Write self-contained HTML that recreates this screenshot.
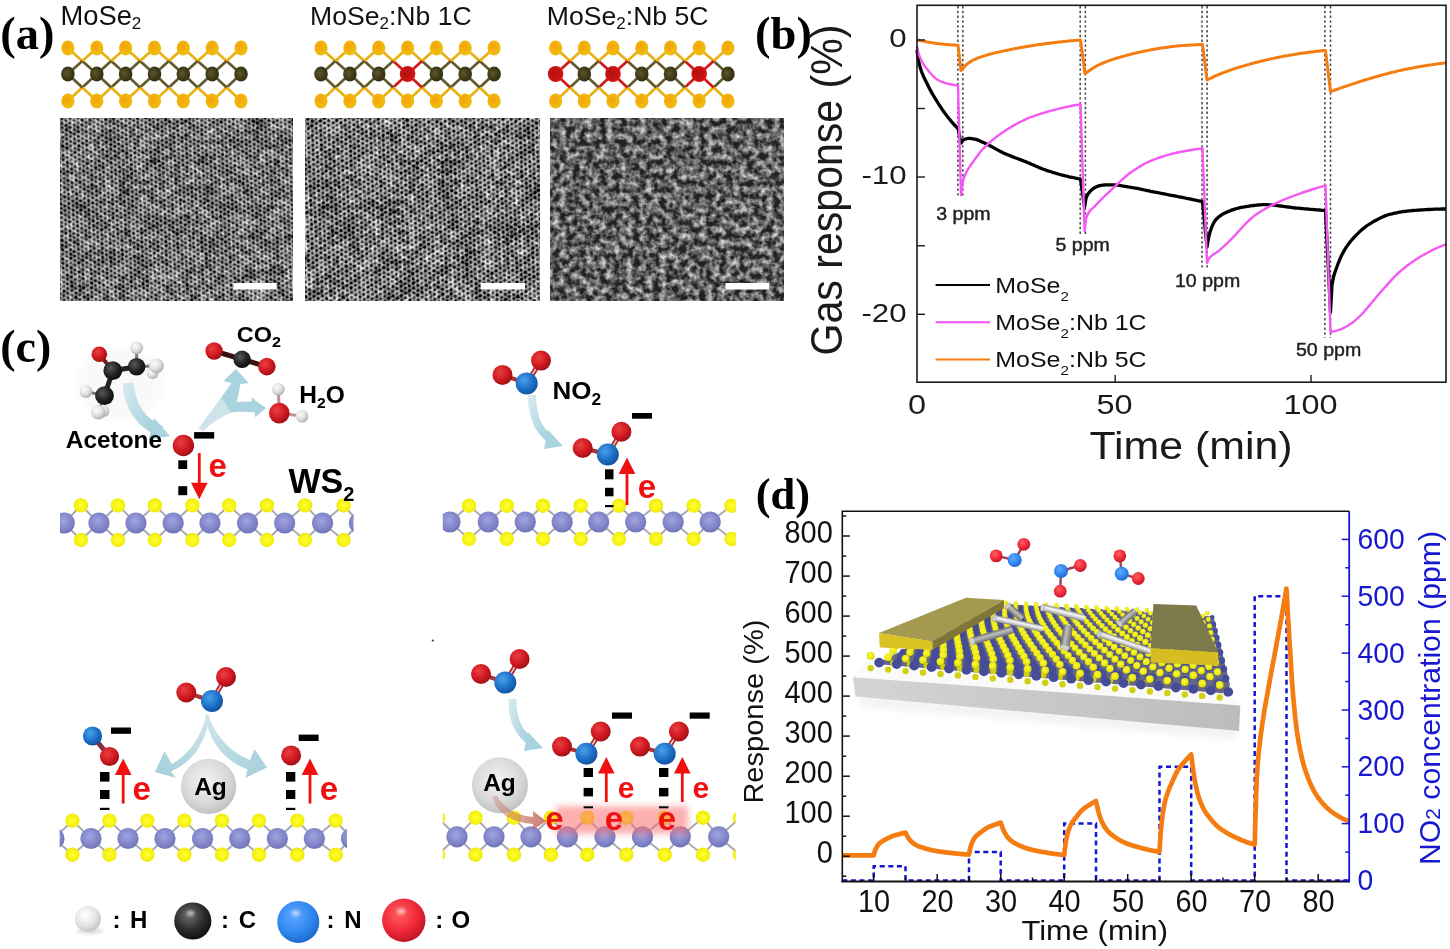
<!DOCTYPE html>
<html lang="en"><head><meta charset="utf-8"><title>Figure</title>
<style>
html,body{margin:0;padding:0;background:#fff;}
body{width:1450px;height:949px;overflow:hidden;}
svg{display:block;}
text.s{font-family:"Liberation Sans",sans-serif;}
text.r{font-family:"Liberation Serif",serif;}
</style></head><body>
<svg width="1450" height="949" viewBox="0 0 1450 949">
<defs>

<radialGradient id="gSe" cx="0.4" cy="0.4" r="0.7"><stop offset="0" stop-color="#f6a010"/><stop offset="0.6" stop-color="#f0b808"/><stop offset="1" stop-color="#e8c020"/></radialGradient>
<radialGradient id="gMo" cx="0.4" cy="0.45" r="0.7"><stop offset="0" stop-color="#5e5628"/><stop offset="0.6" stop-color="#3c3818"/><stop offset="1" stop-color="#2a2a18"/></radialGradient>
<radialGradient id="gNb" cx="0.4" cy="0.45" r="0.7"><stop offset="0" stop-color="#b01010"/><stop offset="0.7" stop-color="#d01414"/><stop offset="1" stop-color="#e02020"/></radialGradient>
<pattern id="lat1" width="4.6" height="7.96" patternUnits="userSpaceOnUse" patternTransform="rotate(-32)">
 <rect width="4.6" height="7.96" fill="#bcbcbc"/><circle cx="1.15" cy="1.99" r="1.55" fill="#2a2a2a"/><circle cx="3.45" cy="5.97" r="1.55" fill="#2a2a2a"/>
</pattern>
<pattern id="lat2" width="4.8" height="8.3" patternUnits="userSpaceOnUse" patternTransform="rotate(28)">
 <rect width="4.8" height="8.3" fill="#c4c4c4"/><circle cx="1.2" cy="2.07" r="1.6" fill="#262626"/><circle cx="3.6" cy="6.22" r="1.6" fill="#262626"/>
</pattern>
<pattern id="lat3" width="5" height="8.6" patternUnits="userSpaceOnUse" patternTransform="rotate(40)">
 <rect width="5" height="8.6" fill="#909090"/><circle cx="1.2" cy="2.1" r="1.4" fill="#505050"/><circle cx="3.7" cy="6.4" r="1.4" fill="#505050"/>
</pattern>
<filter id="tem1" x="0" y="0" width="1" height="1" color-interpolation-filters="sRGB">
 <feTurbulence type="fractalNoise" baseFrequency="0.06" numOctaves="4" seed="3" result="n"/>
 <feColorMatrix in="n" type="matrix" values="1 0 0 0 0  1 0 0 0 0  1 0 0 0 0  0 0 0 0 1" result="g"/>
 <feTurbulence type="fractalNoise" baseFrequency="0.2" numOctaves="2" seed="8" result="m"/>
 <feColorMatrix in="m" type="matrix" values="1 0 0 0 0  1 0 0 0 0  1 0 0 0 0  0 0 0 0 1" result="mg"/>
 <feComposite in="SourceGraphic" in2="g" operator="arithmetic" k1="0" k2="0.9" k3="0.4" k4="-0.235" result="c"/>
 <feComposite in="c" in2="mg" operator="arithmetic" k1="0" k2="1" k3="0.8" k4="-0.4" result="c2"/>
 <feGaussianBlur in="c2" stdDeviation="0.6"/>
</filter>
<filter id="tem2" x="0" y="0" width="1" height="1" color-interpolation-filters="sRGB">
 <feTurbulence type="fractalNoise" baseFrequency="0.05" numOctaves="4" seed="14" result="n"/>
 <feColorMatrix in="n" type="matrix" values="1 0 0 0 0  1 0 0 0 0  1 0 0 0 0  0 0 0 0 1" result="g"/>
 <feTurbulence type="fractalNoise" baseFrequency="0.2" numOctaves="2" seed="31" result="m"/>
 <feColorMatrix in="m" type="matrix" values="1 0 0 0 0  1 0 0 0 0  1 0 0 0 0  0 0 0 0 1" result="mg"/>
 <feComposite in="SourceGraphic" in2="g" operator="arithmetic" k1="0" k2="0.9" k3="0.5" k4="-0.295" result="c"/>
 <feComposite in="c" in2="mg" operator="arithmetic" k1="0" k2="1" k3="0.9" k4="-0.45" result="c2"/>
 <feGaussianBlur in="c2" stdDeviation="0.6"/>
</filter>
<filter id="tem3" x="0" y="0" width="1" height="1" color-interpolation-filters="sRGB">
 <feTurbulence type="fractalNoise" baseFrequency="0.15" numOctaves="3" seed="23" result="n"/>
 <feColorMatrix in="n" type="matrix" values="1 0 0 0 0  1 0 0 0 0  1 0 0 0 0  0 0 0 0 1" result="g"/>
 <feComposite in="SourceGraphic" in2="g" operator="arithmetic" k1="0" k2="0.3" k3="1.9" k4="-0.75" result="c"/>
 <feComponentTransfer in="c" result="c2"><feFuncR type="linear" slope="0.72" intercept="0.13"/><feFuncG type="linear" slope="0.72" intercept="0.13"/><feFuncB type="linear" slope="0.72" intercept="0.13"/></feComponentTransfer>
 <feGaussianBlur in="c2" stdDeviation="0.75"/>
</filter>


<radialGradient id="gO" cx="0.38" cy="0.35" r="0.75"><stop offset="0" stop-color="#e84040"/><stop offset="0.55" stop-color="#d01820"/><stop offset="1" stop-color="#8c1010"/></radialGradient>
<radialGradient id="gN" cx="0.38" cy="0.35" r="0.75"><stop offset="0" stop-color="#4aa0e8"/><stop offset="0.55" stop-color="#1c70c8"/><stop offset="1" stop-color="#104890"/></radialGradient>
<radialGradient id="gC" cx="0.38" cy="0.35" r="0.75"><stop offset="0" stop-color="#585858"/><stop offset="0.55" stop-color="#222"/><stop offset="1" stop-color="#050505"/></radialGradient>
<radialGradient id="gH" cx="0.38" cy="0.35" r="0.75"><stop offset="0" stop-color="#ffffff"/><stop offset="0.55" stop-color="#dcdcdc"/><stop offset="1" stop-color="#a0a0a0"/></radialGradient>
<radialGradient id="gW" cx="0.45" cy="0.4" r="0.75"><stop offset="0" stop-color="#a0a4e0"/><stop offset="0.55" stop-color="#8084c8"/><stop offset="1" stop-color="#6468a8"/></radialGradient>
<radialGradient id="gS" cx="0.5" cy="0.5" r="0.75"><stop offset="0" stop-color="#ffff30"/><stop offset="0.55" stop-color="#f4f010"/><stop offset="1" stop-color="#e0d800"/></radialGradient>
<radialGradient id="gAg" cx="0.45" cy="0.4" r="0.75"><stop offset="0" stop-color="#f4f4f4"/><stop offset="0.55" stop-color="#d8d8d8"/><stop offset="1" stop-color="#b0b0b0"/></radialGradient>
<radialGradient id="gLH" cx="0.4" cy="0.35" r="0.75"><stop offset="0" stop-color="#ffffff"/><stop offset="0.55" stop-color="#e4e4e4"/><stop offset="1" stop-color="#b8b8b8"/></radialGradient>
<radialGradient id="gLC" cx="0.4" cy="0.35" r="0.75"><stop offset="0" stop-color="#707070"/><stop offset="0.55" stop-color="#2a2a2a"/><stop offset="1" stop-color="#080808"/></radialGradient>
<radialGradient id="gLN" cx="0.4" cy="0.35" r="0.75"><stop offset="0" stop-color="#60a8ff"/><stop offset="0.55" stop-color="#3088f0"/><stop offset="1" stop-color="#1860c0"/></radialGradient>
<radialGradient id="gLO" cx="0.4" cy="0.35" r="0.75"><stop offset="0" stop-color="#ff6060"/><stop offset="0.55" stop-color="#f02838"/><stop offset="1" stop-color="#b01020"/></radialGradient>
<linearGradient id="gArr" x1="0" y1="0" x2="1" y2="1"><stop offset="0" stop-color="#d4e8ee"/><stop offset="1" stop-color="#a0cedb"/></linearGradient>
<linearGradient id="gArrL" x1="1" y1="0" x2="0" y2="1"><stop offset="0" stop-color="#cfe6ec"/><stop offset="1" stop-color="#a3cfdb"/></linearGradient>
<linearGradient id="gArrR" x1="0" y1="0" x2="1" y2="1"><stop offset="0" stop-color="#cfe6ec"/><stop offset="1" stop-color="#a3cfdb"/></linearGradient>
<linearGradient id="gBrown" x1="0" y1="0" x2="1" y2="0"><stop offset="0" stop-color="#c87868" stop-opacity="0.35"/><stop offset="1" stop-color="#c46a60" stop-opacity="0.9"/></linearGradient>
<filter id="blur2" x="-0.2" y="-0.5" width="1.4" height="2"><feGaussianBlur stdDeviation="3"/></filter>
<filter id="shadow" x="-0.3" y="-0.3" width="1.6" height="1.6"><feGaussianBlur stdDeviation="1.5"/></filter>
<linearGradient id="dSlab" x1="0" y1="0" x2="1" y2="0"><stop offset="0" stop-color="#d4d4d4"/><stop offset="1" stop-color="#bcbcbc"/></linearGradient>
<linearGradient id="dWire" x1="0" y1="0" x2="0" y2="1"><stop offset="0" stop-color="#8c8c8c"/><stop offset="0.35" stop-color="#f8f8f8"/><stop offset="0.7" stop-color="#c8c8c8"/><stop offset="1" stop-color="#808080"/></linearGradient>
<linearGradient id="dWireD" x1="0" y1="0" x2="0" y2="1"><stop offset="0" stop-color="#6a6a6a"/><stop offset="0.4" stop-color="#c0c0c0"/><stop offset="1" stop-color="#707070"/></linearGradient>
<linearGradient id="dGoldT" x1="0" y1="1" x2="1" y2="0"><stop offset="0" stop-color="#a89c50"/><stop offset="1" stop-color="#948a48"/></linearGradient>
<radialGradient id="gIS" cx="0.45" cy="0.4" r="0.7"><stop offset="0" stop-color="#fcfc30"/><stop offset="0.7" stop-color="#e6e210"/><stop offset="1" stop-color="#b4b000"/></radialGradient>
<filter id="dsh" x="-0.1" y="-0.5" width="1.2" height="2"><feGaussianBlur stdDeviation="4"/></filter>
</defs>
<rect width="1450" height="949" fill="#fff"/>
<g id="panel_a">
<text class="r" x="0.3" y="49" font-size="46.5" font-weight="bold" fill="#000">(a)</text>
<text class="s" x="60.5" y="25" font-size="27.3" fill="#111">MoSe<tspan font-size="17" dy="4">2</tspan></text>
<text class="s" x="310" y="25" font-size="26.6" fill="#111">MoSe<tspan font-size="17" dy="4">2</tspan><tspan dy="-4">:Nb 1C</tspan></text>
<text class="s" x="546.8" y="25" font-size="26.6" fill="#111">MoSe<tspan font-size="17" dy="4">2</tspan><tspan dy="-4">:Nb 5C</tspan></text>
<line x1="67.9" y1="48" x2="82.3" y2="61" stroke="#eab010" stroke-width="2.7"/>
<line x1="82.3" y1="61" x2="96.8" y2="74" stroke="#625a2a" stroke-width="2.7"/>
<line x1="67.9" y1="101" x2="82.3" y2="87.5" stroke="#eab010" stroke-width="2.7"/>
<line x1="82.3" y1="87.5" x2="96.8" y2="74" stroke="#625a2a" stroke-width="2.7"/>
<line x1="96.8" y1="48" x2="82.3" y2="61" stroke="#eab010" stroke-width="2.7"/>
<line x1="82.3" y1="61" x2="67.9" y2="74" stroke="#625a2a" stroke-width="2.7"/>
<line x1="96.8" y1="101" x2="82.3" y2="87.5" stroke="#eab010" stroke-width="2.7"/>
<line x1="82.3" y1="87.5" x2="67.9" y2="74" stroke="#625a2a" stroke-width="2.7"/>
<line x1="96.8" y1="48" x2="111.2" y2="61" stroke="#eab010" stroke-width="2.7"/>
<line x1="111.2" y1="61" x2="125.6" y2="74" stroke="#625a2a" stroke-width="2.7"/>
<line x1="96.8" y1="101" x2="111.2" y2="87.5" stroke="#eab010" stroke-width="2.7"/>
<line x1="111.2" y1="87.5" x2="125.6" y2="74" stroke="#625a2a" stroke-width="2.7"/>
<line x1="125.6" y1="48" x2="111.2" y2="61" stroke="#eab010" stroke-width="2.7"/>
<line x1="111.2" y1="61" x2="96.8" y2="74" stroke="#625a2a" stroke-width="2.7"/>
<line x1="125.6" y1="101" x2="111.2" y2="87.5" stroke="#eab010" stroke-width="2.7"/>
<line x1="111.2" y1="87.5" x2="96.8" y2="74" stroke="#625a2a" stroke-width="2.7"/>
<line x1="125.6" y1="48" x2="140" y2="61" stroke="#eab010" stroke-width="2.7"/>
<line x1="140" y1="61" x2="154.5" y2="74" stroke="#625a2a" stroke-width="2.7"/>
<line x1="125.6" y1="101" x2="140" y2="87.5" stroke="#eab010" stroke-width="2.7"/>
<line x1="140" y1="87.5" x2="154.5" y2="74" stroke="#625a2a" stroke-width="2.7"/>
<line x1="154.5" y1="48" x2="140" y2="61" stroke="#eab010" stroke-width="2.7"/>
<line x1="140" y1="61" x2="125.6" y2="74" stroke="#625a2a" stroke-width="2.7"/>
<line x1="154.5" y1="101" x2="140" y2="87.5" stroke="#eab010" stroke-width="2.7"/>
<line x1="140" y1="87.5" x2="125.6" y2="74" stroke="#625a2a" stroke-width="2.7"/>
<line x1="154.5" y1="48" x2="168.9" y2="61" stroke="#eab010" stroke-width="2.7"/>
<line x1="168.9" y1="61" x2="183.3" y2="74" stroke="#625a2a" stroke-width="2.7"/>
<line x1="154.5" y1="101" x2="168.9" y2="87.5" stroke="#eab010" stroke-width="2.7"/>
<line x1="168.9" y1="87.5" x2="183.3" y2="74" stroke="#625a2a" stroke-width="2.7"/>
<line x1="183.3" y1="48" x2="168.9" y2="61" stroke="#eab010" stroke-width="2.7"/>
<line x1="168.9" y1="61" x2="154.5" y2="74" stroke="#625a2a" stroke-width="2.7"/>
<line x1="183.3" y1="101" x2="168.9" y2="87.5" stroke="#eab010" stroke-width="2.7"/>
<line x1="168.9" y1="87.5" x2="154.5" y2="74" stroke="#625a2a" stroke-width="2.7"/>
<line x1="183.3" y1="48" x2="197.7" y2="61" stroke="#eab010" stroke-width="2.7"/>
<line x1="197.7" y1="61" x2="212.2" y2="74" stroke="#625a2a" stroke-width="2.7"/>
<line x1="183.3" y1="101" x2="197.7" y2="87.5" stroke="#eab010" stroke-width="2.7"/>
<line x1="197.7" y1="87.5" x2="212.2" y2="74" stroke="#625a2a" stroke-width="2.7"/>
<line x1="212.2" y1="48" x2="197.7" y2="61" stroke="#eab010" stroke-width="2.7"/>
<line x1="197.7" y1="61" x2="183.3" y2="74" stroke="#625a2a" stroke-width="2.7"/>
<line x1="212.2" y1="101" x2="197.7" y2="87.5" stroke="#eab010" stroke-width="2.7"/>
<line x1="197.7" y1="87.5" x2="183.3" y2="74" stroke="#625a2a" stroke-width="2.7"/>
<line x1="212.2" y1="48" x2="226.6" y2="61" stroke="#eab010" stroke-width="2.7"/>
<line x1="226.6" y1="61" x2="241" y2="74" stroke="#625a2a" stroke-width="2.7"/>
<line x1="212.2" y1="101" x2="226.6" y2="87.5" stroke="#eab010" stroke-width="2.7"/>
<line x1="226.6" y1="87.5" x2="241" y2="74" stroke="#625a2a" stroke-width="2.7"/>
<line x1="241" y1="48" x2="226.6" y2="61" stroke="#eab010" stroke-width="2.7"/>
<line x1="226.6" y1="61" x2="212.2" y2="74" stroke="#625a2a" stroke-width="2.7"/>
<line x1="241" y1="101" x2="226.6" y2="87.5" stroke="#eab010" stroke-width="2.7"/>
<line x1="226.6" y1="87.5" x2="212.2" y2="74" stroke="#625a2a" stroke-width="2.7"/>
<ellipse cx="67.9" cy="48" rx="6.6" ry="7.6" fill="url(#gSe)"/>
<ellipse cx="67.9" cy="101" rx="6.6" ry="7.6" fill="url(#gSe)"/>
<ellipse cx="67.9" cy="74" rx="6.8" ry="7.4" fill="url(#gMo)"/>
<ellipse cx="96.8" cy="48" rx="6.6" ry="7.6" fill="url(#gSe)"/>
<ellipse cx="96.8" cy="101" rx="6.6" ry="7.6" fill="url(#gSe)"/>
<ellipse cx="96.8" cy="74" rx="6.8" ry="7.4" fill="url(#gMo)"/>
<ellipse cx="125.6" cy="48" rx="6.6" ry="7.6" fill="url(#gSe)"/>
<ellipse cx="125.6" cy="101" rx="6.6" ry="7.6" fill="url(#gSe)"/>
<ellipse cx="125.6" cy="74" rx="6.8" ry="7.4" fill="url(#gMo)"/>
<ellipse cx="154.5" cy="48" rx="6.6" ry="7.6" fill="url(#gSe)"/>
<ellipse cx="154.5" cy="101" rx="6.6" ry="7.6" fill="url(#gSe)"/>
<ellipse cx="154.5" cy="74" rx="6.8" ry="7.4" fill="url(#gMo)"/>
<ellipse cx="183.3" cy="48" rx="6.6" ry="7.6" fill="url(#gSe)"/>
<ellipse cx="183.3" cy="101" rx="6.6" ry="7.6" fill="url(#gSe)"/>
<ellipse cx="183.3" cy="74" rx="6.8" ry="7.4" fill="url(#gMo)"/>
<ellipse cx="212.2" cy="48" rx="6.6" ry="7.6" fill="url(#gSe)"/>
<ellipse cx="212.2" cy="101" rx="6.6" ry="7.6" fill="url(#gSe)"/>
<ellipse cx="212.2" cy="74" rx="6.8" ry="7.4" fill="url(#gMo)"/>
<ellipse cx="241" cy="48" rx="6.6" ry="7.6" fill="url(#gSe)"/>
<ellipse cx="241" cy="101" rx="6.6" ry="7.6" fill="url(#gSe)"/>
<ellipse cx="241" cy="74" rx="6.8" ry="7.4" fill="url(#gMo)"/>
<line x1="321" y1="48" x2="335.4" y2="61" stroke="#eab010" stroke-width="2.7"/>
<line x1="335.4" y1="61" x2="349.9" y2="74" stroke="#625a2a" stroke-width="2.7"/>
<line x1="321" y1="101" x2="335.4" y2="87.5" stroke="#eab010" stroke-width="2.7"/>
<line x1="335.4" y1="87.5" x2="349.9" y2="74" stroke="#625a2a" stroke-width="2.7"/>
<line x1="349.9" y1="48" x2="335.4" y2="61" stroke="#eab010" stroke-width="2.7"/>
<line x1="335.4" y1="61" x2="321" y2="74" stroke="#625a2a" stroke-width="2.7"/>
<line x1="349.9" y1="101" x2="335.4" y2="87.5" stroke="#eab010" stroke-width="2.7"/>
<line x1="335.4" y1="87.5" x2="321" y2="74" stroke="#625a2a" stroke-width="2.7"/>
<line x1="349.9" y1="48" x2="364.3" y2="61" stroke="#eab010" stroke-width="2.7"/>
<line x1="364.3" y1="61" x2="378.7" y2="74" stroke="#625a2a" stroke-width="2.7"/>
<line x1="349.9" y1="101" x2="364.3" y2="87.5" stroke="#eab010" stroke-width="2.7"/>
<line x1="364.3" y1="87.5" x2="378.7" y2="74" stroke="#625a2a" stroke-width="2.7"/>
<line x1="378.7" y1="48" x2="364.3" y2="61" stroke="#eab010" stroke-width="2.7"/>
<line x1="364.3" y1="61" x2="349.9" y2="74" stroke="#625a2a" stroke-width="2.7"/>
<line x1="378.7" y1="101" x2="364.3" y2="87.5" stroke="#eab010" stroke-width="2.7"/>
<line x1="364.3" y1="87.5" x2="349.9" y2="74" stroke="#625a2a" stroke-width="2.7"/>
<line x1="378.7" y1="48" x2="393.1" y2="61" stroke="#eab010" stroke-width="2.7"/>
<line x1="393.1" y1="61" x2="407.6" y2="74" stroke="#d01818" stroke-width="2.7"/>
<line x1="378.7" y1="101" x2="393.1" y2="87.5" stroke="#eab010" stroke-width="2.7"/>
<line x1="393.1" y1="87.5" x2="407.6" y2="74" stroke="#d01818" stroke-width="2.7"/>
<line x1="407.6" y1="48" x2="393.1" y2="61" stroke="#eab010" stroke-width="2.7"/>
<line x1="393.1" y1="61" x2="378.7" y2="74" stroke="#625a2a" stroke-width="2.7"/>
<line x1="407.6" y1="101" x2="393.1" y2="87.5" stroke="#eab010" stroke-width="2.7"/>
<line x1="393.1" y1="87.5" x2="378.7" y2="74" stroke="#625a2a" stroke-width="2.7"/>
<line x1="407.6" y1="48" x2="422" y2="61" stroke="#eab010" stroke-width="2.7"/>
<line x1="422" y1="61" x2="436.4" y2="74" stroke="#625a2a" stroke-width="2.7"/>
<line x1="407.6" y1="101" x2="422" y2="87.5" stroke="#eab010" stroke-width="2.7"/>
<line x1="422" y1="87.5" x2="436.4" y2="74" stroke="#625a2a" stroke-width="2.7"/>
<line x1="436.4" y1="48" x2="422" y2="61" stroke="#eab010" stroke-width="2.7"/>
<line x1="422" y1="61" x2="407.6" y2="74" stroke="#d01818" stroke-width="2.7"/>
<line x1="436.4" y1="101" x2="422" y2="87.5" stroke="#eab010" stroke-width="2.7"/>
<line x1="422" y1="87.5" x2="407.6" y2="74" stroke="#d01818" stroke-width="2.7"/>
<line x1="436.4" y1="48" x2="450.8" y2="61" stroke="#eab010" stroke-width="2.7"/>
<line x1="450.8" y1="61" x2="465.2" y2="74" stroke="#625a2a" stroke-width="2.7"/>
<line x1="436.4" y1="101" x2="450.8" y2="87.5" stroke="#eab010" stroke-width="2.7"/>
<line x1="450.8" y1="87.5" x2="465.2" y2="74" stroke="#625a2a" stroke-width="2.7"/>
<line x1="465.2" y1="48" x2="450.8" y2="61" stroke="#eab010" stroke-width="2.7"/>
<line x1="450.8" y1="61" x2="436.4" y2="74" stroke="#625a2a" stroke-width="2.7"/>
<line x1="465.2" y1="101" x2="450.8" y2="87.5" stroke="#eab010" stroke-width="2.7"/>
<line x1="450.8" y1="87.5" x2="436.4" y2="74" stroke="#625a2a" stroke-width="2.7"/>
<line x1="465.2" y1="48" x2="479.7" y2="61" stroke="#eab010" stroke-width="2.7"/>
<line x1="479.7" y1="61" x2="494.1" y2="74" stroke="#625a2a" stroke-width="2.7"/>
<line x1="465.2" y1="101" x2="479.7" y2="87.5" stroke="#eab010" stroke-width="2.7"/>
<line x1="479.7" y1="87.5" x2="494.1" y2="74" stroke="#625a2a" stroke-width="2.7"/>
<line x1="494.1" y1="48" x2="479.7" y2="61" stroke="#eab010" stroke-width="2.7"/>
<line x1="479.7" y1="61" x2="465.2" y2="74" stroke="#625a2a" stroke-width="2.7"/>
<line x1="494.1" y1="101" x2="479.7" y2="87.5" stroke="#eab010" stroke-width="2.7"/>
<line x1="479.7" y1="87.5" x2="465.2" y2="74" stroke="#625a2a" stroke-width="2.7"/>
<ellipse cx="321" cy="48" rx="6.6" ry="7.6" fill="url(#gSe)"/>
<ellipse cx="321" cy="101" rx="6.6" ry="7.6" fill="url(#gSe)"/>
<ellipse cx="321" cy="74" rx="6.8" ry="7.4" fill="url(#gMo)"/>
<ellipse cx="349.9" cy="48" rx="6.6" ry="7.6" fill="url(#gSe)"/>
<ellipse cx="349.9" cy="101" rx="6.6" ry="7.6" fill="url(#gSe)"/>
<ellipse cx="349.9" cy="74" rx="6.8" ry="7.4" fill="url(#gMo)"/>
<ellipse cx="378.7" cy="48" rx="6.6" ry="7.6" fill="url(#gSe)"/>
<ellipse cx="378.7" cy="101" rx="6.6" ry="7.6" fill="url(#gSe)"/>
<ellipse cx="378.7" cy="74" rx="6.8" ry="7.4" fill="url(#gMo)"/>
<ellipse cx="407.6" cy="48" rx="6.6" ry="7.6" fill="url(#gSe)"/>
<ellipse cx="407.6" cy="101" rx="6.6" ry="7.6" fill="url(#gSe)"/>
<ellipse cx="407.6" cy="74" rx="7.8" ry="8" fill="url(#gNb)"/>
<ellipse cx="436.4" cy="48" rx="6.6" ry="7.6" fill="url(#gSe)"/>
<ellipse cx="436.4" cy="101" rx="6.6" ry="7.6" fill="url(#gSe)"/>
<ellipse cx="436.4" cy="74" rx="6.8" ry="7.4" fill="url(#gMo)"/>
<ellipse cx="465.2" cy="48" rx="6.6" ry="7.6" fill="url(#gSe)"/>
<ellipse cx="465.2" cy="101" rx="6.6" ry="7.6" fill="url(#gSe)"/>
<ellipse cx="465.2" cy="74" rx="6.8" ry="7.4" fill="url(#gMo)"/>
<ellipse cx="494.1" cy="48" rx="6.6" ry="7.6" fill="url(#gSe)"/>
<ellipse cx="494.1" cy="101" rx="6.6" ry="7.6" fill="url(#gSe)"/>
<ellipse cx="494.1" cy="74" rx="6.8" ry="7.4" fill="url(#gMo)"/>
<line x1="555.6" y1="48" x2="570" y2="61" stroke="#eab010" stroke-width="2.7"/>
<line x1="570" y1="61" x2="584.3" y2="74" stroke="#625a2a" stroke-width="2.7"/>
<line x1="555.6" y1="101" x2="570" y2="87.5" stroke="#eab010" stroke-width="2.7"/>
<line x1="570" y1="87.5" x2="584.3" y2="74" stroke="#625a2a" stroke-width="2.7"/>
<line x1="584.3" y1="48" x2="570" y2="61" stroke="#eab010" stroke-width="2.7"/>
<line x1="570" y1="61" x2="555.6" y2="74" stroke="#d01818" stroke-width="2.7"/>
<line x1="584.3" y1="101" x2="570" y2="87.5" stroke="#eab010" stroke-width="2.7"/>
<line x1="570" y1="87.5" x2="555.6" y2="74" stroke="#d01818" stroke-width="2.7"/>
<line x1="584.3" y1="48" x2="598.7" y2="61" stroke="#eab010" stroke-width="2.7"/>
<line x1="598.7" y1="61" x2="613" y2="74" stroke="#d01818" stroke-width="2.7"/>
<line x1="584.3" y1="101" x2="598.7" y2="87.5" stroke="#eab010" stroke-width="2.7"/>
<line x1="598.7" y1="87.5" x2="613" y2="74" stroke="#d01818" stroke-width="2.7"/>
<line x1="613" y1="48" x2="598.7" y2="61" stroke="#eab010" stroke-width="2.7"/>
<line x1="598.7" y1="61" x2="584.3" y2="74" stroke="#625a2a" stroke-width="2.7"/>
<line x1="613" y1="101" x2="598.7" y2="87.5" stroke="#eab010" stroke-width="2.7"/>
<line x1="598.7" y1="87.5" x2="584.3" y2="74" stroke="#625a2a" stroke-width="2.7"/>
<line x1="613" y1="48" x2="627.4" y2="61" stroke="#eab010" stroke-width="2.7"/>
<line x1="627.4" y1="61" x2="641.8" y2="74" stroke="#625a2a" stroke-width="2.7"/>
<line x1="613" y1="101" x2="627.4" y2="87.5" stroke="#eab010" stroke-width="2.7"/>
<line x1="627.4" y1="87.5" x2="641.8" y2="74" stroke="#625a2a" stroke-width="2.7"/>
<line x1="641.8" y1="48" x2="627.4" y2="61" stroke="#eab010" stroke-width="2.7"/>
<line x1="627.4" y1="61" x2="613" y2="74" stroke="#d01818" stroke-width="2.7"/>
<line x1="641.8" y1="101" x2="627.4" y2="87.5" stroke="#eab010" stroke-width="2.7"/>
<line x1="627.4" y1="87.5" x2="613" y2="74" stroke="#d01818" stroke-width="2.7"/>
<line x1="641.8" y1="48" x2="656.1" y2="61" stroke="#eab010" stroke-width="2.7"/>
<line x1="656.1" y1="61" x2="670.5" y2="74" stroke="#625a2a" stroke-width="2.7"/>
<line x1="641.8" y1="101" x2="656.1" y2="87.5" stroke="#eab010" stroke-width="2.7"/>
<line x1="656.1" y1="87.5" x2="670.5" y2="74" stroke="#625a2a" stroke-width="2.7"/>
<line x1="670.5" y1="48" x2="656.1" y2="61" stroke="#eab010" stroke-width="2.7"/>
<line x1="656.1" y1="61" x2="641.8" y2="74" stroke="#625a2a" stroke-width="2.7"/>
<line x1="670.5" y1="101" x2="656.1" y2="87.5" stroke="#eab010" stroke-width="2.7"/>
<line x1="656.1" y1="87.5" x2="641.8" y2="74" stroke="#625a2a" stroke-width="2.7"/>
<line x1="670.5" y1="48" x2="684.8" y2="61" stroke="#eab010" stroke-width="2.7"/>
<line x1="684.8" y1="61" x2="699.2" y2="74" stroke="#d01818" stroke-width="2.7"/>
<line x1="670.5" y1="101" x2="684.8" y2="87.5" stroke="#eab010" stroke-width="2.7"/>
<line x1="684.8" y1="87.5" x2="699.2" y2="74" stroke="#d01818" stroke-width="2.7"/>
<line x1="699.2" y1="48" x2="684.8" y2="61" stroke="#eab010" stroke-width="2.7"/>
<line x1="684.8" y1="61" x2="670.5" y2="74" stroke="#625a2a" stroke-width="2.7"/>
<line x1="699.2" y1="101" x2="684.8" y2="87.5" stroke="#eab010" stroke-width="2.7"/>
<line x1="684.8" y1="87.5" x2="670.5" y2="74" stroke="#625a2a" stroke-width="2.7"/>
<line x1="699.2" y1="48" x2="713.6" y2="61" stroke="#eab010" stroke-width="2.7"/>
<line x1="713.6" y1="61" x2="727.9" y2="74" stroke="#625a2a" stroke-width="2.7"/>
<line x1="699.2" y1="101" x2="713.6" y2="87.5" stroke="#eab010" stroke-width="2.7"/>
<line x1="713.6" y1="87.5" x2="727.9" y2="74" stroke="#625a2a" stroke-width="2.7"/>
<line x1="727.9" y1="48" x2="713.6" y2="61" stroke="#eab010" stroke-width="2.7"/>
<line x1="713.6" y1="61" x2="699.2" y2="74" stroke="#d01818" stroke-width="2.7"/>
<line x1="727.9" y1="101" x2="713.6" y2="87.5" stroke="#eab010" stroke-width="2.7"/>
<line x1="713.6" y1="87.5" x2="699.2" y2="74" stroke="#d01818" stroke-width="2.7"/>
<ellipse cx="555.6" cy="48" rx="6.6" ry="7.6" fill="url(#gSe)"/>
<ellipse cx="555.6" cy="101" rx="6.6" ry="7.6" fill="url(#gSe)"/>
<ellipse cx="555.6" cy="74" rx="7.8" ry="8" fill="url(#gNb)"/>
<ellipse cx="584.3" cy="48" rx="6.6" ry="7.6" fill="url(#gSe)"/>
<ellipse cx="584.3" cy="101" rx="6.6" ry="7.6" fill="url(#gSe)"/>
<ellipse cx="584.3" cy="74" rx="6.8" ry="7.4" fill="url(#gMo)"/>
<ellipse cx="613" cy="48" rx="6.6" ry="7.6" fill="url(#gSe)"/>
<ellipse cx="613" cy="101" rx="6.6" ry="7.6" fill="url(#gSe)"/>
<ellipse cx="613" cy="74" rx="7.8" ry="8" fill="url(#gNb)"/>
<ellipse cx="641.8" cy="48" rx="6.6" ry="7.6" fill="url(#gSe)"/>
<ellipse cx="641.8" cy="101" rx="6.6" ry="7.6" fill="url(#gSe)"/>
<ellipse cx="641.8" cy="74" rx="6.8" ry="7.4" fill="url(#gMo)"/>
<ellipse cx="670.5" cy="48" rx="6.6" ry="7.6" fill="url(#gSe)"/>
<ellipse cx="670.5" cy="101" rx="6.6" ry="7.6" fill="url(#gSe)"/>
<ellipse cx="670.5" cy="74" rx="6.8" ry="7.4" fill="url(#gMo)"/>
<ellipse cx="699.2" cy="48" rx="6.6" ry="7.6" fill="url(#gSe)"/>
<ellipse cx="699.2" cy="101" rx="6.6" ry="7.6" fill="url(#gSe)"/>
<ellipse cx="699.2" cy="74" rx="7.8" ry="8" fill="url(#gNb)"/>
<ellipse cx="727.9" cy="48" rx="6.6" ry="7.6" fill="url(#gSe)"/>
<ellipse cx="727.9" cy="101" rx="6.6" ry="7.6" fill="url(#gSe)"/>
<ellipse cx="727.9" cy="74" rx="6.8" ry="7.4" fill="url(#gMo)"/>
<g>
<rect x="60" y="118" width="233" height="183" fill="url(#lat1)" filter="url(#tem1)"/>
<rect x="233.4" y="283" width="43.3" height="6.5" fill="#fff"/>
</g>
<g>
<rect x="305" y="118" width="235" height="183" fill="url(#lat2)" filter="url(#tem2)"/>
<rect x="480.7" y="283" width="44.3" height="6.5" fill="#fff"/>
</g>
<g>
<rect x="550" y="118" width="234" height="183" fill="url(#lat3)" filter="url(#tem3)"/>
<rect x="725.4" y="283" width="43.8" height="6.5" fill="#fff"/>
</g>
</g>
<g id="panel_b">
<text class="r" x="755.1" y="49" font-size="46.5" font-weight="bold" fill="#000">(b)</text>
<text class="s" transform="translate(842,190) rotate(-90) scale(0.99,1.06)" text-anchor="middle" font-size="41.5" fill="#1a1a1a">Gas response (%)</text>
<text class="s" transform="translate(1191,459.3) scale(1.085,1)" font-size="39.5" text-anchor="middle" fill="#1a1a1a">Time (min)</text>
<text class="s" transform="translate(906.5,47.2) scale(1.2,1)" font-size="26" text-anchor="end" fill="#1a1a1a">0</text>
<text class="s" transform="translate(906.5,184.2) scale(1.2,1)" font-size="26" text-anchor="end" fill="#1a1a1a">-10</text>
<text class="s" transform="translate(906.5,321.5) scale(1.2,1)" font-size="26" text-anchor="end" fill="#1a1a1a">-20</text>
<text class="s" transform="translate(917,414.3) scale(1.19,1)" font-size="27.3" text-anchor="middle" fill="#1a1a1a">0</text>
<text class="s" transform="translate(1114.5,414.3) scale(1.19,1)" font-size="27.3" text-anchor="middle" fill="#1a1a1a">50</text>
<text class="s" transform="translate(1310.5,414.3) scale(1.19,1)" font-size="27.3" text-anchor="middle" fill="#1a1a1a">100</text>
<line x1="957.9" y1="6" x2="957.9" y2="198" stroke="#444" stroke-width="1.5" stroke-dasharray="2.4 2.4"/>
<line x1="962.8" y1="6" x2="962.8" y2="198" stroke="#444" stroke-width="1.5" stroke-dasharray="2.4 2.4"/>
<line x1="1080.2" y1="6" x2="1080.2" y2="236" stroke="#444" stroke-width="1.5" stroke-dasharray="2.4 2.4"/>
<line x1="1085.4" y1="6" x2="1085.4" y2="236" stroke="#444" stroke-width="1.5" stroke-dasharray="2.4 2.4"/>
<line x1="1202" y1="6" x2="1202" y2="270" stroke="#444" stroke-width="1.5" stroke-dasharray="2.4 2.4"/>
<line x1="1207.1" y1="6" x2="1207.1" y2="270" stroke="#444" stroke-width="1.5" stroke-dasharray="2.4 2.4"/>
<line x1="1324.9" y1="6" x2="1324.9" y2="338" stroke="#444" stroke-width="1.5" stroke-dasharray="2.4 2.4"/>
<line x1="1330.5" y1="6" x2="1330.5" y2="338" stroke="#444" stroke-width="1.5" stroke-dasharray="2.4 2.4"/>
<path d="M917 50 L918.5 61 L920 66.8 L921.5 71.5 L923 75.2 L924.5 78.5 L926 81.5 L927.5 84.5 L929 87.6 L930.5 90.4 L932 93.1 L933.5 95.7 L935 98.2 L936.5 100.6 L938 103 L939.5 105.3 L941 107.6 L942.5 109.9 L944 112 L945.5 114.1 L947 116.1 L948.5 118 L950 119.8 L951.5 121.6 L953 123.3 L954.5 125 L956 126.5 L957.5 128 L958 128.5 L961 143 L962.5 140.8 L964 139.5 L965.5 139 L967 138.6 L968.5 138.4 L970 138.4 L971.5 138.6 L973 138.8 L974.5 139.1 L976 139.4 L977.5 139.9 L979 140.5 L980.5 141.2 L982 141.9 L983.5 142.6 L985 143.3 L986.5 144 L988 144.8 L989.5 145.5 L991 146.3 L992.5 147.1 L994 147.9 L995.5 148.8 L997 149.6 L998.5 150.4 L1000 151.2 L1001.5 151.9 L1003 152.7 L1004.5 153.4 L1006 154.1 L1007.5 154.7 L1009 155.3 L1010.5 155.9 L1012 156.5 L1013.5 157.1 L1015 157.7 L1016.5 158.2 L1018 158.8 L1019.5 159.4 L1021 159.9 L1022.5 160.5 L1024 161.1 L1025.5 161.6 L1027 162.2 L1028.5 162.9 L1030 163.5 L1031.5 164.2 L1033 164.8 L1034.5 165.5 L1036 166.2 L1037.5 166.8 L1039 167.5 L1040.5 168.1 L1042 168.7 L1043.5 169.3 L1045 169.8 L1046.5 170.4 L1048 170.9 L1049.5 171.3 L1051 171.8 L1052.5 172.3 L1054 172.7 L1055.5 173.2 L1057 173.6 L1058.5 174 L1060 174.5 L1061.5 174.9 L1063 175.3 L1064.5 175.7 L1066 176 L1067.5 176.4 L1069 176.8 L1070.5 177.1 L1072 177.4 L1073.5 177.7 L1075 178 L1076.5 178.3 L1078 178.6 L1079.5 178.8 L1080.5 179 L1084.6 207 L1086.1 197.7 L1087.6 194.5 L1089.1 192.6 L1090.6 190.9 L1092.1 189.5 L1093.6 188.3 L1095.1 187.5 L1096.6 186.8 L1098.1 186.1 L1099.6 185.7 L1101.1 185.3 L1102.6 185.2 L1104.1 185 L1105.6 184.9 L1107.1 184.9 L1108.6 184.8 L1110.1 184.8 L1111.6 184.8 L1113.1 184.9 L1114.6 185 L1116.1 185.1 L1117.6 185.2 L1119.1 185.4 L1120.6 185.6 L1122.1 185.9 L1123.6 186.1 L1125.1 186.4 L1126.6 186.6 L1128.1 186.9 L1129.6 187.1 L1131.1 187.4 L1132.6 187.6 L1134.1 187.9 L1135.6 188.1 L1137.1 188.4 L1138.6 188.7 L1140.1 189 L1141.6 189.3 L1143.1 189.7 L1144.6 190 L1146.1 190.3 L1147.6 190.6 L1149.1 190.9 L1150.6 191.3 L1152.1 191.6 L1153.6 191.9 L1155.1 192.2 L1156.6 192.4 L1158.1 192.7 L1159.6 193 L1161.1 193.3 L1162.6 193.6 L1164.1 193.9 L1165.6 194.2 L1167.1 194.5 L1168.6 194.8 L1170.1 195.1 L1171.6 195.3 L1173.1 195.6 L1174.6 195.9 L1176.1 196.2 L1177.6 196.5 L1179.1 196.8 L1180.6 197.1 L1182.1 197.4 L1183.6 197.7 L1185.1 198 L1186.6 198.3 L1188.1 198.6 L1189.6 198.9 L1191.1 199.2 L1192.6 199.6 L1194.1 199.9 L1195.6 200.2 L1197.1 200.5 L1198.6 200.8 L1200.1 201.1 L1201.6 201.4 L1202.5 201.6 L1207 247 L1208.5 238 L1210 232 L1211.5 227.7 L1213 224.3 L1214.5 221.5 L1216 219.5 L1217.5 218 L1219 216.7 L1220.5 215.6 L1222 214.6 L1223.5 213.7 L1225 212.9 L1226.5 212.2 L1228 211.6 L1229.5 211 L1231 210.4 L1232.5 209.9 L1234 209.4 L1235.5 208.9 L1237 208.5 L1238.5 208.1 L1240 207.7 L1241.5 207.4 L1243 207.1 L1244.5 206.9 L1246 206.6 L1247.5 206.4 L1249 206.2 L1250.5 205.9 L1252 205.7 L1253.5 205.5 L1255 205.3 L1256.5 205.2 L1258 205 L1259.5 204.9 L1261 204.8 L1262.5 204.7 L1264 204.7 L1265.5 204.7 L1267 204.7 L1268.5 204.8 L1270 204.9 L1271.5 205 L1273 205.1 L1274.5 205.2 L1276 205.4 L1277.5 205.6 L1279 205.8 L1280.5 206 L1282 206.2 L1283.5 206.4 L1285 206.6 L1286.5 206.8 L1288 207 L1289.5 207.2 L1291 207.4 L1292.5 207.6 L1294 207.8 L1295.5 208 L1297 208.1 L1298.5 208.2 L1300 208.4 L1301.5 208.5 L1303 208.6 L1304.5 208.8 L1306 208.9 L1307.5 209 L1309 209.2 L1310.5 209.3 L1312 209.4 L1313.5 209.6 L1315 209.7 L1316.5 209.8 L1318 209.9 L1319.5 210 L1321 210.2 L1322.5 210.3 L1324 210.4 L1325.5 210.5 L1330.5 312 L1332 285 L1333.5 276.9 L1335 272 L1336.5 268 L1338 263.8 L1339.5 260 L1341 256.6 L1342.5 253.6 L1344 250.9 L1345.5 248.4 L1347 246.1 L1348.5 244 L1350 242 L1351.5 240.2 L1353 238.5 L1354.5 236.9 L1356 235.3 L1357.5 233.8 L1359 232.3 L1360.5 230.9 L1362 229.6 L1363.5 228.4 L1365 227.2 L1366.5 226 L1368 225 L1369.5 224 L1371 223.1 L1372.5 222.2 L1374 221.3 L1375.5 220.5 L1377 219.7 L1378.5 218.9 L1380 218.1 L1381.5 217.4 L1383 216.7 L1384.5 216.1 L1386 215.5 L1387.5 215 L1389 214.5 L1390.5 214.1 L1392 213.8 L1393.5 213.4 L1395 213.1 L1396.5 212.8 L1398 212.5 L1399.5 212.2 L1401 212 L1402.5 211.7 L1404 211.5 L1405.5 211.3 L1407 211.1 L1408.5 210.9 L1410 210.8 L1411.5 210.6 L1413 210.5 L1414.5 210.4 L1416 210.3 L1417.5 210.2 L1419 210.1 L1420.5 210 L1422 209.9 L1423.5 209.8 L1425 209.7 L1426.5 209.6 L1428 209.5 L1429.5 209.5 L1431 209.4 L1432.5 209.3 L1434 209.2 L1435.5 209.2 L1437 209.1 L1438.5 209.1 L1440 209.1 L1441.5 209 L1443 209 L1444.5 209 L1446 209" fill="none" stroke="#000" stroke-width="3.3" stroke-linejoin="round"/>
<path d="M917 46 L918.5 53.5 L920 57.5 L921.5 60.8 L923 63.5 L924.5 65.7 L926 67.7 L927.5 69.6 L929 71.5 L930.5 73.3 L932 75 L933.5 76.5 L935 77.9 L936.5 79.1 L938 80 L939.5 80.8 L941 81.5 L942.5 82.1 L944 82.7 L945.5 83.2 L947 83.6 L948.5 83.9 L950 84.2 L951.5 84.5 L953 84.8 L954.5 85 L956 85.2 L957.5 85.3 L958 85.3 L961 195 L962.5 183 L964 177.6 L965.5 174 L967 171 L968.5 168.4 L970 166.1 L971.5 164 L973 162 L974.5 159.9 L976 157.8 L977.5 155.7 L979 153.7 L980.5 151.8 L982 150 L983.5 148.3 L985 146.8 L986.5 145.3 L988 143.9 L989.5 142.6 L991 141.3 L992.5 140 L994 138.8 L995.5 137.6 L997 136.5 L998.5 135.4 L1000 134.3 L1001.5 133.2 L1003 132.2 L1004.5 131.2 L1006 130.2 L1007.5 129.2 L1009 128.3 L1010.5 127.4 L1012 126.5 L1013.5 125.6 L1015 124.7 L1016.5 123.9 L1018 123.1 L1019.5 122.3 L1021 121.5 L1022.5 120.8 L1024 120.1 L1025.5 119.4 L1027 118.7 L1028.5 118.1 L1030 117.5 L1031.5 116.9 L1033 116.4 L1034.5 115.8 L1036 115.3 L1037.5 114.8 L1039 114.3 L1040.5 113.8 L1042 113.3 L1043.5 112.9 L1045 112.4 L1046.5 112 L1048 111.6 L1049.5 111.2 L1051 110.7 L1052.5 110.3 L1054 109.9 L1055.5 109.6 L1057 109.2 L1058.5 108.8 L1060 108.4 L1061.5 108.1 L1063 107.7 L1064.5 107.4 L1066 107 L1067.5 106.7 L1069 106.4 L1070.5 106.1 L1072 105.8 L1073.5 105.5 L1075 105.2 L1076.5 104.9 L1078 104.7 L1079.5 104.5 L1080.5 104.3 L1084.6 231 L1086.1 218.2 L1087.6 214.6 L1089.1 211.9 L1090.6 210 L1092.1 208.6 L1093.6 207.3 L1095.1 206 L1096.6 204.3 L1098.1 202.7 L1099.6 201.1 L1101.1 199.6 L1102.6 198.1 L1104.1 196.6 L1105.6 195.2 L1107.1 193.8 L1108.6 192.5 L1110.1 191.1 L1111.6 189.7 L1113.1 188.2 L1114.6 186.8 L1116.1 185.3 L1117.6 183.9 L1119.1 182.5 L1120.6 181 L1122.1 179.6 L1123.6 178.3 L1125.1 177 L1126.6 175.7 L1128.1 174.5 L1129.6 173.3 L1131.1 172.2 L1132.6 171.2 L1134.1 170.1 L1135.6 169.2 L1137.1 168.2 L1138.6 167.3 L1140.1 166.4 L1141.6 165.5 L1143.1 164.6 L1144.6 163.8 L1146.1 163 L1147.6 162.3 L1149.1 161.6 L1150.6 160.9 L1152.1 160.3 L1153.6 159.7 L1155.1 159.1 L1156.6 158.6 L1158.1 158 L1159.6 157.5 L1161.1 157 L1162.6 156.5 L1164.1 156.1 L1165.6 155.6 L1167.1 155.2 L1168.6 154.7 L1170.1 154.3 L1171.6 153.9 L1173.1 153.5 L1174.6 153.2 L1176.1 152.8 L1177.6 152.5 L1179.1 152.2 L1180.6 151.9 L1182.1 151.6 L1183.6 151.3 L1185.1 151 L1186.6 150.7 L1188.1 150.5 L1189.6 150.2 L1191.1 150 L1192.6 149.7 L1194.1 149.5 L1195.6 149.3 L1197.1 149.1 L1198.6 148.9 L1200.1 148.7 L1201.6 148.6 L1202.5 148.5 L1207 263 L1208.5 259.3 L1210 257.3 L1211.5 255.9 L1213 254.7 L1214.5 253.7 L1216 252.8 L1217.5 251.8 L1219 250.6 L1220.5 249.3 L1222 247.9 L1223.5 246.6 L1225 245.2 L1226.5 243.8 L1228 242.3 L1229.5 240.9 L1231 239.4 L1232.5 237.9 L1234 236.4 L1235.5 234.8 L1237 233.1 L1238.5 231.4 L1240 229.8 L1241.5 228.1 L1243 226.5 L1244.5 225 L1246 223.4 L1247.5 221.9 L1249 220.4 L1250.5 219 L1252 217.6 L1253.5 216.4 L1255 215.3 L1256.5 214.2 L1258 213.2 L1259.5 212.2 L1261 211.2 L1262.5 210.3 L1264 209.5 L1265.5 208.6 L1267 207.8 L1268.5 207 L1270 206.2 L1271.5 205.4 L1273 204.7 L1274.5 203.9 L1276 203.2 L1277.5 202.5 L1279 201.8 L1280.5 201.2 L1282 200.5 L1283.5 199.9 L1285 199.2 L1286.5 198.6 L1288 198 L1289.5 197.4 L1291 196.9 L1292.5 196.3 L1294 195.7 L1295.5 195.2 L1297 194.6 L1298.5 194.1 L1300 193.6 L1301.5 193 L1303 192.5 L1304.5 192 L1306 191.5 L1307.5 191 L1309 190.5 L1310.5 190 L1312 189.5 L1313.5 189 L1315 188.5 L1316.5 188.1 L1318 187.6 L1319.5 187.2 L1321 186.8 L1322.5 186.3 L1324 185.9 L1325.5 185.5 L1330.5 332 L1332 331.7 L1333.5 331.4 L1335 331.1 L1336.5 330.6 L1338 330.2 L1339.5 329.7 L1341 329.1 L1342.5 328.5 L1344 327.8 L1345.5 327 L1347 326.2 L1348.5 325.3 L1350 324.4 L1351.5 323.3 L1353 322.2 L1354.5 321 L1356 319.7 L1357.5 318.3 L1359 317 L1360.5 315.5 L1362 314 L1363.5 312.4 L1365 310.6 L1366.5 308.9 L1368 307.1 L1369.5 305.4 L1371 303.6 L1372.5 301.8 L1374 300 L1375.5 298.2 L1377 296.3 L1378.5 294.5 L1380 292.8 L1381.5 291.1 L1383 289.4 L1384.5 287.7 L1386 286 L1387.5 284.4 L1389 282.7 L1390.5 281.1 L1392 279.4 L1393.5 277.9 L1395 276.3 L1396.5 274.8 L1398 273.4 L1399.5 272 L1401 270.7 L1402.5 269.4 L1404 268.2 L1405.5 267 L1407 265.8 L1408.5 264.7 L1410 263.6 L1411.5 262.5 L1413 261.4 L1414.5 260.4 L1416 259.4 L1417.5 258.5 L1419 257.5 L1420.5 256.6 L1422 255.8 L1423.5 254.9 L1425 254.1 L1426.5 253.3 L1428 252.5 L1429.5 251.7 L1431 250.9 L1432.5 250.1 L1434 249.4 L1435.5 248.7 L1437 248 L1438.5 247.4 L1440 246.7 L1441.5 246.1 L1443 245.5 L1444.5 244.9 L1446 244.4" fill="none" stroke="#f458f4" stroke-width="2.4" stroke-linejoin="round"/>
<path d="M917 40 L918.5 40.3 L920 40.6 L921.5 40.9 L923 41.1 L924.5 41.4 L926 41.7 L927.5 41.9 L929 42.2 L930.5 42.4 L932 42.7 L933.5 42.9 L935 43.2 L936.5 43.4 L938 43.6 L939.5 43.7 L941 43.9 L942.5 44.1 L944 44.2 L945.5 44.4 L947 44.5 L948.5 44.6 L950 44.8 L951.5 44.9 L953 45 L954.5 45.1 L956 45.2 L957.5 45.3 L958 45.3 L961 70.6 L962.5 68.8 L964 67.1 L965.5 65.5 L967 64.1 L968.5 62.9 L970 61.9 L971.5 61 L973 60.2 L974.5 59.5 L976 58.8 L977.5 58.2 L979 57.6 L980.5 57.1 L982 56.6 L983.5 56.1 L985 55.6 L986.5 55.1 L988 54.7 L989.5 54.3 L991 53.9 L992.5 53.5 L994 53.1 L995.5 52.8 L997 52.4 L998.5 52.1 L1000 51.7 L1001.5 51.4 L1003 51.1 L1004.5 50.8 L1006 50.5 L1007.5 50.2 L1009 49.9 L1010.5 49.5 L1012 49.2 L1013.5 48.9 L1015 48.6 L1016.5 48.4 L1018 48.1 L1019.5 47.8 L1021 47.5 L1022.5 47.2 L1024 47 L1025.5 46.7 L1027 46.5 L1028.5 46.2 L1030 46 L1031.5 45.7 L1033 45.5 L1034.5 45.3 L1036 45 L1037.5 44.8 L1039 44.6 L1040.5 44.4 L1042 44.2 L1043.5 44 L1045 43.8 L1046.5 43.6 L1048 43.4 L1049.5 43.2 L1051 43 L1052.5 42.8 L1054 42.7 L1055.5 42.5 L1057 42.3 L1058.5 42.1 L1060 41.9 L1061.5 41.8 L1063 41.6 L1064.5 41.4 L1066 41.3 L1067.5 41.1 L1069 41 L1070.5 40.8 L1072 40.7 L1073.5 40.6 L1075 40.4 L1076.5 40.3 L1078 40.2 L1079.5 40.1 L1080.5 40 L1085 73.7 L1086.5 72.6 L1088 71.5 L1089.5 70.5 L1091 69.5 L1092.5 68.5 L1094 67.5 L1095.5 66.6 L1097 65.8 L1098.5 65 L1100 64.3 L1101.5 63.6 L1103 63 L1104.5 62.4 L1106 61.8 L1107.5 61.2 L1109 60.7 L1110.5 60.1 L1112 59.6 L1113.5 59.1 L1115 58.7 L1116.5 58.2 L1118 57.8 L1119.5 57.3 L1121 56.9 L1122.5 56.5 L1124 56.1 L1125.5 55.6 L1127 55.2 L1128.5 54.8 L1130 54.5 L1131.5 54.1 L1133 53.7 L1134.5 53.3 L1136 53 L1137.5 52.6 L1139 52.3 L1140.5 51.9 L1142 51.6 L1143.5 51.3 L1145 51 L1146.5 50.7 L1148 50.4 L1149.5 50.1 L1151 49.8 L1152.5 49.6 L1154 49.3 L1155.5 49 L1157 48.8 L1158.5 48.5 L1160 48.3 L1161.5 48.1 L1163 47.8 L1164.5 47.6 L1166 47.4 L1167.5 47.2 L1169 47 L1170.5 46.8 L1172 46.6 L1173.5 46.4 L1175 46.3 L1176.5 46.1 L1178 46 L1179.5 45.8 L1181 45.7 L1182.5 45.6 L1184 45.5 L1185.5 45.4 L1187 45.3 L1188.5 45.2 L1190 45.1 L1191.5 45 L1193 44.9 L1194.5 44.8 L1196 44.7 L1197.5 44.7 L1199 44.6 L1200.5 44.6 L1202 44.5 L1202.5 44.5 L1207 80 L1208.5 79.2 L1210 78.5 L1211.5 77.8 L1213 77.1 L1214.5 76.4 L1216 75.7 L1217.5 75 L1219 74.4 L1220.5 73.8 L1222 73.2 L1223.5 72.6 L1225 72.1 L1226.5 71.5 L1228 71 L1229.5 70.4 L1231 69.9 L1232.5 69.4 L1234 68.9 L1235.5 68.4 L1237 67.9 L1238.5 67.5 L1240 67 L1241.5 66.5 L1243 66.1 L1244.5 65.6 L1246 65.2 L1247.5 64.8 L1249 64.4 L1250.5 63.9 L1252 63.5 L1253.5 63.1 L1255 62.7 L1256.5 62.3 L1258 62 L1259.5 61.6 L1261 61.2 L1262.5 60.8 L1264 60.5 L1265.5 60.1 L1267 59.8 L1268.5 59.4 L1270 59.1 L1271.5 58.7 L1273 58.4 L1274.5 58.1 L1276 57.8 L1277.5 57.5 L1279 57.2 L1280.5 56.9 L1282 56.6 L1283.5 56.3 L1285 56 L1286.5 55.7 L1288 55.5 L1289.5 55.2 L1291 54.9 L1292.5 54.7 L1294 54.4 L1295.5 54.2 L1297 54 L1298.5 53.7 L1300 53.5 L1301.5 53.3 L1303 53.1 L1304.5 52.9 L1306 52.7 L1307.5 52.5 L1309 52.3 L1310.5 52.1 L1312 51.9 L1313.5 51.7 L1315 51.5 L1316.5 51.3 L1318 51.2 L1319.5 51 L1321 50.8 L1322.5 50.7 L1324 50.5 L1325.5 50.4 L1330.5 91.7 L1332 91.1 L1333.5 90.6 L1335 90 L1336.5 89.5 L1338 89 L1339.5 88.4 L1341 87.9 L1342.5 87.4 L1344 86.8 L1345.5 86.3 L1347 85.8 L1348.5 85.3 L1350 84.8 L1351.5 84.3 L1353 83.8 L1354.5 83.3 L1356 82.8 L1357.5 82.3 L1359 81.9 L1360.5 81.4 L1362 80.9 L1363.5 80.5 L1365 80 L1366.5 79.5 L1368 79.1 L1369.5 78.6 L1371 78.2 L1372.5 77.8 L1374 77.3 L1375.5 76.9 L1377 76.5 L1378.5 76 L1380 75.6 L1381.5 75.2 L1383 74.8 L1384.5 74.4 L1386 74 L1387.5 73.6 L1389 73.2 L1390.5 72.8 L1392 72.4 L1393.5 72 L1395 71.7 L1396.5 71.3 L1398 70.9 L1399.5 70.6 L1401 70.3 L1402.5 70 L1404 69.6 L1405.5 69.3 L1407 69 L1408.5 68.7 L1410 68.4 L1411.5 68.2 L1413 67.9 L1414.5 67.6 L1416 67.3 L1417.5 67.1 L1419 66.8 L1420.5 66.5 L1422 66.3 L1423.5 66 L1425 65.8 L1426.5 65.6 L1428 65.3 L1429.5 65.1 L1431 64.9 L1432.5 64.6 L1434 64.4 L1435.5 64.2 L1437 64 L1438.5 63.8 L1440 63.6 L1441.5 63.4 L1443 63.2 L1444.5 63 L1446 62.8" fill="none" stroke="#f57c10" stroke-width="3" stroke-linejoin="round"/>
<rect x="917" y="5.3" width="529" height="376.9" fill="none" stroke="#1a1a1a" stroke-width="1.6"/>
<line x1="917" y1="40" x2="925" y2="40" stroke="#1a1a1a" stroke-width="1.4"/>
<line x1="917" y1="108.5" x2="925" y2="108.5" stroke="#1a1a1a" stroke-width="1.4"/>
<line x1="917" y1="177" x2="925" y2="177" stroke="#1a1a1a" stroke-width="1.4"/>
<line x1="917" y1="245.8" x2="925" y2="245.8" stroke="#1a1a1a" stroke-width="1.4"/>
<line x1="917" y1="314.3" x2="925" y2="314.3" stroke="#1a1a1a" stroke-width="1.4"/>
<line x1="1115.2" y1="382" x2="1115.2" y2="375" stroke="#1a1a1a" stroke-width="1.4"/>
<line x1="1311" y1="382" x2="1311" y2="375" stroke="#1a1a1a" stroke-width="1.4"/>
<text class="s" transform="translate(936.3,220.3) scale(1.03,1)" font-size="19" fill="#222" stroke="#222" stroke-width="0.45">3 ppm</text>
<text class="s" transform="translate(1055.5,250.5) scale(1.03,1)" font-size="19" fill="#222" stroke="#222" stroke-width="0.45">5 ppm</text>
<text class="s" transform="translate(1175,287) scale(1.03,1)" font-size="19" fill="#222" stroke="#222" stroke-width="0.45">10 ppm</text>
<text class="s" transform="translate(1296,355.5) scale(1.03,1)" font-size="19" fill="#222" stroke="#222" stroke-width="0.45">50 ppm</text>
<line x1="935.6" y1="284.9" x2="990" y2="284.9" stroke="#000" stroke-width="2"/>
<text class="s" transform="translate(995.3,292.5) scale(1.125,1)" font-size="22.2" fill="#111">MoSe<tspan font-size="13.5" dy="8">2</tspan></text>
<line x1="935.6" y1="322.2" x2="990" y2="322.2" stroke="#f050f0" stroke-width="2"/>
<text class="s" transform="translate(995.3,329.8) scale(1.125,1)" font-size="22.2" fill="#111">MoSe<tspan font-size="13.5" dy="8">2</tspan><tspan dy="-8">:Nb 1C</tspan></text>
<line x1="935.6" y1="359.6" x2="990" y2="359.6" stroke="#f57c10" stroke-width="2"/>
<text class="s" transform="translate(995.3,366.6) scale(1.125,1)" font-size="22.2" fill="#111">MoSe<tspan font-size="13.5" dy="8">2</tspan><tspan dy="-8">:Nb 5C</tspan></text>
</g>
<g id="panel_c">
<text class="r" x="0.3" y="361.6" font-size="46" font-weight="bold" fill="#000">(c)</text>
<clipPath id="cl1"><rect x="60" y="493.4" width="293.5" height="58.6"/></clipPath>
<g clip-path="url(#cl1)">
<line x1="64.3" y1="523" x2="80.9" y2="505.4" stroke="#a9a9b4" stroke-width="2" stroke-linecap="round"/>
<line x1="64.3" y1="523" x2="80.9" y2="540" stroke="#a9a9b4" stroke-width="2" stroke-linecap="round"/>
<line x1="99" y1="523" x2="80.9" y2="505.4" stroke="#a9a9b4" stroke-width="2" stroke-linecap="round"/>
<line x1="99" y1="523" x2="80.9" y2="540" stroke="#a9a9b4" stroke-width="2" stroke-linecap="round"/>
<line x1="99" y1="523" x2="118" y2="505.4" stroke="#a9a9b4" stroke-width="2" stroke-linecap="round"/>
<line x1="99" y1="523" x2="118" y2="540" stroke="#a9a9b4" stroke-width="2" stroke-linecap="round"/>
<line x1="136" y1="523" x2="118" y2="505.4" stroke="#a9a9b4" stroke-width="2" stroke-linecap="round"/>
<line x1="136" y1="523" x2="118" y2="540" stroke="#a9a9b4" stroke-width="2" stroke-linecap="round"/>
<line x1="136" y1="523" x2="154.9" y2="505.4" stroke="#a9a9b4" stroke-width="2" stroke-linecap="round"/>
<line x1="136" y1="523" x2="154.9" y2="540" stroke="#a9a9b4" stroke-width="2" stroke-linecap="round"/>
<line x1="173.2" y1="523" x2="154.9" y2="505.4" stroke="#a9a9b4" stroke-width="2" stroke-linecap="round"/>
<line x1="173.2" y1="523" x2="154.9" y2="540" stroke="#a9a9b4" stroke-width="2" stroke-linecap="round"/>
<line x1="173.2" y1="523" x2="192.4" y2="505.4" stroke="#a9a9b4" stroke-width="2" stroke-linecap="round"/>
<line x1="173.2" y1="523" x2="192.4" y2="540" stroke="#a9a9b4" stroke-width="2" stroke-linecap="round"/>
<line x1="210" y1="523" x2="192.4" y2="505.4" stroke="#a9a9b4" stroke-width="2" stroke-linecap="round"/>
<line x1="210" y1="523" x2="192.4" y2="540" stroke="#a9a9b4" stroke-width="2" stroke-linecap="round"/>
<line x1="210" y1="523" x2="229.2" y2="505.4" stroke="#a9a9b4" stroke-width="2" stroke-linecap="round"/>
<line x1="210" y1="523" x2="229.2" y2="540" stroke="#a9a9b4" stroke-width="2" stroke-linecap="round"/>
<line x1="247.6" y1="523" x2="229.2" y2="505.4" stroke="#a9a9b4" stroke-width="2" stroke-linecap="round"/>
<line x1="247.6" y1="523" x2="229.2" y2="540" stroke="#a9a9b4" stroke-width="2" stroke-linecap="round"/>
<line x1="247.6" y1="523" x2="267" y2="505.4" stroke="#a9a9b4" stroke-width="2" stroke-linecap="round"/>
<line x1="247.6" y1="523" x2="267" y2="540" stroke="#a9a9b4" stroke-width="2" stroke-linecap="round"/>
<line x1="284.7" y1="523" x2="267" y2="505.4" stroke="#a9a9b4" stroke-width="2" stroke-linecap="round"/>
<line x1="284.7" y1="523" x2="267" y2="540" stroke="#a9a9b4" stroke-width="2" stroke-linecap="round"/>
<line x1="284.7" y1="523" x2="305" y2="505.4" stroke="#a9a9b4" stroke-width="2" stroke-linecap="round"/>
<line x1="284.7" y1="523" x2="305" y2="540" stroke="#a9a9b4" stroke-width="2" stroke-linecap="round"/>
<line x1="322.6" y1="523" x2="305" y2="505.4" stroke="#a9a9b4" stroke-width="2" stroke-linecap="round"/>
<line x1="322.6" y1="523" x2="305" y2="540" stroke="#a9a9b4" stroke-width="2" stroke-linecap="round"/>
<line x1="322.6" y1="523" x2="343.6" y2="505.4" stroke="#a9a9b4" stroke-width="2" stroke-linecap="round"/>
<line x1="322.6" y1="523" x2="343.6" y2="540" stroke="#a9a9b4" stroke-width="2" stroke-linecap="round"/>
<line x1="359.4" y1="523" x2="343.6" y2="505.4" stroke="#a9a9b4" stroke-width="2" stroke-linecap="round"/>
<line x1="359.4" y1="523" x2="343.6" y2="540" stroke="#a9a9b4" stroke-width="2" stroke-linecap="round"/>
<circle cx="80.9" cy="505.4" r="7.2" fill="url(#gS)"/>
<circle cx="80.9" cy="540" r="7.2" fill="url(#gS)"/>
<circle cx="118" cy="505.4" r="7.2" fill="url(#gS)"/>
<circle cx="118" cy="540" r="7.2" fill="url(#gS)"/>
<circle cx="154.9" cy="505.4" r="7.2" fill="url(#gS)"/>
<circle cx="154.9" cy="540" r="7.2" fill="url(#gS)"/>
<circle cx="192.4" cy="505.4" r="7.2" fill="url(#gS)"/>
<circle cx="192.4" cy="540" r="7.2" fill="url(#gS)"/>
<circle cx="229.2" cy="505.4" r="7.2" fill="url(#gS)"/>
<circle cx="229.2" cy="540" r="7.2" fill="url(#gS)"/>
<circle cx="267" cy="505.4" r="7.2" fill="url(#gS)"/>
<circle cx="267" cy="540" r="7.2" fill="url(#gS)"/>
<circle cx="305" cy="505.4" r="7.2" fill="url(#gS)"/>
<circle cx="305" cy="540" r="7.2" fill="url(#gS)"/>
<circle cx="343.6" cy="505.4" r="7.2" fill="url(#gS)"/>
<circle cx="343.6" cy="540" r="7.2" fill="url(#gS)"/>
<circle cx="64.3" cy="523" r="10.6" fill="url(#gW)"/>
<circle cx="99" cy="523" r="10.6" fill="url(#gW)"/>
<circle cx="136" cy="523" r="10.6" fill="url(#gW)"/>
<circle cx="173.2" cy="523" r="10.6" fill="url(#gW)"/>
<circle cx="210" cy="523" r="10.6" fill="url(#gW)"/>
<circle cx="247.6" cy="523" r="10.6" fill="url(#gW)"/>
<circle cx="284.7" cy="523" r="10.6" fill="url(#gW)"/>
<circle cx="322.6" cy="523" r="10.6" fill="url(#gW)"/>
<circle cx="359.4" cy="523" r="10.6" fill="url(#gW)"/>
</g>
<ellipse cx="120" cy="384" rx="44" ry="36" fill="#eee" opacity="0.35" filter="url(#blur2)"/>
<line x1="112.8" y1="370.7" x2="136.6" y2="366.8" stroke="#222" stroke-width="5" stroke-linecap="round"/>
<line x1="112.8" y1="370.7" x2="104.5" y2="395.7" stroke="#222" stroke-width="5" stroke-linecap="round"/>
<line x1="112.8" y1="370.7" x2="99.3" y2="354.3" stroke="#702020" stroke-width="4" stroke-linecap="round"/>
<line x1="136.6" y1="366.8" x2="136.6" y2="348" stroke="#777" stroke-width="3" stroke-linecap="round"/>
<line x1="136.6" y1="366.8" x2="156.4" y2="365.8" stroke="#777" stroke-width="3" stroke-linecap="round"/>
<line x1="104.5" y1="395.7" x2="85.9" y2="391.4" stroke="#777" stroke-width="3" stroke-linecap="round"/>
<line x1="104.5" y1="395.7" x2="98.3" y2="412.3" stroke="#777" stroke-width="3" stroke-linecap="round"/>
<circle cx="152.5" cy="373" r="6" fill="url(#gH)"/>
<circle cx="103.5" cy="411" r="6" fill="url(#gH)"/>
<circle cx="99.3" cy="354.3" r="7.8" fill="url(#gO)"/>
<circle cx="136.6" cy="348" r="6.4" fill="url(#gH)"/>
<circle cx="85.9" cy="391.4" r="6.4" fill="url(#gH)"/>
<circle cx="104.5" cy="395.7" r="9.4" fill="url(#gC)"/>
<circle cx="136.6" cy="366.8" r="8.8" fill="url(#gC)"/>
<circle cx="112.8" cy="370.7" r="9.4" fill="url(#gC)"/>
<circle cx="156.4" cy="365.8" r="7.4" fill="url(#gH)"/>
<circle cx="98.3" cy="412.3" r="7.2" fill="url(#gH)"/>
<path d="M128 383 Q131 419 161 431.5" fill="none" stroke="url(#gArr)" stroke-width="11" stroke-linecap="butt" opacity="1"/><polygon points="154,418 170,436 148.5,440" fill="#a9d3de" opacity="1"/>
<path d="M200 428 Q214 408 231.5 383 L223.5 381 L236 369 L248.7 383 L240.5 384 Q239 394 236.5 402 L252 401.5 L251 397.3 L266 408 L255.3 417.3 L254.5 412.3 Q242 411 231 412.5 Q215 419 203 430.5 Z" fill="#a9d3de"/>
<path d="M198.5 429 Q208 414 222 398 L231 412.5 Q215 419 203 431 Z" fill="#cfe4ea"/>
<text class="s" x="65.8" y="447.6" font-size="24.5" font-weight="bold" fill="#000" textLength="96.3" lengthAdjust="spacingAndGlyphs">Acetone</text>
<text class="s" x="236.8" y="342" font-size="22.5" font-weight="bold" fill="#000" textLength="44.2" lengthAdjust="spacingAndGlyphs">CO<tspan font-size="15.5" dy="4.5">2</tspan></text>
<text class="s" x="299.3" y="402.8" font-size="23.5" font-weight="bold" fill="#000" textLength="45.5" lengthAdjust="spacingAndGlyphs">H<tspan font-size="15" dy="5">2</tspan><tspan dy="-5">O</tspan></text>
<text class="s" x="288.4" y="492.6" font-size="34.8" font-weight="bold" fill="#000" textLength="66" lengthAdjust="spacingAndGlyphs">WS<tspan font-size="20.5" dy="8.8">2</tspan></text>
<line x1="214.1" y1="351" x2="266.9" y2="366.6" stroke="#3a1010" stroke-width="5" stroke-linecap="round"/>
<circle cx="214.1" cy="351" r="8.7" fill="url(#gO)"/>
<circle cx="266.9" cy="366.6" r="8.8" fill="url(#gO)"/>
<circle cx="242.1" cy="359.3" r="8.7" fill="url(#gC)"/>
<line x1="279.3" y1="413.1" x2="278.3" y2="389.3" stroke="#c09090" stroke-width="3" stroke-linecap="round"/>
<line x1="279.3" y1="413.1" x2="302" y2="416.2" stroke="#c09090" stroke-width="3" stroke-linecap="round"/>
<circle cx="278.3" cy="389.3" r="6.3" fill="url(#gH)"/>
<circle cx="302" cy="416.2" r="6.3" fill="url(#gH)"/>
<circle cx="279.3" cy="413.1" r="10.3" fill="url(#gO)"/>
<circle cx="183.4" cy="445.5" r="10.7" fill="url(#gO)"/>
<rect x="194.1" y="432.1" width="20.1" height="6.5" fill="#000"/>
<rect x="178.3" y="460.3" width="8.9" height="8.7" fill="#000"/>
<rect x="178.3" y="486.2" width="8.9" height="9" fill="#000"/>
<line x1="199.3" y1="453.1" x2="199.3" y2="484.8" stroke="#f01010" stroke-width="2.8"/><polygon points="191,482.8 207.6,482.8 199.3,499.3" fill="#f01010"/>
<text class="s" x="208.4" y="477" font-size="33" font-weight="bold" fill="#f01010">e</text>
<clipPath id="cl2"><rect x="442.8" y="493.7" width="293" height="57.3"/></clipPath>
<g clip-path="url(#cl2)">
<line x1="450" y1="522" x2="469" y2="505.7" stroke="#a9a9b4" stroke-width="2" stroke-linecap="round"/>
<line x1="450" y1="522" x2="469" y2="539" stroke="#a9a9b4" stroke-width="2" stroke-linecap="round"/>
<line x1="488.3" y1="522" x2="469" y2="505.7" stroke="#a9a9b4" stroke-width="2" stroke-linecap="round"/>
<line x1="488.3" y1="522" x2="469" y2="539" stroke="#a9a9b4" stroke-width="2" stroke-linecap="round"/>
<line x1="488.3" y1="522" x2="506.8" y2="505.7" stroke="#a9a9b4" stroke-width="2" stroke-linecap="round"/>
<line x1="488.3" y1="522" x2="506.8" y2="539" stroke="#a9a9b4" stroke-width="2" stroke-linecap="round"/>
<line x1="525.3" y1="522" x2="506.8" y2="505.7" stroke="#a9a9b4" stroke-width="2" stroke-linecap="round"/>
<line x1="525.3" y1="522" x2="506.8" y2="539" stroke="#a9a9b4" stroke-width="2" stroke-linecap="round"/>
<line x1="525.3" y1="522" x2="543" y2="505.7" stroke="#a9a9b4" stroke-width="2" stroke-linecap="round"/>
<line x1="525.3" y1="522" x2="543" y2="539" stroke="#a9a9b4" stroke-width="2" stroke-linecap="round"/>
<line x1="562.2" y1="522" x2="543" y2="505.7" stroke="#a9a9b4" stroke-width="2" stroke-linecap="round"/>
<line x1="562.2" y1="522" x2="543" y2="539" stroke="#a9a9b4" stroke-width="2" stroke-linecap="round"/>
<line x1="562.2" y1="522" x2="580.7" y2="505.7" stroke="#a9a9b4" stroke-width="2" stroke-linecap="round"/>
<line x1="562.2" y1="522" x2="580.7" y2="539" stroke="#a9a9b4" stroke-width="2" stroke-linecap="round"/>
<line x1="598.7" y1="522" x2="580.7" y2="505.7" stroke="#a9a9b4" stroke-width="2" stroke-linecap="round"/>
<line x1="598.7" y1="522" x2="580.7" y2="539" stroke="#a9a9b4" stroke-width="2" stroke-linecap="round"/>
<line x1="598.7" y1="522" x2="619" y2="505.7" stroke="#a9a9b4" stroke-width="2" stroke-linecap="round"/>
<line x1="598.7" y1="522" x2="619" y2="539" stroke="#a9a9b4" stroke-width="2" stroke-linecap="round"/>
<line x1="635.7" y1="522" x2="619" y2="505.7" stroke="#a9a9b4" stroke-width="2" stroke-linecap="round"/>
<line x1="635.7" y1="522" x2="619" y2="539" stroke="#a9a9b4" stroke-width="2" stroke-linecap="round"/>
<line x1="635.7" y1="522" x2="656" y2="505.7" stroke="#a9a9b4" stroke-width="2" stroke-linecap="round"/>
<line x1="635.7" y1="522" x2="656" y2="539" stroke="#a9a9b4" stroke-width="2" stroke-linecap="round"/>
<line x1="673.2" y1="522" x2="656" y2="505.7" stroke="#a9a9b4" stroke-width="2" stroke-linecap="round"/>
<line x1="673.2" y1="522" x2="656" y2="539" stroke="#a9a9b4" stroke-width="2" stroke-linecap="round"/>
<line x1="673.2" y1="522" x2="693.7" y2="505.7" stroke="#a9a9b4" stroke-width="2" stroke-linecap="round"/>
<line x1="673.2" y1="522" x2="693.7" y2="539" stroke="#a9a9b4" stroke-width="2" stroke-linecap="round"/>
<line x1="710.2" y1="522" x2="693.7" y2="505.7" stroke="#a9a9b4" stroke-width="2" stroke-linecap="round"/>
<line x1="710.2" y1="522" x2="693.7" y2="539" stroke="#a9a9b4" stroke-width="2" stroke-linecap="round"/>
<line x1="710.2" y1="522" x2="731.5" y2="505.7" stroke="#a9a9b4" stroke-width="2" stroke-linecap="round"/>
<line x1="710.2" y1="522" x2="731.5" y2="539" stroke="#a9a9b4" stroke-width="2" stroke-linecap="round"/>
<line x1="747" y1="522" x2="731.5" y2="505.7" stroke="#a9a9b4" stroke-width="2" stroke-linecap="round"/>
<line x1="747" y1="522" x2="731.5" y2="539" stroke="#a9a9b4" stroke-width="2" stroke-linecap="round"/>
<circle cx="469" cy="505.7" r="7.2" fill="url(#gS)"/>
<circle cx="469" cy="539" r="7.2" fill="url(#gS)"/>
<circle cx="506.8" cy="505.7" r="7.2" fill="url(#gS)"/>
<circle cx="506.8" cy="539" r="7.2" fill="url(#gS)"/>
<circle cx="543" cy="505.7" r="7.2" fill="url(#gS)"/>
<circle cx="543" cy="539" r="7.2" fill="url(#gS)"/>
<circle cx="580.7" cy="505.7" r="7.2" fill="url(#gS)"/>
<circle cx="580.7" cy="539" r="7.2" fill="url(#gS)"/>
<circle cx="619" cy="505.7" r="7.2" fill="url(#gS)"/>
<circle cx="619" cy="539" r="7.2" fill="url(#gS)"/>
<circle cx="656" cy="505.7" r="7.2" fill="url(#gS)"/>
<circle cx="656" cy="539" r="7.2" fill="url(#gS)"/>
<circle cx="693.7" cy="505.7" r="7.2" fill="url(#gS)"/>
<circle cx="693.7" cy="539" r="7.2" fill="url(#gS)"/>
<circle cx="731.5" cy="505.7" r="7.2" fill="url(#gS)"/>
<circle cx="731.5" cy="539" r="7.2" fill="url(#gS)"/>
<circle cx="450" cy="522" r="10.6" fill="url(#gW)"/>
<circle cx="488.3" cy="522" r="10.6" fill="url(#gW)"/>
<circle cx="525.3" cy="522" r="10.6" fill="url(#gW)"/>
<circle cx="562.2" cy="522" r="10.6" fill="url(#gW)"/>
<circle cx="598.7" cy="522" r="10.6" fill="url(#gW)"/>
<circle cx="635.7" cy="522" r="10.6" fill="url(#gW)"/>
<circle cx="673.2" cy="522" r="10.6" fill="url(#gW)"/>
<circle cx="710.2" cy="522" r="10.6" fill="url(#gW)"/>
<circle cx="747" cy="522" r="10.6" fill="url(#gW)"/>
</g>
<line x1="526.7" y1="383.4" x2="502.5" y2="374.9" stroke="#b03030" stroke-width="4" stroke-linecap="round"/>
<line x1="526.7" y1="383.4" x2="541" y2="360.6" stroke="#b03030" stroke-width="5" stroke-linecap="round"/>
<line x1="526.7" y1="383.4" x2="541" y2="360.6" stroke="#f4d0d0" stroke-width="1.4" stroke-linecap="round"/>
<circle cx="502.5" cy="374.9" r="10" fill="url(#gO)"/>
<circle cx="541" cy="360.6" r="10" fill="url(#gO)"/>
<circle cx="526.7" cy="383.4" r="11" fill="url(#gN)"/>
<text class="s" x="552.6" y="399.3" font-size="24" font-weight="bold" fill="#000" textLength="48.6" lengthAdjust="spacingAndGlyphs">NO<tspan font-size="16" dy="5.5">2</tspan></text>
<path d="M532 395 Q532 428 552 440" fill="none" stroke="url(#gArr)" stroke-width="8" stroke-linecap="butt" opacity="1"/><polygon points="548,430 563,446 544,449" fill="#a9d3de" opacity="1"/>
<line x1="607.8" y1="454.5" x2="582.7" y2="448" stroke="#b03030" stroke-width="4" stroke-linecap="round"/>
<line x1="607.8" y1="454.5" x2="621.4" y2="431.8" stroke="#b03030" stroke-width="5" stroke-linecap="round"/>
<line x1="607.8" y1="454.5" x2="621.4" y2="431.8" stroke="#f4d0d0" stroke-width="1.4" stroke-linecap="round"/>
<circle cx="582.7" cy="448" r="10" fill="url(#gO)"/>
<circle cx="621.4" cy="431.8" r="10" fill="url(#gO)"/>
<circle cx="607.8" cy="454.5" r="11" fill="url(#gN)"/>
<rect x="632" y="413" width="20" height="5.7" fill="#000"/>
<rect x="605" y="469.3" width="8.5" height="10" fill="#000"/>
<rect x="605" y="487.8" width="8.5" height="8.5" fill="#000"/>
<rect x="605" y="505" width="8.5" height="2.2" fill="#000"/>
<line x1="627" y1="505" x2="627" y2="472" stroke="#f01010" stroke-width="2.8"/><polygon points="618.7,474 635.3,474 627,457.5" fill="#f01010"/>
<text class="s" x="637.7" y="497.8" font-size="33" font-weight="bold" fill="#f01010">e</text>
<clipPath id="cl3"><rect x="59.7" y="808.6" width="287.3" height="58.1"/></clipPath>
<g clip-path="url(#cl3)">
<line x1="54" y1="838.5" x2="72.5" y2="820.6" stroke="#a9a9b4" stroke-width="2" stroke-linecap="round"/>
<line x1="54" y1="838.5" x2="72.5" y2="854.7" stroke="#a9a9b4" stroke-width="2" stroke-linecap="round"/>
<line x1="91" y1="838.5" x2="72.5" y2="820.6" stroke="#a9a9b4" stroke-width="2" stroke-linecap="round"/>
<line x1="91" y1="838.5" x2="72.5" y2="854.7" stroke="#a9a9b4" stroke-width="2" stroke-linecap="round"/>
<line x1="91" y1="838.5" x2="109.5" y2="820.6" stroke="#a9a9b4" stroke-width="2" stroke-linecap="round"/>
<line x1="91" y1="838.5" x2="109.5" y2="854.7" stroke="#a9a9b4" stroke-width="2" stroke-linecap="round"/>
<line x1="128" y1="838.5" x2="109.5" y2="820.6" stroke="#a9a9b4" stroke-width="2" stroke-linecap="round"/>
<line x1="128" y1="838.5" x2="109.5" y2="854.7" stroke="#a9a9b4" stroke-width="2" stroke-linecap="round"/>
<line x1="128" y1="838.5" x2="147.4" y2="820.6" stroke="#a9a9b4" stroke-width="2" stroke-linecap="round"/>
<line x1="128" y1="838.5" x2="147.4" y2="854.7" stroke="#a9a9b4" stroke-width="2" stroke-linecap="round"/>
<line x1="165" y1="838.5" x2="147.4" y2="820.6" stroke="#a9a9b4" stroke-width="2" stroke-linecap="round"/>
<line x1="165" y1="838.5" x2="147.4" y2="854.7" stroke="#a9a9b4" stroke-width="2" stroke-linecap="round"/>
<line x1="165" y1="838.5" x2="184.4" y2="820.6" stroke="#a9a9b4" stroke-width="2" stroke-linecap="round"/>
<line x1="165" y1="838.5" x2="184.4" y2="854.7" stroke="#a9a9b4" stroke-width="2" stroke-linecap="round"/>
<line x1="202.6" y1="838.5" x2="184.4" y2="820.6" stroke="#a9a9b4" stroke-width="2" stroke-linecap="round"/>
<line x1="202.6" y1="838.5" x2="184.4" y2="854.7" stroke="#a9a9b4" stroke-width="2" stroke-linecap="round"/>
<line x1="202.6" y1="838.5" x2="222" y2="820.6" stroke="#a9a9b4" stroke-width="2" stroke-linecap="round"/>
<line x1="202.6" y1="838.5" x2="222" y2="854.7" stroke="#a9a9b4" stroke-width="2" stroke-linecap="round"/>
<line x1="239.8" y1="838.5" x2="222" y2="820.6" stroke="#a9a9b4" stroke-width="2" stroke-linecap="round"/>
<line x1="239.8" y1="838.5" x2="222" y2="854.7" stroke="#a9a9b4" stroke-width="2" stroke-linecap="round"/>
<line x1="239.8" y1="838.5" x2="259" y2="820.6" stroke="#a9a9b4" stroke-width="2" stroke-linecap="round"/>
<line x1="239.8" y1="838.5" x2="259" y2="854.7" stroke="#a9a9b4" stroke-width="2" stroke-linecap="round"/>
<line x1="277.4" y1="838.5" x2="259" y2="820.6" stroke="#a9a9b4" stroke-width="2" stroke-linecap="round"/>
<line x1="277.4" y1="838.5" x2="259" y2="854.7" stroke="#a9a9b4" stroke-width="2" stroke-linecap="round"/>
<line x1="277.4" y1="838.5" x2="297.3" y2="820.6" stroke="#a9a9b4" stroke-width="2" stroke-linecap="round"/>
<line x1="277.4" y1="838.5" x2="297.3" y2="854.7" stroke="#a9a9b4" stroke-width="2" stroke-linecap="round"/>
<line x1="314.4" y1="838.5" x2="297.3" y2="820.6" stroke="#a9a9b4" stroke-width="2" stroke-linecap="round"/>
<line x1="314.4" y1="838.5" x2="297.3" y2="854.7" stroke="#a9a9b4" stroke-width="2" stroke-linecap="round"/>
<line x1="314.4" y1="838.5" x2="335.7" y2="820.6" stroke="#a9a9b4" stroke-width="2" stroke-linecap="round"/>
<line x1="314.4" y1="838.5" x2="335.7" y2="854.7" stroke="#a9a9b4" stroke-width="2" stroke-linecap="round"/>
<line x1="351.5" y1="838.5" x2="335.7" y2="820.6" stroke="#a9a9b4" stroke-width="2" stroke-linecap="round"/>
<line x1="351.5" y1="838.5" x2="335.7" y2="854.7" stroke="#a9a9b4" stroke-width="2" stroke-linecap="round"/>
<circle cx="72.5" cy="820.6" r="7.2" fill="url(#gS)"/>
<circle cx="72.5" cy="854.7" r="7.2" fill="url(#gS)"/>
<circle cx="109.5" cy="820.6" r="7.2" fill="url(#gS)"/>
<circle cx="109.5" cy="854.7" r="7.2" fill="url(#gS)"/>
<circle cx="147.4" cy="820.6" r="7.2" fill="url(#gS)"/>
<circle cx="147.4" cy="854.7" r="7.2" fill="url(#gS)"/>
<circle cx="184.4" cy="820.6" r="7.2" fill="url(#gS)"/>
<circle cx="184.4" cy="854.7" r="7.2" fill="url(#gS)"/>
<circle cx="222" cy="820.6" r="7.2" fill="url(#gS)"/>
<circle cx="222" cy="854.7" r="7.2" fill="url(#gS)"/>
<circle cx="259" cy="820.6" r="7.2" fill="url(#gS)"/>
<circle cx="259" cy="854.7" r="7.2" fill="url(#gS)"/>
<circle cx="297.3" cy="820.6" r="7.2" fill="url(#gS)"/>
<circle cx="297.3" cy="854.7" r="7.2" fill="url(#gS)"/>
<circle cx="335.7" cy="820.6" r="7.2" fill="url(#gS)"/>
<circle cx="335.7" cy="854.7" r="7.2" fill="url(#gS)"/>
<circle cx="54" cy="838.5" r="10.6" fill="url(#gW)"/>
<circle cx="91" cy="838.5" r="10.6" fill="url(#gW)"/>
<circle cx="128" cy="838.5" r="10.6" fill="url(#gW)"/>
<circle cx="165" cy="838.5" r="10.6" fill="url(#gW)"/>
<circle cx="202.6" cy="838.5" r="10.6" fill="url(#gW)"/>
<circle cx="239.8" cy="838.5" r="10.6" fill="url(#gW)"/>
<circle cx="277.4" cy="838.5" r="10.6" fill="url(#gW)"/>
<circle cx="314.4" cy="838.5" r="10.6" fill="url(#gW)"/>
<circle cx="351.5" cy="838.5" r="10.6" fill="url(#gW)"/>
</g>
<line x1="212" y1="701" x2="186.3" y2="692.5" stroke="#b03030" stroke-width="4" stroke-linecap="round"/>
<line x1="212" y1="701" x2="226" y2="677" stroke="#b03030" stroke-width="5" stroke-linecap="round"/>
<line x1="212" y1="701" x2="226" y2="677" stroke="#f4d0d0" stroke-width="1.4" stroke-linecap="round"/>
<circle cx="186.3" cy="692.5" r="10" fill="url(#gO)"/>
<circle cx="226" cy="677" r="10" fill="url(#gO)"/>
<circle cx="212" cy="701" r="11" fill="url(#gN)"/>
<path d="M206.5 714 Q199 748 172 764 L164.5 751 L155 772 L176 778 L171 771.5 Q204 757 209.5 716 Z" fill="url(#gArrL)"/>
<path d="M207.5 714 Q220 748 250 760 L254.5 749 L267 767.5 L245.5 778 L247.5 769.5 Q212 756 205 716 Z" fill="url(#gArrR)"/>
<circle cx="208.6" cy="786.4" r="27.6" fill="url(#gAg)"/>
<text class="s" x="210.5" y="794.5" font-size="24.5" font-weight="bold" text-anchor="middle" fill="#000">Ag</text>
<line x1="92.5" y1="736" x2="109.5" y2="756.5" stroke="#803040" stroke-width="5" stroke-linecap="round"/>
<circle cx="92.5" cy="736" r="9.6" fill="url(#gN)"/>
<circle cx="109.5" cy="756.5" r="9.6" fill="url(#gO)"/>
<rect x="111" y="727.5" width="20" height="6.3" fill="#000"/>
<rect x="100" y="772" width="9.5" height="9.6" fill="#000"/>
<rect x="100" y="790" width="9.5" height="9" fill="#000"/>
<rect x="100" y="807.8" width="9.5" height="2.2" fill="#000"/>
<line x1="123.2" y1="803.5" x2="123.2" y2="773" stroke="#f01010" stroke-width="2.8"/><polygon points="114.9,775 131.5,775 123.2,758.5" fill="#f01010"/>
<text class="s" x="132.4" y="799.8" font-size="33" font-weight="bold" fill="#f01010">e</text>
<circle cx="291.1" cy="755.4" r="10" fill="url(#gO)"/>
<rect x="298.7" y="734.6" width="19.9" height="6.4" fill="#000"/>
<rect x="286" y="772" width="9.3" height="9.6" fill="#000"/>
<rect x="286" y="790" width="9.3" height="9" fill="#000"/>
<rect x="286" y="807.8" width="9.3" height="2.2" fill="#000"/>
<line x1="310" y1="803.5" x2="310" y2="773" stroke="#f01010" stroke-width="2.8"/><polygon points="301.7,775 318.3,775 310,758.5" fill="#f01010"/>
<text class="s" x="319.7" y="799.8" font-size="33" font-weight="bold" fill="#f01010">e</text>
<clipPath id="cl4"><rect x="442.8" y="805.7" width="293" height="61"/></clipPath>
<g clip-path="url(#cl4)">
<line x1="457" y1="836.8" x2="438" y2="817.7" stroke="#a9a9b4" stroke-width="2" stroke-linecap="round"/>
<line x1="457" y1="836.8" x2="438" y2="854.7" stroke="#a9a9b4" stroke-width="2" stroke-linecap="round"/>
<line x1="457" y1="836.8" x2="475.5" y2="817.7" stroke="#a9a9b4" stroke-width="2" stroke-linecap="round"/>
<line x1="457" y1="836.8" x2="475.5" y2="854.7" stroke="#a9a9b4" stroke-width="2" stroke-linecap="round"/>
<line x1="494" y1="836.8" x2="475.5" y2="817.7" stroke="#a9a9b4" stroke-width="2" stroke-linecap="round"/>
<line x1="494" y1="836.8" x2="475.5" y2="854.7" stroke="#a9a9b4" stroke-width="2" stroke-linecap="round"/>
<line x1="494" y1="836.8" x2="513.9" y2="817.7" stroke="#a9a9b4" stroke-width="2" stroke-linecap="round"/>
<line x1="494" y1="836.8" x2="513.9" y2="854.7" stroke="#a9a9b4" stroke-width="2" stroke-linecap="round"/>
<line x1="531" y1="836.8" x2="513.9" y2="817.7" stroke="#a9a9b4" stroke-width="2" stroke-linecap="round"/>
<line x1="531" y1="836.8" x2="513.9" y2="854.7" stroke="#a9a9b4" stroke-width="2" stroke-linecap="round"/>
<line x1="531" y1="836.8" x2="550.9" y2="817.7" stroke="#a9a9b4" stroke-width="2" stroke-linecap="round"/>
<line x1="531" y1="836.8" x2="550.9" y2="854.7" stroke="#a9a9b4" stroke-width="2" stroke-linecap="round"/>
<line x1="567.4" y1="836.8" x2="550.9" y2="817.7" stroke="#a9a9b4" stroke-width="2" stroke-linecap="round"/>
<line x1="567.4" y1="836.8" x2="550.9" y2="854.7" stroke="#a9a9b4" stroke-width="2" stroke-linecap="round"/>
<line x1="567.4" y1="836.8" x2="587.3" y2="817.7" stroke="#a9a9b4" stroke-width="2" stroke-linecap="round"/>
<line x1="567.4" y1="836.8" x2="587.3" y2="854.7" stroke="#a9a9b4" stroke-width="2" stroke-linecap="round"/>
<line x1="605" y1="836.8" x2="587.3" y2="817.7" stroke="#a9a9b4" stroke-width="2" stroke-linecap="round"/>
<line x1="605" y1="836.8" x2="587.3" y2="854.7" stroke="#a9a9b4" stroke-width="2" stroke-linecap="round"/>
<line x1="605" y1="836.8" x2="626.3" y2="817.7" stroke="#a9a9b4" stroke-width="2" stroke-linecap="round"/>
<line x1="605" y1="836.8" x2="626.3" y2="854.7" stroke="#a9a9b4" stroke-width="2" stroke-linecap="round"/>
<line x1="642.5" y1="836.8" x2="626.3" y2="817.7" stroke="#a9a9b4" stroke-width="2" stroke-linecap="round"/>
<line x1="642.5" y1="836.8" x2="626.3" y2="854.7" stroke="#a9a9b4" stroke-width="2" stroke-linecap="round"/>
<line x1="642.5" y1="836.8" x2="664.7" y2="817.7" stroke="#a9a9b4" stroke-width="2" stroke-linecap="round"/>
<line x1="642.5" y1="836.8" x2="664.7" y2="854.7" stroke="#a9a9b4" stroke-width="2" stroke-linecap="round"/>
<line x1="680.3" y1="836.8" x2="664.7" y2="817.7" stroke="#a9a9b4" stroke-width="2" stroke-linecap="round"/>
<line x1="680.3" y1="836.8" x2="664.7" y2="854.7" stroke="#a9a9b4" stroke-width="2" stroke-linecap="round"/>
<line x1="680.3" y1="836.8" x2="703" y2="817.7" stroke="#a9a9b4" stroke-width="2" stroke-linecap="round"/>
<line x1="680.3" y1="836.8" x2="703" y2="854.7" stroke="#a9a9b4" stroke-width="2" stroke-linecap="round"/>
<line x1="718.7" y1="836.8" x2="703" y2="817.7" stroke="#a9a9b4" stroke-width="2" stroke-linecap="round"/>
<line x1="718.7" y1="836.8" x2="703" y2="854.7" stroke="#a9a9b4" stroke-width="2" stroke-linecap="round"/>
<line x1="718.7" y1="836.8" x2="740" y2="817.7" stroke="#a9a9b4" stroke-width="2" stroke-linecap="round"/>
<line x1="718.7" y1="836.8" x2="740" y2="854.7" stroke="#a9a9b4" stroke-width="2" stroke-linecap="round"/>
<line x1="420" y1="836.8" x2="438" y2="817.7" stroke="#a9a9b4" stroke-width="2" stroke-linecap="round"/>
<line x1="420" y1="836.8" x2="438" y2="854.7" stroke="#a9a9b4" stroke-width="2" stroke-linecap="round"/>
<line x1="756" y1="836.8" x2="740" y2="817.7" stroke="#a9a9b4" stroke-width="2" stroke-linecap="round"/>
<line x1="756" y1="836.8" x2="740" y2="854.7" stroke="#a9a9b4" stroke-width="2" stroke-linecap="round"/>
<circle cx="438" cy="817.7" r="7.2" fill="url(#gS)"/>
<circle cx="438" cy="854.7" r="7.2" fill="url(#gS)"/>
<circle cx="475.5" cy="817.7" r="7.2" fill="url(#gS)"/>
<circle cx="475.5" cy="854.7" r="7.2" fill="url(#gS)"/>
<circle cx="513.9" cy="817.7" r="7.2" fill="url(#gS)"/>
<circle cx="513.9" cy="854.7" r="7.2" fill="url(#gS)"/>
<circle cx="550.9" cy="817.7" r="7.2" fill="url(#gS)"/>
<circle cx="550.9" cy="854.7" r="7.2" fill="url(#gS)"/>
<circle cx="587.3" cy="817.7" r="7.2" fill="url(#gS)"/>
<circle cx="587.3" cy="854.7" r="7.2" fill="url(#gS)"/>
<circle cx="626.3" cy="817.7" r="7.2" fill="url(#gS)"/>
<circle cx="626.3" cy="854.7" r="7.2" fill="url(#gS)"/>
<circle cx="664.7" cy="817.7" r="7.2" fill="url(#gS)"/>
<circle cx="664.7" cy="854.7" r="7.2" fill="url(#gS)"/>
<circle cx="703" cy="817.7" r="7.2" fill="url(#gS)"/>
<circle cx="703" cy="854.7" r="7.2" fill="url(#gS)"/>
<circle cx="740" cy="817.7" r="7.2" fill="url(#gS)"/>
<circle cx="740" cy="854.7" r="7.2" fill="url(#gS)"/>
<circle cx="457" cy="836.8" r="10.6" fill="url(#gW)"/>
<circle cx="494" cy="836.8" r="10.6" fill="url(#gW)"/>
<circle cx="531" cy="836.8" r="10.6" fill="url(#gW)"/>
<circle cx="567.4" cy="836.8" r="10.6" fill="url(#gW)"/>
<circle cx="605" cy="836.8" r="10.6" fill="url(#gW)"/>
<circle cx="642.5" cy="836.8" r="10.6" fill="url(#gW)"/>
<circle cx="680.3" cy="836.8" r="10.6" fill="url(#gW)"/>
<circle cx="718.7" cy="836.8" r="10.6" fill="url(#gW)"/>
<circle cx="420" cy="836.8" r="10.6" fill="url(#gW)"/>
<circle cx="756" cy="836.8" r="10.6" fill="url(#gW)"/>
</g>
<rect x="556" y="806" width="132" height="28" fill="#fa7070" opacity="0.55" filter="url(#blur2)"/>
<line x1="505.3" y1="682.6" x2="481" y2="674" stroke="#b03030" stroke-width="4" stroke-linecap="round"/>
<line x1="505.3" y1="682.6" x2="519.6" y2="659" stroke="#b03030" stroke-width="5" stroke-linecap="round"/>
<line x1="505.3" y1="682.6" x2="519.6" y2="659" stroke="#f4d0d0" stroke-width="1.4" stroke-linecap="round"/>
<circle cx="481" cy="674" r="10" fill="url(#gO)"/>
<circle cx="519.6" cy="659" r="10" fill="url(#gO)"/>
<circle cx="505.3" cy="682.6" r="11" fill="url(#gN)"/>
<path d="M512.5 699 Q512 730 532 742" fill="none" stroke="url(#gArr)" stroke-width="8" stroke-linecap="butt" opacity="1"/><polygon points="528,732 543,748 524,751" fill="#a9d3de" opacity="1"/>
<circle cx="500" cy="785.3" r="28" fill="url(#gAg)"/>
<text class="s" x="499.5" y="791.2" font-size="24.5" font-weight="bold" text-anchor="middle" fill="#000">Ag</text>
<path d="M492 797 Q500 822 533 824 L533 830 L546 821 L533 811 L533 817 Q508 815 497 796 Z" fill="url(#gBrown)"/>
<line x1="586.4" y1="753.7" x2="562" y2="746.6" stroke="#b03030" stroke-width="4" stroke-linecap="round"/>
<line x1="586.4" y1="753.7" x2="600.7" y2="731.5" stroke="#b03030" stroke-width="5" stroke-linecap="round"/>
<line x1="586.4" y1="753.7" x2="600.7" y2="731.5" stroke="#f4d0d0" stroke-width="1.4" stroke-linecap="round"/>
<circle cx="562" cy="746.6" r="10" fill="url(#gO)"/>
<circle cx="600.7" cy="731.5" r="10" fill="url(#gO)"/>
<circle cx="586.4" cy="753.7" r="11" fill="url(#gN)"/>
<rect x="612" y="712.5" width="20" height="6.2" fill="#000"/>
<rect x="583.6" y="768" width="9.4" height="9" fill="#000"/>
<rect x="583.6" y="787.9" width="9.4" height="8.5" fill="#000"/>
<rect x="583.6" y="806.3" width="9.4" height="2" fill="#000"/>
<line x1="606.3" y1="802" x2="606.3" y2="771.5" stroke="#f01010" stroke-width="2.8"/><polygon points="598,773.5 614.6,773.5 606.3,757" fill="#f01010"/>
<text class="s" x="617.7" y="797.8" font-size="30" font-weight="bold" fill="#f01010">e</text>
<line x1="664.7" y1="753.7" x2="640" y2="746.6" stroke="#b03030" stroke-width="4" stroke-linecap="round"/>
<line x1="664.7" y1="753.7" x2="678.9" y2="731.5" stroke="#b03030" stroke-width="5" stroke-linecap="round"/>
<line x1="664.7" y1="753.7" x2="678.9" y2="731.5" stroke="#f4d0d0" stroke-width="1.4" stroke-linecap="round"/>
<circle cx="640" cy="746.6" r="10" fill="url(#gO)"/>
<circle cx="678.9" cy="731.5" r="10" fill="url(#gO)"/>
<circle cx="664.7" cy="753.7" r="11" fill="url(#gN)"/>
<rect x="689.7" y="712.5" width="20" height="6.2" fill="#000"/>
<rect x="659" y="768" width="9.4" height="9" fill="#000"/>
<rect x="659" y="787.9" width="9.4" height="8.5" fill="#000"/>
<rect x="659" y="806.3" width="9.4" height="2" fill="#000"/>
<line x1="682.3" y1="802" x2="682.3" y2="771.5" stroke="#f01010" stroke-width="2.8"/><polygon points="674,773.5 690.6,773.5 682.3,757" fill="#f01010"/>
<text class="s" x="692.4" y="797.8" font-size="30" font-weight="bold" fill="#f01010">e</text>
<text class="s" x="545.2" y="829.5" font-size="33" font-weight="bold" fill="#f01010">e</text>
<text class="s" x="604.7" y="829.5" font-size="33" font-weight="bold" fill="#f01010">e</text>
<text class="s" x="657.7" y="829.5" font-size="33" font-weight="bold" fill="#f01010">e</text>
<circle cx="432.8" cy="640.5" r="1.1" fill="#333"/>
<ellipse cx="90" cy="931" rx="13" ry="3" fill="#bbb" opacity="0.5" filter="url(#shadow)"/>
<circle cx="87.9" cy="918.8" r="13" fill="url(#gLH)"/>
<circle cx="192.8" cy="921" r="18.6" fill="url(#gLC)"/>
<circle cx="298.3" cy="921.9" r="21" fill="url(#gLN)"/>
<circle cx="403.8" cy="920.3" r="21.7" fill="url(#gLO)"/>
<ellipse cx="86.3" cy="913.3" rx="2.6" ry="1.8" fill="#fff" opacity="0.55" filter="url(#shadow)"/>
<ellipse cx="190.6" cy="913.2" rx="3.7" ry="2.6" fill="#fff" opacity="0.55" filter="url(#shadow)"/>
<ellipse cx="295.8" cy="913.1" rx="4.2" ry="2.9" fill="#fff" opacity="0.55" filter="url(#shadow)"/>
<ellipse cx="401.2" cy="911.2" rx="4.3" ry="3" fill="#fff" opacity="0.55" filter="url(#shadow)"/>
<text class="s" x="112.4" y="928" font-size="24" font-weight="bold" fill="#000" textLength="35" lengthAdjust="spacing">: H</text>
<text class="s" x="221.1" y="928" font-size="24" font-weight="bold" fill="#000" textLength="35" lengthAdjust="spacing">: C</text>
<text class="s" x="326.6" y="928" font-size="24" font-weight="bold" fill="#000" textLength="35" lengthAdjust="spacing">: N</text>
<text class="s" x="435.2" y="928" font-size="24" font-weight="bold" fill="#000" textLength="35" lengthAdjust="spacing">: O</text>
</g>
<g id="panel_d">
<text class="r" x="755.7" y="509.3" font-size="44.5" font-weight="bold" fill="#000">(d)</text>
<polygon points="858.3,696.6 1236.2,729.7 1236.2,737.9 861,704.8" fill="#e8e8e8" filter="url(#dsh)" opacity="0.8"/>
<polygon points="852.8,677.2 866.6,657.9 1216.9,681.4 1240.3,705.4" fill="#fafafa"/>
<polygon points="852.8,677.2 1240.3,705.4 1239,731 855.5,696.6" fill="url(#dSlab)"/>
<polygon points="876.2,664 1222.4,693.2 1230.1,685.5 1213.6,616.6 1007.2,604.1 941,630.3" fill="#262a50" opacity="0.7"/>
<circle cx="1010.8" cy="606.8" r="2.3" fill="#464c98"/>
<circle cx="1020.9" cy="607.3" r="2.3" fill="#464c98"/>
<circle cx="1031" cy="607.8" r="2.3" fill="#464c98"/>
<circle cx="1041" cy="608.3" r="2.3" fill="#464c98"/>
<circle cx="1051.1" cy="608.9" r="2.3" fill="#464c98"/>
<circle cx="1061.2" cy="609.4" r="2.3" fill="#464c98"/>
<circle cx="1071.2" cy="609.9" r="2.3" fill="#464c98"/>
<circle cx="1081.3" cy="610.4" r="2.3" fill="#464c98"/>
<circle cx="1091.4" cy="611" r="2.3" fill="#464c98"/>
<circle cx="1101.4" cy="611.5" r="2.3" fill="#464c98"/>
<circle cx="1111.5" cy="612" r="2.3" fill="#464c98"/>
<circle cx="1121.6" cy="612.5" r="2.3" fill="#464c98"/>
<circle cx="1131.6" cy="613" r="2.3" fill="#464c98"/>
<circle cx="1141.7" cy="613.6" r="2.3" fill="#464c98"/>
<circle cx="1151.8" cy="614.1" r="2.3" fill="#464c98"/>
<circle cx="1161.9" cy="614.6" r="2.3" fill="#464c98"/>
<circle cx="1171.9" cy="615.1" r="2.3" fill="#464c98"/>
<circle cx="1182" cy="615.7" r="2.3" fill="#464c98"/>
<circle cx="1192.1" cy="616.2" r="2.3" fill="#464c98"/>
<circle cx="1202.1" cy="616.7" r="2.3" fill="#464c98"/>
<circle cx="1212.2" cy="617.2" r="2.3" fill="#464c98"/>
<circle cx="1005.9" cy="602.8" r="2.3" fill="url(#gIS)"/>
<circle cx="1015.9" cy="603.3" r="2.3" fill="url(#gIS)"/>
<circle cx="1026" cy="603.8" r="2.3" fill="url(#gIS)"/>
<circle cx="1036.1" cy="604.3" r="2.3" fill="url(#gIS)"/>
<circle cx="1046.1" cy="604.9" r="2.3" fill="url(#gIS)"/>
<circle cx="1056.2" cy="605.4" r="2.3" fill="url(#gIS)"/>
<circle cx="1066.3" cy="605.9" r="2.3" fill="url(#gIS)"/>
<circle cx="1076.3" cy="606.4" r="2.3" fill="url(#gIS)"/>
<circle cx="1086.4" cy="607" r="2.3" fill="url(#gIS)"/>
<circle cx="1096.5" cy="607.5" r="2.3" fill="url(#gIS)"/>
<circle cx="1106.6" cy="608" r="2.3" fill="url(#gIS)"/>
<circle cx="1116.6" cy="608.5" r="2.3" fill="url(#gIS)"/>
<circle cx="1126.7" cy="609" r="2.3" fill="url(#gIS)"/>
<circle cx="1136.8" cy="609.6" r="2.3" fill="url(#gIS)"/>
<circle cx="1146.8" cy="610.1" r="2.3" fill="url(#gIS)"/>
<circle cx="1156.9" cy="610.6" r="2.3" fill="url(#gIS)"/>
<circle cx="1167" cy="611.1" r="2.3" fill="url(#gIS)"/>
<circle cx="1177" cy="611.7" r="2.3" fill="url(#gIS)"/>
<circle cx="1187.1" cy="612.2" r="2.3" fill="url(#gIS)"/>
<circle cx="1197.2" cy="612.7" r="2.3" fill="url(#gIS)"/>
<circle cx="1207.2" cy="613.2" r="2.3" fill="url(#gIS)"/>
<circle cx="1010.3" cy="609.5" r="2.4" fill="#464c98"/>
<circle cx="1020.7" cy="610.1" r="2.4" fill="#464c98"/>
<circle cx="1031.1" cy="610.6" r="2.4" fill="#464c98"/>
<circle cx="1041.5" cy="611.2" r="2.4" fill="#464c98"/>
<circle cx="1051.9" cy="611.8" r="2.4" fill="#464c98"/>
<circle cx="1062.3" cy="612.3" r="2.4" fill="#464c98"/>
<circle cx="1072.7" cy="612.9" r="2.4" fill="#464c98"/>
<circle cx="1083.1" cy="613.5" r="2.4" fill="#464c98"/>
<circle cx="1093.4" cy="614" r="2.4" fill="#464c98"/>
<circle cx="1103.8" cy="614.6" r="2.4" fill="#464c98"/>
<circle cx="1114.2" cy="615.2" r="2.4" fill="#464c98"/>
<circle cx="1124.6" cy="615.7" r="2.4" fill="#464c98"/>
<circle cx="1135" cy="616.3" r="2.4" fill="#464c98"/>
<circle cx="1145.4" cy="616.9" r="2.4" fill="#464c98"/>
<circle cx="1155.8" cy="617.4" r="2.4" fill="#464c98"/>
<circle cx="1166.2" cy="618" r="2.4" fill="#464c98"/>
<circle cx="1176.6" cy="618.6" r="2.4" fill="#464c98"/>
<circle cx="1187" cy="619.1" r="2.4" fill="#464c98"/>
<circle cx="1197.4" cy="619.7" r="2.4" fill="#464c98"/>
<circle cx="1207.7" cy="620.2" r="2.4" fill="#464c98"/>
<circle cx="1005.2" cy="605.4" r="2.4" fill="url(#gIS)"/>
<circle cx="1015.6" cy="605.9" r="2.4" fill="url(#gIS)"/>
<circle cx="1025.9" cy="606.5" r="2.4" fill="url(#gIS)"/>
<circle cx="1036.3" cy="607" r="2.4" fill="url(#gIS)"/>
<circle cx="1046.7" cy="607.6" r="2.4" fill="url(#gIS)"/>
<circle cx="1057.1" cy="608.2" r="2.4" fill="url(#gIS)"/>
<circle cx="1067.5" cy="608.7" r="2.4" fill="url(#gIS)"/>
<circle cx="1077.9" cy="609.3" r="2.4" fill="url(#gIS)"/>
<circle cx="1088.3" cy="609.9" r="2.4" fill="url(#gIS)"/>
<circle cx="1098.7" cy="610.4" r="2.4" fill="url(#gIS)"/>
<circle cx="1109.1" cy="611" r="2.4" fill="url(#gIS)"/>
<circle cx="1119.5" cy="611.6" r="2.4" fill="url(#gIS)"/>
<circle cx="1129.9" cy="612.1" r="2.4" fill="url(#gIS)"/>
<circle cx="1140.2" cy="612.7" r="2.4" fill="url(#gIS)"/>
<circle cx="1150.6" cy="613.3" r="2.4" fill="url(#gIS)"/>
<circle cx="1161" cy="613.8" r="2.4" fill="url(#gIS)"/>
<circle cx="1171.4" cy="614.4" r="2.4" fill="url(#gIS)"/>
<circle cx="1181.8" cy="615" r="2.4" fill="url(#gIS)"/>
<circle cx="1192.2" cy="615.5" r="2.4" fill="url(#gIS)"/>
<circle cx="1202.6" cy="616.1" r="2.4" fill="url(#gIS)"/>
<circle cx="999.4" cy="611.7" r="2.5" fill="#464c98"/>
<circle cx="1010.1" cy="612.3" r="2.5" fill="#464c98"/>
<circle cx="1020.8" cy="612.9" r="2.5" fill="#464c98"/>
<circle cx="1031.5" cy="613.5" r="2.5" fill="#464c98"/>
<circle cx="1042.2" cy="614.2" r="2.5" fill="#464c98"/>
<circle cx="1052.9" cy="614.8" r="2.5" fill="#464c98"/>
<circle cx="1063.7" cy="615.4" r="2.5" fill="#464c98"/>
<circle cx="1074.4" cy="616" r="2.5" fill="#464c98"/>
<circle cx="1085.1" cy="616.6" r="2.5" fill="#464c98"/>
<circle cx="1095.8" cy="617.2" r="2.5" fill="#464c98"/>
<circle cx="1106.5" cy="617.8" r="2.5" fill="#464c98"/>
<circle cx="1117.2" cy="618.4" r="2.5" fill="#464c98"/>
<circle cx="1128" cy="619" r="2.5" fill="#464c98"/>
<circle cx="1138.7" cy="619.6" r="2.5" fill="#464c98"/>
<circle cx="1149.4" cy="620.2" r="2.5" fill="#464c98"/>
<circle cx="1160.1" cy="620.8" r="2.5" fill="#464c98"/>
<circle cx="1170.8" cy="621.4" r="2.5" fill="#464c98"/>
<circle cx="1181.5" cy="622" r="2.5" fill="#464c98"/>
<circle cx="1192.3" cy="622.6" r="2.5" fill="#464c98"/>
<circle cx="1203" cy="623.3" r="2.5" fill="#464c98"/>
<circle cx="1213.7" cy="623.9" r="2.5" fill="#464c98"/>
<circle cx="994" cy="607.4" r="2.4" fill="url(#gIS)"/>
<circle cx="1004.7" cy="608" r="2.4" fill="url(#gIS)"/>
<circle cx="1015.4" cy="608.6" r="2.4" fill="url(#gIS)"/>
<circle cx="1026.1" cy="609.2" r="2.4" fill="url(#gIS)"/>
<circle cx="1036.9" cy="609.8" r="2.4" fill="url(#gIS)"/>
<circle cx="1047.6" cy="610.4" r="2.4" fill="url(#gIS)"/>
<circle cx="1058.3" cy="611" r="2.4" fill="url(#gIS)"/>
<circle cx="1069" cy="611.7" r="2.4" fill="url(#gIS)"/>
<circle cx="1079.7" cy="612.3" r="2.4" fill="url(#gIS)"/>
<circle cx="1090.4" cy="612.9" r="2.4" fill="url(#gIS)"/>
<circle cx="1101.2" cy="613.5" r="2.4" fill="url(#gIS)"/>
<circle cx="1111.9" cy="614.1" r="2.4" fill="url(#gIS)"/>
<circle cx="1122.6" cy="614.7" r="2.4" fill="url(#gIS)"/>
<circle cx="1133.3" cy="615.3" r="2.4" fill="url(#gIS)"/>
<circle cx="1144" cy="615.9" r="2.4" fill="url(#gIS)"/>
<circle cx="1154.7" cy="616.5" r="2.4" fill="url(#gIS)"/>
<circle cx="1165.5" cy="617.1" r="2.4" fill="url(#gIS)"/>
<circle cx="1176.2" cy="617.7" r="2.4" fill="url(#gIS)"/>
<circle cx="1186.9" cy="618.3" r="2.4" fill="url(#gIS)"/>
<circle cx="1197.6" cy="618.9" r="2.4" fill="url(#gIS)"/>
<circle cx="1208.3" cy="619.5" r="2.4" fill="url(#gIS)"/>
<circle cx="999" cy="614.6" r="2.6" fill="#464c98"/>
<circle cx="1010.1" cy="615.2" r="2.6" fill="#464c98"/>
<circle cx="1021.1" cy="615.9" r="2.6" fill="#464c98"/>
<circle cx="1032.2" cy="616.5" r="2.6" fill="#464c98"/>
<circle cx="1043.2" cy="617.2" r="2.6" fill="#464c98"/>
<circle cx="1054.3" cy="617.8" r="2.6" fill="#464c98"/>
<circle cx="1065.3" cy="618.5" r="2.6" fill="#464c98"/>
<circle cx="1076.4" cy="619.1" r="2.6" fill="#464c98"/>
<circle cx="1087.4" cy="619.8" r="2.6" fill="#464c98"/>
<circle cx="1098.5" cy="620.4" r="2.6" fill="#464c98"/>
<circle cx="1109.5" cy="621.1" r="2.6" fill="#464c98"/>
<circle cx="1120.5" cy="621.7" r="2.6" fill="#464c98"/>
<circle cx="1131.6" cy="622.4" r="2.6" fill="#464c98"/>
<circle cx="1142.6" cy="623" r="2.6" fill="#464c98"/>
<circle cx="1153.7" cy="623.7" r="2.6" fill="#464c98"/>
<circle cx="1164.7" cy="624.3" r="2.6" fill="#464c98"/>
<circle cx="1175.8" cy="625" r="2.6" fill="#464c98"/>
<circle cx="1186.8" cy="625.6" r="2.6" fill="#464c98"/>
<circle cx="1197.9" cy="626.3" r="2.6" fill="#464c98"/>
<circle cx="1208.9" cy="626.9" r="2.6" fill="#464c98"/>
<circle cx="993.5" cy="610.1" r="2.5" fill="url(#gIS)"/>
<circle cx="1004.5" cy="610.8" r="2.5" fill="url(#gIS)"/>
<circle cx="1015.6" cy="611.4" r="2.5" fill="url(#gIS)"/>
<circle cx="1026.6" cy="612" r="2.5" fill="url(#gIS)"/>
<circle cx="1037.7" cy="612.7" r="2.5" fill="url(#gIS)"/>
<circle cx="1048.7" cy="613.3" r="2.5" fill="url(#gIS)"/>
<circle cx="1059.8" cy="614" r="2.5" fill="url(#gIS)"/>
<circle cx="1070.8" cy="614.6" r="2.5" fill="url(#gIS)"/>
<circle cx="1081.8" cy="615.3" r="2.5" fill="url(#gIS)"/>
<circle cx="1092.9" cy="615.9" r="2.5" fill="url(#gIS)"/>
<circle cx="1103.9" cy="616.6" r="2.5" fill="url(#gIS)"/>
<circle cx="1115" cy="617.2" r="2.5" fill="url(#gIS)"/>
<circle cx="1126" cy="617.9" r="2.5" fill="url(#gIS)"/>
<circle cx="1137.1" cy="618.5" r="2.5" fill="url(#gIS)"/>
<circle cx="1148.1" cy="619.2" r="2.5" fill="url(#gIS)"/>
<circle cx="1159.2" cy="619.8" r="2.5" fill="url(#gIS)"/>
<circle cx="1170.2" cy="620.5" r="2.5" fill="url(#gIS)"/>
<circle cx="1181.3" cy="621.1" r="2.5" fill="url(#gIS)"/>
<circle cx="1192.3" cy="621.8" r="2.5" fill="url(#gIS)"/>
<circle cx="1203.4" cy="622.4" r="2.5" fill="url(#gIS)"/>
<circle cx="987.6" cy="616.8" r="2.7" fill="#464c98"/>
<circle cx="998.9" cy="617.5" r="2.7" fill="#464c98"/>
<circle cx="1010.3" cy="618.2" r="2.7" fill="#464c98"/>
<circle cx="1021.7" cy="618.9" r="2.7" fill="#464c98"/>
<circle cx="1033.1" cy="619.6" r="2.7" fill="#464c98"/>
<circle cx="1044.5" cy="620.3" r="2.7" fill="#464c98"/>
<circle cx="1055.9" cy="621" r="2.7" fill="#464c98"/>
<circle cx="1067.2" cy="621.7" r="2.7" fill="#464c98"/>
<circle cx="1078.6" cy="622.4" r="2.7" fill="#464c98"/>
<circle cx="1090" cy="623.1" r="2.7" fill="#464c98"/>
<circle cx="1101.4" cy="623.7" r="2.7" fill="#464c98"/>
<circle cx="1112.8" cy="624.4" r="2.7" fill="#464c98"/>
<circle cx="1124.1" cy="625.1" r="2.7" fill="#464c98"/>
<circle cx="1135.5" cy="625.8" r="2.7" fill="#464c98"/>
<circle cx="1146.9" cy="626.5" r="2.7" fill="#464c98"/>
<circle cx="1158.3" cy="627.2" r="2.7" fill="#464c98"/>
<circle cx="1169.7" cy="627.9" r="2.7" fill="#464c98"/>
<circle cx="1181.1" cy="628.6" r="2.7" fill="#464c98"/>
<circle cx="1192.4" cy="629.3" r="2.7" fill="#464c98"/>
<circle cx="1203.8" cy="630" r="2.7" fill="#464c98"/>
<circle cx="1215.2" cy="630.7" r="2.7" fill="#464c98"/>
<circle cx="981.8" cy="612.2" r="2.6" fill="url(#gIS)"/>
<circle cx="993.2" cy="612.9" r="2.6" fill="url(#gIS)"/>
<circle cx="1004.6" cy="613.6" r="2.6" fill="url(#gIS)"/>
<circle cx="1015.9" cy="614.3" r="2.6" fill="url(#gIS)"/>
<circle cx="1027.3" cy="615" r="2.6" fill="url(#gIS)"/>
<circle cx="1038.7" cy="615.6" r="2.6" fill="url(#gIS)"/>
<circle cx="1050.1" cy="616.3" r="2.6" fill="url(#gIS)"/>
<circle cx="1061.5" cy="617" r="2.6" fill="url(#gIS)"/>
<circle cx="1072.9" cy="617.7" r="2.6" fill="url(#gIS)"/>
<circle cx="1084.2" cy="618.4" r="2.6" fill="url(#gIS)"/>
<circle cx="1095.6" cy="619.1" r="2.6" fill="url(#gIS)"/>
<circle cx="1107" cy="619.8" r="2.6" fill="url(#gIS)"/>
<circle cx="1118.4" cy="620.5" r="2.6" fill="url(#gIS)"/>
<circle cx="1129.8" cy="621.2" r="2.6" fill="url(#gIS)"/>
<circle cx="1141.2" cy="621.9" r="2.6" fill="url(#gIS)"/>
<circle cx="1152.5" cy="622.6" r="2.6" fill="url(#gIS)"/>
<circle cx="1163.9" cy="623.2" r="2.6" fill="url(#gIS)"/>
<circle cx="1175.3" cy="623.9" r="2.6" fill="url(#gIS)"/>
<circle cx="1186.7" cy="624.6" r="2.6" fill="url(#gIS)"/>
<circle cx="1198.1" cy="625.3" r="2.6" fill="url(#gIS)"/>
<circle cx="1209.5" cy="626" r="2.6" fill="url(#gIS)"/>
<circle cx="987.4" cy="619.8" r="2.8" fill="#464c98"/>
<circle cx="999.1" cy="620.5" r="2.8" fill="#464c98"/>
<circle cx="1010.8" cy="621.3" r="2.8" fill="#464c98"/>
<circle cx="1022.5" cy="622" r="2.8" fill="#464c98"/>
<circle cx="1034.3" cy="622.7" r="2.8" fill="#464c98"/>
<circle cx="1046" cy="623.5" r="2.8" fill="#464c98"/>
<circle cx="1057.7" cy="624.2" r="2.8" fill="#464c98"/>
<circle cx="1069.4" cy="624.9" r="2.8" fill="#464c98"/>
<circle cx="1081.2" cy="625.7" r="2.8" fill="#464c98"/>
<circle cx="1092.9" cy="626.4" r="2.8" fill="#464c98"/>
<circle cx="1104.6" cy="627.1" r="2.8" fill="#464c98"/>
<circle cx="1116.3" cy="627.9" r="2.8" fill="#464c98"/>
<circle cx="1128.1" cy="628.6" r="2.8" fill="#464c98"/>
<circle cx="1139.8" cy="629.4" r="2.8" fill="#464c98"/>
<circle cx="1151.5" cy="630.1" r="2.8" fill="#464c98"/>
<circle cx="1163.2" cy="630.8" r="2.8" fill="#464c98"/>
<circle cx="1175" cy="631.6" r="2.8" fill="#464c98"/>
<circle cx="1186.7" cy="632.3" r="2.8" fill="#464c98"/>
<circle cx="1198.4" cy="633" r="2.8" fill="#464c98"/>
<circle cx="1210.1" cy="633.8" r="2.8" fill="#464c98"/>
<circle cx="981.4" cy="615" r="2.7" fill="url(#gIS)"/>
<circle cx="993.1" cy="615.7" r="2.7" fill="url(#gIS)"/>
<circle cx="1004.9" cy="616.5" r="2.7" fill="url(#gIS)"/>
<circle cx="1016.6" cy="617.2" r="2.7" fill="url(#gIS)"/>
<circle cx="1028.3" cy="617.9" r="2.7" fill="url(#gIS)"/>
<circle cx="1040" cy="618.7" r="2.7" fill="url(#gIS)"/>
<circle cx="1051.8" cy="619.4" r="2.7" fill="url(#gIS)"/>
<circle cx="1063.5" cy="620.1" r="2.7" fill="url(#gIS)"/>
<circle cx="1075.2" cy="620.9" r="2.7" fill="url(#gIS)"/>
<circle cx="1086.9" cy="621.6" r="2.7" fill="url(#gIS)"/>
<circle cx="1098.7" cy="622.3" r="2.7" fill="url(#gIS)"/>
<circle cx="1110.4" cy="623.1" r="2.7" fill="url(#gIS)"/>
<circle cx="1122.1" cy="623.8" r="2.7" fill="url(#gIS)"/>
<circle cx="1133.8" cy="624.5" r="2.7" fill="url(#gIS)"/>
<circle cx="1145.5" cy="625.3" r="2.7" fill="url(#gIS)"/>
<circle cx="1157.3" cy="626" r="2.7" fill="url(#gIS)"/>
<circle cx="1169" cy="626.7" r="2.7" fill="url(#gIS)"/>
<circle cx="1180.7" cy="627.5" r="2.7" fill="url(#gIS)"/>
<circle cx="1192.4" cy="628.2" r="2.7" fill="url(#gIS)"/>
<circle cx="1204.2" cy="629" r="2.7" fill="url(#gIS)"/>
<circle cx="975.4" cy="622.1" r="2.9" fill="#464c98"/>
<circle cx="987.4" cy="622.9" r="2.9" fill="#464c98"/>
<circle cx="999.5" cy="623.6" r="2.9" fill="#464c98"/>
<circle cx="1011.6" cy="624.4" r="2.9" fill="#464c98"/>
<circle cx="1023.6" cy="625.2" r="2.9" fill="#464c98"/>
<circle cx="1035.7" cy="626" r="2.9" fill="#464c98"/>
<circle cx="1047.8" cy="626.8" r="2.9" fill="#464c98"/>
<circle cx="1059.9" cy="627.5" r="2.9" fill="#464c98"/>
<circle cx="1071.9" cy="628.3" r="2.9" fill="#464c98"/>
<circle cx="1084" cy="629.1" r="2.9" fill="#464c98"/>
<circle cx="1096.1" cy="629.9" r="2.9" fill="#464c98"/>
<circle cx="1108.1" cy="630.6" r="2.9" fill="#464c98"/>
<circle cx="1120.2" cy="631.4" r="2.9" fill="#464c98"/>
<circle cx="1132.3" cy="632.2" r="2.9" fill="#464c98"/>
<circle cx="1144.3" cy="633" r="2.9" fill="#464c98"/>
<circle cx="1156.4" cy="633.8" r="2.9" fill="#464c98"/>
<circle cx="1168.5" cy="634.5" r="2.9" fill="#464c98"/>
<circle cx="1180.6" cy="635.3" r="2.9" fill="#464c98"/>
<circle cx="1192.6" cy="636.1" r="2.9" fill="#464c98"/>
<circle cx="1204.7" cy="636.9" r="2.9" fill="#464c98"/>
<circle cx="1216.8" cy="637.7" r="2.9" fill="#464c98"/>
<circle cx="969.2" cy="617.1" r="2.8" fill="url(#gIS)"/>
<circle cx="981.3" cy="617.9" r="2.8" fill="url(#gIS)"/>
<circle cx="993.4" cy="618.7" r="2.8" fill="url(#gIS)"/>
<circle cx="1005.4" cy="619.5" r="2.8" fill="url(#gIS)"/>
<circle cx="1017.5" cy="620.2" r="2.8" fill="url(#gIS)"/>
<circle cx="1029.6" cy="621" r="2.8" fill="url(#gIS)"/>
<circle cx="1041.6" cy="621.8" r="2.8" fill="url(#gIS)"/>
<circle cx="1053.7" cy="622.6" r="2.8" fill="url(#gIS)"/>
<circle cx="1065.8" cy="623.3" r="2.8" fill="url(#gIS)"/>
<circle cx="1077.8" cy="624.1" r="2.8" fill="url(#gIS)"/>
<circle cx="1089.9" cy="624.9" r="2.8" fill="url(#gIS)"/>
<circle cx="1102" cy="625.7" r="2.8" fill="url(#gIS)"/>
<circle cx="1114" cy="626.5" r="2.8" fill="url(#gIS)"/>
<circle cx="1126.1" cy="627.2" r="2.8" fill="url(#gIS)"/>
<circle cx="1138.2" cy="628" r="2.8" fill="url(#gIS)"/>
<circle cx="1150.3" cy="628.8" r="2.8" fill="url(#gIS)"/>
<circle cx="1162.3" cy="629.6" r="2.8" fill="url(#gIS)"/>
<circle cx="1174.4" cy="630.4" r="2.8" fill="url(#gIS)"/>
<circle cx="1186.5" cy="631.1" r="2.8" fill="url(#gIS)"/>
<circle cx="1198.5" cy="631.9" r="2.8" fill="url(#gIS)"/>
<circle cx="1210.6" cy="632.7" r="2.8" fill="url(#gIS)"/>
<circle cx="975.3" cy="625.2" r="3" fill="#464c98"/>
<circle cx="987.7" cy="626" r="3" fill="#464c98"/>
<circle cx="1000.2" cy="626.8" r="3" fill="#464c98"/>
<circle cx="1012.6" cy="627.7" r="3" fill="#464c98"/>
<circle cx="1025" cy="628.5" r="3" fill="#464c98"/>
<circle cx="1037.4" cy="629.3" r="3" fill="#464c98"/>
<circle cx="1049.9" cy="630.1" r="3" fill="#464c98"/>
<circle cx="1062.3" cy="631" r="3" fill="#464c98"/>
<circle cx="1074.7" cy="631.8" r="3" fill="#464c98"/>
<circle cx="1087.1" cy="632.6" r="3" fill="#464c98"/>
<circle cx="1099.5" cy="633.4" r="3" fill="#464c98"/>
<circle cx="1112" cy="634.2" r="3" fill="#464c98"/>
<circle cx="1124.4" cy="635.1" r="3" fill="#464c98"/>
<circle cx="1136.8" cy="635.9" r="3" fill="#464c98"/>
<circle cx="1149.2" cy="636.7" r="3" fill="#464c98"/>
<circle cx="1161.7" cy="637.5" r="3" fill="#464c98"/>
<circle cx="1174.1" cy="638.4" r="3" fill="#464c98"/>
<circle cx="1186.5" cy="639.2" r="3" fill="#464c98"/>
<circle cx="1198.9" cy="640" r="3" fill="#464c98"/>
<circle cx="1211.3" cy="640.8" r="3" fill="#464c98"/>
<circle cx="969" cy="620.1" r="2.9" fill="url(#gIS)"/>
<circle cx="981.4" cy="620.9" r="2.9" fill="url(#gIS)"/>
<circle cx="993.8" cy="621.7" r="2.9" fill="url(#gIS)"/>
<circle cx="1006.2" cy="622.5" r="2.9" fill="url(#gIS)"/>
<circle cx="1018.6" cy="623.4" r="2.9" fill="url(#gIS)"/>
<circle cx="1031.1" cy="624.2" r="2.9" fill="url(#gIS)"/>
<circle cx="1043.5" cy="625" r="2.9" fill="url(#gIS)"/>
<circle cx="1055.9" cy="625.8" r="2.9" fill="url(#gIS)"/>
<circle cx="1068.3" cy="626.7" r="2.9" fill="url(#gIS)"/>
<circle cx="1080.8" cy="627.5" r="2.9" fill="url(#gIS)"/>
<circle cx="1093.2" cy="628.3" r="2.9" fill="url(#gIS)"/>
<circle cx="1105.6" cy="629.1" r="2.9" fill="url(#gIS)"/>
<circle cx="1118" cy="629.9" r="2.9" fill="url(#gIS)"/>
<circle cx="1130.5" cy="630.8" r="2.9" fill="url(#gIS)"/>
<circle cx="1142.9" cy="631.6" r="2.9" fill="url(#gIS)"/>
<circle cx="1155.3" cy="632.4" r="2.9" fill="url(#gIS)"/>
<circle cx="1167.7" cy="633.2" r="2.9" fill="url(#gIS)"/>
<circle cx="1180.1" cy="634.1" r="2.9" fill="url(#gIS)"/>
<circle cx="1192.6" cy="634.9" r="2.9" fill="url(#gIS)"/>
<circle cx="1205" cy="635.7" r="2.9" fill="url(#gIS)"/>
<circle cx="962.7" cy="627.5" r="3.1" fill="#464c98"/>
<circle cx="975.5" cy="628.4" r="3.1" fill="#464c98"/>
<circle cx="988.3" cy="629.3" r="3.1" fill="#464c98"/>
<circle cx="1001.1" cy="630.1" r="3.1" fill="#464c98"/>
<circle cx="1013.8" cy="631" r="3.1" fill="#464c98"/>
<circle cx="1026.6" cy="631.9" r="3.1" fill="#464c98"/>
<circle cx="1039.4" cy="632.7" r="3.1" fill="#464c98"/>
<circle cx="1052.2" cy="633.6" r="3.1" fill="#464c98"/>
<circle cx="1065" cy="634.5" r="3.1" fill="#464c98"/>
<circle cx="1077.8" cy="635.3" r="3.1" fill="#464c98"/>
<circle cx="1090.5" cy="636.2" r="3.1" fill="#464c98"/>
<circle cx="1103.3" cy="637.1" r="3.1" fill="#464c98"/>
<circle cx="1116.1" cy="638" r="3.1" fill="#464c98"/>
<circle cx="1128.9" cy="638.8" r="3.1" fill="#464c98"/>
<circle cx="1141.7" cy="639.7" r="3.1" fill="#464c98"/>
<circle cx="1154.4" cy="640.6" r="3.1" fill="#464c98"/>
<circle cx="1167.2" cy="641.4" r="3.1" fill="#464c98"/>
<circle cx="1180" cy="642.3" r="3.1" fill="#464c98"/>
<circle cx="1192.8" cy="643.2" r="3.1" fill="#464c98"/>
<circle cx="1205.6" cy="644" r="3.1" fill="#464c98"/>
<circle cx="1218.4" cy="644.9" r="3.1" fill="#464c98"/>
<circle cx="956.2" cy="622.2" r="3" fill="url(#gIS)"/>
<circle cx="968.9" cy="623.1" r="3" fill="url(#gIS)"/>
<circle cx="981.7" cy="624" r="3" fill="url(#gIS)"/>
<circle cx="994.5" cy="624.8" r="3" fill="url(#gIS)"/>
<circle cx="1007.3" cy="625.7" r="3" fill="url(#gIS)"/>
<circle cx="1020.1" cy="626.6" r="3" fill="url(#gIS)"/>
<circle cx="1032.8" cy="627.5" r="3" fill="url(#gIS)"/>
<circle cx="1045.6" cy="628.3" r="3" fill="url(#gIS)"/>
<circle cx="1058.4" cy="629.2" r="3" fill="url(#gIS)"/>
<circle cx="1071.2" cy="630.1" r="3" fill="url(#gIS)"/>
<circle cx="1084" cy="630.9" r="3" fill="url(#gIS)"/>
<circle cx="1096.8" cy="631.8" r="3" fill="url(#gIS)"/>
<circle cx="1109.5" cy="632.7" r="3" fill="url(#gIS)"/>
<circle cx="1122.3" cy="633.5" r="3" fill="url(#gIS)"/>
<circle cx="1135.1" cy="634.4" r="3" fill="url(#gIS)"/>
<circle cx="1147.9" cy="635.3" r="3" fill="url(#gIS)"/>
<circle cx="1160.7" cy="636.1" r="3" fill="url(#gIS)"/>
<circle cx="1173.5" cy="637" r="3" fill="url(#gIS)"/>
<circle cx="1186.2" cy="637.9" r="3" fill="url(#gIS)"/>
<circle cx="1199" cy="638.7" r="3" fill="url(#gIS)"/>
<circle cx="1211.8" cy="639.6" r="3" fill="url(#gIS)"/>
<circle cx="962.7" cy="630.8" r="3.2" fill="#464c98"/>
<circle cx="975.9" cy="631.7" r="3.2" fill="#464c98"/>
<circle cx="989" cy="632.6" r="3.2" fill="#464c98"/>
<circle cx="1002.2" cy="633.5" r="3.2" fill="#464c98"/>
<circle cx="1015.3" cy="634.4" r="3.2" fill="#464c98"/>
<circle cx="1028.5" cy="635.4" r="3.2" fill="#464c98"/>
<circle cx="1041.6" cy="636.3" r="3.2" fill="#464c98"/>
<circle cx="1054.8" cy="637.2" r="3.2" fill="#464c98"/>
<circle cx="1067.9" cy="638.1" r="3.2" fill="#464c98"/>
<circle cx="1081.1" cy="639" r="3.2" fill="#464c98"/>
<circle cx="1094.2" cy="639.9" r="3.2" fill="#464c98"/>
<circle cx="1107.4" cy="640.9" r="3.2" fill="#464c98"/>
<circle cx="1120.6" cy="641.8" r="3.2" fill="#464c98"/>
<circle cx="1133.7" cy="642.7" r="3.2" fill="#464c98"/>
<circle cx="1146.9" cy="643.6" r="3.2" fill="#464c98"/>
<circle cx="1160" cy="644.5" r="3.2" fill="#464c98"/>
<circle cx="1173.2" cy="645.4" r="3.2" fill="#464c98"/>
<circle cx="1186.3" cy="646.4" r="3.2" fill="#464c98"/>
<circle cx="1199.5" cy="647.3" r="3.2" fill="#464c98"/>
<circle cx="1212.6" cy="648.2" r="3.2" fill="#464c98"/>
<circle cx="956" cy="625.3" r="3.1" fill="url(#gIS)"/>
<circle cx="969.1" cy="626.3" r="3.1" fill="url(#gIS)"/>
<circle cx="982.3" cy="627.2" r="3.1" fill="url(#gIS)"/>
<circle cx="995.4" cy="628.1" r="3.1" fill="url(#gIS)"/>
<circle cx="1008.6" cy="629" r="3.1" fill="url(#gIS)"/>
<circle cx="1021.7" cy="629.9" r="3.1" fill="url(#gIS)"/>
<circle cx="1034.9" cy="630.8" r="3.1" fill="url(#gIS)"/>
<circle cx="1048" cy="631.7" r="3.1" fill="url(#gIS)"/>
<circle cx="1061.2" cy="632.7" r="3.1" fill="url(#gIS)"/>
<circle cx="1074.3" cy="633.6" r="3.1" fill="url(#gIS)"/>
<circle cx="1087.5" cy="634.5" r="3.1" fill="url(#gIS)"/>
<circle cx="1100.6" cy="635.4" r="3.1" fill="url(#gIS)"/>
<circle cx="1113.8" cy="636.3" r="3.1" fill="url(#gIS)"/>
<circle cx="1126.9" cy="637.2" r="3.1" fill="url(#gIS)"/>
<circle cx="1140.1" cy="638.2" r="3.1" fill="url(#gIS)"/>
<circle cx="1153.2" cy="639.1" r="3.1" fill="url(#gIS)"/>
<circle cx="1166.4" cy="640" r="3.1" fill="url(#gIS)"/>
<circle cx="1179.5" cy="640.9" r="3.1" fill="url(#gIS)"/>
<circle cx="1192.7" cy="641.8" r="3.1" fill="url(#gIS)"/>
<circle cx="1205.9" cy="642.7" r="3.1" fill="url(#gIS)"/>
<circle cx="949.5" cy="633.2" r="3.3" fill="#464c98"/>
<circle cx="963" cy="634.2" r="3.3" fill="#464c98"/>
<circle cx="976.5" cy="635.1" r="3.3" fill="#464c98"/>
<circle cx="990" cy="636.1" r="3.3" fill="#464c98"/>
<circle cx="1003.6" cy="637.1" r="3.3" fill="#464c98"/>
<circle cx="1017.1" cy="638" r="3.3" fill="#464c98"/>
<circle cx="1030.6" cy="639" r="3.3" fill="#464c98"/>
<circle cx="1044.2" cy="639.9" r="3.3" fill="#464c98"/>
<circle cx="1057.7" cy="640.9" r="3.3" fill="#464c98"/>
<circle cx="1071.2" cy="641.9" r="3.3" fill="#464c98"/>
<circle cx="1084.7" cy="642.8" r="3.3" fill="#464c98"/>
<circle cx="1098.3" cy="643.8" r="3.3" fill="#464c98"/>
<circle cx="1111.8" cy="644.8" r="3.3" fill="#464c98"/>
<circle cx="1125.3" cy="645.7" r="3.3" fill="#464c98"/>
<circle cx="1138.8" cy="646.7" r="3.3" fill="#464c98"/>
<circle cx="1152.4" cy="647.7" r="3.3" fill="#464c98"/>
<circle cx="1165.9" cy="648.6" r="3.3" fill="#464c98"/>
<circle cx="1179.4" cy="649.6" r="3.3" fill="#464c98"/>
<circle cx="1193" cy="650.5" r="3.3" fill="#464c98"/>
<circle cx="1206.5" cy="651.5" r="3.3" fill="#464c98"/>
<circle cx="1220" cy="652.5" r="3.3" fill="#464c98"/>
<circle cx="942.5" cy="627.6" r="3.2" fill="url(#gIS)"/>
<circle cx="956" cy="628.6" r="3.2" fill="url(#gIS)"/>
<circle cx="969.6" cy="629.5" r="3.2" fill="url(#gIS)"/>
<circle cx="983.1" cy="630.5" r="3.2" fill="url(#gIS)"/>
<circle cx="996.6" cy="631.4" r="3.2" fill="url(#gIS)"/>
<circle cx="1010.1" cy="632.4" r="3.2" fill="url(#gIS)"/>
<circle cx="1023.7" cy="633.4" r="3.2" fill="url(#gIS)"/>
<circle cx="1037.2" cy="634.3" r="3.2" fill="url(#gIS)"/>
<circle cx="1050.7" cy="635.3" r="3.2" fill="url(#gIS)"/>
<circle cx="1064.3" cy="636.3" r="3.2" fill="url(#gIS)"/>
<circle cx="1077.8" cy="637.2" r="3.2" fill="url(#gIS)"/>
<circle cx="1091.3" cy="638.2" r="3.2" fill="url(#gIS)"/>
<circle cx="1104.8" cy="639.2" r="3.2" fill="url(#gIS)"/>
<circle cx="1118.4" cy="640.1" r="3.2" fill="url(#gIS)"/>
<circle cx="1131.9" cy="641.1" r="3.2" fill="url(#gIS)"/>
<circle cx="1145.4" cy="642" r="3.2" fill="url(#gIS)"/>
<circle cx="1158.9" cy="643" r="3.2" fill="url(#gIS)"/>
<circle cx="1172.5" cy="644" r="3.2" fill="url(#gIS)"/>
<circle cx="1186" cy="644.9" r="3.2" fill="url(#gIS)"/>
<circle cx="1199.5" cy="645.9" r="3.2" fill="url(#gIS)"/>
<circle cx="1213.1" cy="646.9" r="3.2" fill="url(#gIS)"/>
<circle cx="949.5" cy="636.6" r="3.3" fill="#464c98"/>
<circle cx="963.4" cy="637.7" r="3.3" fill="#464c98"/>
<circle cx="977.3" cy="638.7" r="3.3" fill="#464c98"/>
<circle cx="991.3" cy="639.7" r="3.3" fill="#464c98"/>
<circle cx="1005.2" cy="640.7" r="3.3" fill="#464c98"/>
<circle cx="1019.1" cy="641.7" r="3.3" fill="#464c98"/>
<circle cx="1033" cy="642.7" r="3.3" fill="#464c98"/>
<circle cx="1046.9" cy="643.7" r="3.3" fill="#464c98"/>
<circle cx="1060.8" cy="644.8" r="3.3" fill="#464c98"/>
<circle cx="1074.8" cy="645.8" r="3.3" fill="#464c98"/>
<circle cx="1088.7" cy="646.8" r="3.3" fill="#464c98"/>
<circle cx="1102.6" cy="647.8" r="3.3" fill="#464c98"/>
<circle cx="1116.5" cy="648.8" r="3.3" fill="#464c98"/>
<circle cx="1130.4" cy="649.8" r="3.3" fill="#464c98"/>
<circle cx="1144.3" cy="650.8" r="3.3" fill="#464c98"/>
<circle cx="1158.2" cy="651.8" r="3.3" fill="#464c98"/>
<circle cx="1172.2" cy="652.9" r="3.3" fill="#464c98"/>
<circle cx="1186.1" cy="653.9" r="3.3" fill="#464c98"/>
<circle cx="1200" cy="654.9" r="3.3" fill="#464c98"/>
<circle cx="1213.9" cy="655.9" r="3.3" fill="#464c98"/>
<circle cx="942.4" cy="630.9" r="3.3" fill="url(#gIS)"/>
<circle cx="956.3" cy="631.9" r="3.3" fill="url(#gIS)"/>
<circle cx="970.2" cy="632.9" r="3.3" fill="url(#gIS)"/>
<circle cx="984.1" cy="633.9" r="3.3" fill="url(#gIS)"/>
<circle cx="998" cy="634.9" r="3.3" fill="url(#gIS)"/>
<circle cx="1011.9" cy="635.9" r="3.3" fill="url(#gIS)"/>
<circle cx="1025.8" cy="637" r="3.3" fill="url(#gIS)"/>
<circle cx="1039.8" cy="638" r="3.3" fill="url(#gIS)"/>
<circle cx="1053.7" cy="639" r="3.3" fill="url(#gIS)"/>
<circle cx="1067.6" cy="640" r="3.3" fill="url(#gIS)"/>
<circle cx="1081.5" cy="641" r="3.3" fill="url(#gIS)"/>
<circle cx="1095.4" cy="642" r="3.3" fill="url(#gIS)"/>
<circle cx="1109.3" cy="643" r="3.3" fill="url(#gIS)"/>
<circle cx="1123.3" cy="644" r="3.3" fill="url(#gIS)"/>
<circle cx="1137.2" cy="645.1" r="3.3" fill="url(#gIS)"/>
<circle cx="1151.1" cy="646.1" r="3.3" fill="url(#gIS)"/>
<circle cx="1165" cy="647.1" r="3.3" fill="url(#gIS)"/>
<circle cx="1178.9" cy="648.1" r="3.3" fill="url(#gIS)"/>
<circle cx="1192.8" cy="649.1" r="3.3" fill="url(#gIS)"/>
<circle cx="1206.8" cy="650.1" r="3.3" fill="url(#gIS)"/>
<circle cx="935.4" cy="639.2" r="3.4" fill="#464c98"/>
<circle cx="949.7" cy="640.2" r="3.4" fill="#464c98"/>
<circle cx="964.1" cy="641.3" r="3.4" fill="#464c98"/>
<circle cx="978.4" cy="642.4" r="3.4" fill="#464c98"/>
<circle cx="992.7" cy="643.4" r="3.4" fill="#464c98"/>
<circle cx="1007" cy="644.5" r="3.4" fill="#464c98"/>
<circle cx="1021.3" cy="645.6" r="3.4" fill="#464c98"/>
<circle cx="1035.6" cy="646.6" r="3.4" fill="#464c98"/>
<circle cx="1049.9" cy="647.7" r="3.4" fill="#464c98"/>
<circle cx="1064.3" cy="648.7" r="3.4" fill="#464c98"/>
<circle cx="1078.6" cy="649.8" r="3.4" fill="#464c98"/>
<circle cx="1092.9" cy="650.9" r="3.4" fill="#464c98"/>
<circle cx="1107.2" cy="651.9" r="3.4" fill="#464c98"/>
<circle cx="1121.5" cy="653" r="3.4" fill="#464c98"/>
<circle cx="1135.8" cy="654.1" r="3.4" fill="#464c98"/>
<circle cx="1150.2" cy="655.1" r="3.4" fill="#464c98"/>
<circle cx="1164.5" cy="656.2" r="3.4" fill="#464c98"/>
<circle cx="1178.8" cy="657.3" r="3.4" fill="#464c98"/>
<circle cx="1193.1" cy="658.3" r="3.4" fill="#464c98"/>
<circle cx="1207.4" cy="659.4" r="3.4" fill="#464c98"/>
<circle cx="1221.7" cy="660.5" r="3.4" fill="#464c98"/>
<circle cx="928.1" cy="633.2" r="3.4" fill="url(#gIS)"/>
<circle cx="942.4" cy="634.3" r="3.4" fill="url(#gIS)"/>
<circle cx="956.7" cy="635.4" r="3.4" fill="url(#gIS)"/>
<circle cx="971" cy="636.4" r="3.4" fill="url(#gIS)"/>
<circle cx="985.3" cy="637.5" r="3.4" fill="url(#gIS)"/>
<circle cx="999.6" cy="638.6" r="3.4" fill="url(#gIS)"/>
<circle cx="1014" cy="639.6" r="3.4" fill="url(#gIS)"/>
<circle cx="1028.3" cy="640.7" r="3.4" fill="url(#gIS)"/>
<circle cx="1042.6" cy="641.8" r="3.4" fill="url(#gIS)"/>
<circle cx="1056.9" cy="642.8" r="3.4" fill="url(#gIS)"/>
<circle cx="1071.2" cy="643.9" r="3.4" fill="url(#gIS)"/>
<circle cx="1085.5" cy="644.9" r="3.4" fill="url(#gIS)"/>
<circle cx="1099.9" cy="646" r="3.4" fill="url(#gIS)"/>
<circle cx="1114.2" cy="647.1" r="3.4" fill="url(#gIS)"/>
<circle cx="1128.5" cy="648.1" r="3.4" fill="url(#gIS)"/>
<circle cx="1142.8" cy="649.2" r="3.4" fill="url(#gIS)"/>
<circle cx="1157.1" cy="650.3" r="3.4" fill="url(#gIS)"/>
<circle cx="1171.4" cy="651.3" r="3.4" fill="url(#gIS)"/>
<circle cx="1185.8" cy="652.4" r="3.4" fill="url(#gIS)"/>
<circle cx="1200.1" cy="653.5" r="3.4" fill="url(#gIS)"/>
<circle cx="1214.4" cy="654.5" r="3.4" fill="url(#gIS)"/>
<circle cx="935.4" cy="642.9" r="3.5" fill="#464c98"/>
<circle cx="950.1" cy="644" r="3.5" fill="#464c98"/>
<circle cx="964.8" cy="645.1" r="3.5" fill="#464c98"/>
<circle cx="979.6" cy="646.2" r="3.5" fill="#464c98"/>
<circle cx="994.3" cy="647.3" r="3.5" fill="#464c98"/>
<circle cx="1009" cy="648.5" r="3.5" fill="#464c98"/>
<circle cx="1023.8" cy="649.6" r="3.5" fill="#464c98"/>
<circle cx="1038.5" cy="650.7" r="3.5" fill="#464c98"/>
<circle cx="1053.2" cy="651.8" r="3.5" fill="#464c98"/>
<circle cx="1068" cy="652.9" r="3.5" fill="#464c98"/>
<circle cx="1082.7" cy="654" r="3.5" fill="#464c98"/>
<circle cx="1097.4" cy="655.2" r="3.5" fill="#464c98"/>
<circle cx="1112.2" cy="656.3" r="3.5" fill="#464c98"/>
<circle cx="1126.9" cy="657.4" r="3.5" fill="#464c98"/>
<circle cx="1141.6" cy="658.5" r="3.5" fill="#464c98"/>
<circle cx="1156.3" cy="659.6" r="3.5" fill="#464c98"/>
<circle cx="1171.1" cy="660.7" r="3.5" fill="#464c98"/>
<circle cx="1185.8" cy="661.9" r="3.5" fill="#464c98"/>
<circle cx="1200.5" cy="663" r="3.5" fill="#464c98"/>
<circle cx="1215.3" cy="664.1" r="3.5" fill="#464c98"/>
<circle cx="927.8" cy="636.8" r="3.4" fill="url(#gIS)"/>
<circle cx="942.6" cy="637.9" r="3.4" fill="url(#gIS)"/>
<circle cx="957.3" cy="639" r="3.4" fill="url(#gIS)"/>
<circle cx="972" cy="640.1" r="3.4" fill="url(#gIS)"/>
<circle cx="986.8" cy="641.2" r="3.4" fill="url(#gIS)"/>
<circle cx="1001.5" cy="642.4" r="3.4" fill="url(#gIS)"/>
<circle cx="1016.2" cy="643.5" r="3.4" fill="url(#gIS)"/>
<circle cx="1030.9" cy="644.6" r="3.4" fill="url(#gIS)"/>
<circle cx="1045.7" cy="645.7" r="3.4" fill="url(#gIS)"/>
<circle cx="1060.4" cy="646.8" r="3.4" fill="url(#gIS)"/>
<circle cx="1075.1" cy="647.9" r="3.4" fill="url(#gIS)"/>
<circle cx="1089.9" cy="649.1" r="3.4" fill="url(#gIS)"/>
<circle cx="1104.6" cy="650.2" r="3.4" fill="url(#gIS)"/>
<circle cx="1119.3" cy="651.3" r="3.4" fill="url(#gIS)"/>
<circle cx="1134.1" cy="652.4" r="3.4" fill="url(#gIS)"/>
<circle cx="1148.8" cy="653.5" r="3.4" fill="url(#gIS)"/>
<circle cx="1163.5" cy="654.6" r="3.4" fill="url(#gIS)"/>
<circle cx="1178.3" cy="655.8" r="3.4" fill="url(#gIS)"/>
<circle cx="1193" cy="656.9" r="3.4" fill="url(#gIS)"/>
<circle cx="1207.7" cy="658" r="3.4" fill="url(#gIS)"/>
<circle cx="920.3" cy="645.6" r="3.6" fill="#464c98"/>
<circle cx="935.4" cy="646.8" r="3.6" fill="#464c98"/>
<circle cx="950.6" cy="647.9" r="3.6" fill="#464c98"/>
<circle cx="965.8" cy="649.1" r="3.6" fill="#464c98"/>
<circle cx="980.9" cy="650.3" r="3.6" fill="#464c98"/>
<circle cx="996.1" cy="651.4" r="3.6" fill="#464c98"/>
<circle cx="1011.3" cy="652.6" r="3.6" fill="#464c98"/>
<circle cx="1026.4" cy="653.8" r="3.6" fill="#464c98"/>
<circle cx="1041.6" cy="655" r="3.6" fill="#464c98"/>
<circle cx="1056.8" cy="656.1" r="3.6" fill="#464c98"/>
<circle cx="1071.9" cy="657.3" r="3.6" fill="#464c98"/>
<circle cx="1087.1" cy="658.5" r="3.6" fill="#464c98"/>
<circle cx="1102.2" cy="659.7" r="3.6" fill="#464c98"/>
<circle cx="1117.4" cy="660.8" r="3.6" fill="#464c98"/>
<circle cx="1132.6" cy="662" r="3.6" fill="#464c98"/>
<circle cx="1147.7" cy="663.2" r="3.6" fill="#464c98"/>
<circle cx="1162.9" cy="664.3" r="3.6" fill="#464c98"/>
<circle cx="1178.1" cy="665.5" r="3.6" fill="#464c98"/>
<circle cx="1193.2" cy="666.7" r="3.6" fill="#464c98"/>
<circle cx="1208.4" cy="667.9" r="3.6" fill="#464c98"/>
<circle cx="1223.6" cy="669" r="3.6" fill="#464c98"/>
<circle cx="912.5" cy="639.3" r="3.5" fill="url(#gIS)"/>
<circle cx="927.7" cy="640.5" r="3.5" fill="url(#gIS)"/>
<circle cx="942.8" cy="641.7" r="3.5" fill="url(#gIS)"/>
<circle cx="958" cy="642.9" r="3.5" fill="url(#gIS)"/>
<circle cx="973.2" cy="644" r="3.5" fill="url(#gIS)"/>
<circle cx="988.3" cy="645.2" r="3.5" fill="url(#gIS)"/>
<circle cx="1003.5" cy="646.4" r="3.5" fill="url(#gIS)"/>
<circle cx="1018.7" cy="647.5" r="3.5" fill="url(#gIS)"/>
<circle cx="1033.8" cy="648.7" r="3.5" fill="url(#gIS)"/>
<circle cx="1049" cy="649.9" r="3.5" fill="url(#gIS)"/>
<circle cx="1064.2" cy="651.1" r="3.5" fill="url(#gIS)"/>
<circle cx="1079.3" cy="652.2" r="3.5" fill="url(#gIS)"/>
<circle cx="1094.5" cy="653.4" r="3.5" fill="url(#gIS)"/>
<circle cx="1109.7" cy="654.6" r="3.5" fill="url(#gIS)"/>
<circle cx="1124.8" cy="655.7" r="3.5" fill="url(#gIS)"/>
<circle cx="1140" cy="656.9" r="3.5" fill="url(#gIS)"/>
<circle cx="1155.2" cy="658.1" r="3.5" fill="url(#gIS)"/>
<circle cx="1170.3" cy="659.3" r="3.5" fill="url(#gIS)"/>
<circle cx="1185.5" cy="660.4" r="3.5" fill="url(#gIS)"/>
<circle cx="1200.6" cy="661.6" r="3.5" fill="url(#gIS)"/>
<circle cx="1215.8" cy="662.8" r="3.5" fill="url(#gIS)"/>
<circle cx="919.9" cy="649.7" r="3.7" fill="#464c98"/>
<circle cx="935.5" cy="650.9" r="3.7" fill="#464c98"/>
<circle cx="951.1" cy="652.1" r="3.7" fill="#464c98"/>
<circle cx="966.7" cy="653.4" r="3.7" fill="#464c98"/>
<circle cx="982.4" cy="654.6" r="3.7" fill="#464c98"/>
<circle cx="998" cy="655.8" r="3.7" fill="#464c98"/>
<circle cx="1013.6" cy="657" r="3.7" fill="#464c98"/>
<circle cx="1029.2" cy="658.3" r="3.7" fill="#464c98"/>
<circle cx="1044.9" cy="659.5" r="3.7" fill="#464c98"/>
<circle cx="1060.5" cy="660.7" r="3.7" fill="#464c98"/>
<circle cx="1076.1" cy="662" r="3.7" fill="#464c98"/>
<circle cx="1091.7" cy="663.2" r="3.7" fill="#464c98"/>
<circle cx="1107.4" cy="664.4" r="3.7" fill="#464c98"/>
<circle cx="1123" cy="665.7" r="3.7" fill="#464c98"/>
<circle cx="1138.6" cy="666.9" r="3.7" fill="#464c98"/>
<circle cx="1154.2" cy="668.1" r="3.7" fill="#464c98"/>
<circle cx="1169.9" cy="669.3" r="3.7" fill="#464c98"/>
<circle cx="1185.5" cy="670.6" r="3.7" fill="#464c98"/>
<circle cx="1201.1" cy="671.8" r="3.7" fill="#464c98"/>
<circle cx="1216.7" cy="673" r="3.7" fill="#464c98"/>
<circle cx="911.9" cy="643.2" r="3.6" fill="url(#gIS)"/>
<circle cx="927.5" cy="644.5" r="3.6" fill="url(#gIS)"/>
<circle cx="943.2" cy="645.7" r="3.6" fill="url(#gIS)"/>
<circle cx="958.8" cy="646.9" r="3.6" fill="url(#gIS)"/>
<circle cx="974.4" cy="648.2" r="3.6" fill="url(#gIS)"/>
<circle cx="990" cy="649.4" r="3.6" fill="url(#gIS)"/>
<circle cx="1005.7" cy="650.6" r="3.6" fill="url(#gIS)"/>
<circle cx="1021.3" cy="651.9" r="3.6" fill="url(#gIS)"/>
<circle cx="1036.9" cy="653.1" r="3.6" fill="url(#gIS)"/>
<circle cx="1052.5" cy="654.3" r="3.6" fill="url(#gIS)"/>
<circle cx="1068.2" cy="655.5" r="3.6" fill="url(#gIS)"/>
<circle cx="1083.8" cy="656.8" r="3.6" fill="url(#gIS)"/>
<circle cx="1099.4" cy="658" r="3.6" fill="url(#gIS)"/>
<circle cx="1115" cy="659.2" r="3.6" fill="url(#gIS)"/>
<circle cx="1130.7" cy="660.5" r="3.6" fill="url(#gIS)"/>
<circle cx="1146.3" cy="661.7" r="3.6" fill="url(#gIS)"/>
<circle cx="1161.9" cy="662.9" r="3.6" fill="url(#gIS)"/>
<circle cx="1177.5" cy="664.2" r="3.6" fill="url(#gIS)"/>
<circle cx="1193.2" cy="665.4" r="3.6" fill="url(#gIS)"/>
<circle cx="1208.8" cy="666.6" r="3.6" fill="url(#gIS)"/>
<circle cx="903.2" cy="652.8" r="3.8" fill="#464c98"/>
<circle cx="919.3" cy="654" r="3.8" fill="#464c98"/>
<circle cx="935.4" cy="655.3" r="3.8" fill="#464c98"/>
<circle cx="951.6" cy="656.6" r="3.8" fill="#464c98"/>
<circle cx="967.7" cy="657.9" r="3.8" fill="#464c98"/>
<circle cx="983.8" cy="659.2" r="3.8" fill="#464c98"/>
<circle cx="999.9" cy="660.5" r="3.8" fill="#464c98"/>
<circle cx="1016" cy="661.8" r="3.8" fill="#464c98"/>
<circle cx="1032.1" cy="663.1" r="3.8" fill="#464c98"/>
<circle cx="1048.3" cy="664.4" r="3.8" fill="#464c98"/>
<circle cx="1064.4" cy="665.7" r="3.8" fill="#464c98"/>
<circle cx="1080.5" cy="667" r="3.8" fill="#464c98"/>
<circle cx="1096.6" cy="668.3" r="3.8" fill="#464c98"/>
<circle cx="1112.7" cy="669.6" r="3.8" fill="#464c98"/>
<circle cx="1128.9" cy="670.9" r="3.8" fill="#464c98"/>
<circle cx="1145" cy="672.2" r="3.8" fill="#464c98"/>
<circle cx="1161.1" cy="673.4" r="3.8" fill="#464c98"/>
<circle cx="1177.2" cy="674.7" r="3.8" fill="#464c98"/>
<circle cx="1193.3" cy="676" r="3.8" fill="#464c98"/>
<circle cx="1209.5" cy="677.3" r="3.8" fill="#464c98"/>
<circle cx="1225.6" cy="678.6" r="3.8" fill="#464c98"/>
<circle cx="895" cy="646.2" r="3.7" fill="url(#gIS)"/>
<circle cx="911.2" cy="647.5" r="3.7" fill="url(#gIS)"/>
<circle cx="927.3" cy="648.8" r="3.7" fill="url(#gIS)"/>
<circle cx="943.4" cy="650.1" r="3.7" fill="url(#gIS)"/>
<circle cx="959.5" cy="651.4" r="3.7" fill="url(#gIS)"/>
<circle cx="975.6" cy="652.6" r="3.7" fill="url(#gIS)"/>
<circle cx="991.8" cy="653.9" r="3.7" fill="url(#gIS)"/>
<circle cx="1007.9" cy="655.2" r="3.7" fill="url(#gIS)"/>
<circle cx="1024" cy="656.5" r="3.7" fill="url(#gIS)"/>
<circle cx="1040.1" cy="657.8" r="3.7" fill="url(#gIS)"/>
<circle cx="1056.2" cy="659.1" r="3.7" fill="url(#gIS)"/>
<circle cx="1072.4" cy="660.4" r="3.7" fill="url(#gIS)"/>
<circle cx="1088.5" cy="661.7" r="3.7" fill="url(#gIS)"/>
<circle cx="1104.6" cy="663" r="3.7" fill="url(#gIS)"/>
<circle cx="1120.7" cy="664.3" r="3.7" fill="url(#gIS)"/>
<circle cx="1136.8" cy="665.6" r="3.7" fill="url(#gIS)"/>
<circle cx="1152.9" cy="666.9" r="3.7" fill="url(#gIS)"/>
<circle cx="1169.1" cy="668.2" r="3.7" fill="url(#gIS)"/>
<circle cx="1185.2" cy="669.5" r="3.7" fill="url(#gIS)"/>
<circle cx="1201.3" cy="670.7" r="3.7" fill="url(#gIS)"/>
<circle cx="1217.4" cy="672" r="3.7" fill="url(#gIS)"/>
<circle cx="893.2" cy="663" r="3.1" fill="#d2d010"/>
<circle cx="909.9" cy="664.3" r="3.1" fill="#d2d010"/>
<circle cx="926.6" cy="665.7" r="3.1" fill="#d2d010"/>
<circle cx="943.2" cy="667.1" r="3.1" fill="#d2d010"/>
<circle cx="959.9" cy="668.4" r="3.1" fill="#d2d010"/>
<circle cx="976.6" cy="669.8" r="3.1" fill="#d2d010"/>
<circle cx="993.3" cy="671.2" r="3.1" fill="#d2d010"/>
<circle cx="1009.9" cy="672.5" r="3.1" fill="#d2d010"/>
<circle cx="1026.6" cy="673.9" r="3.1" fill="#d2d010"/>
<circle cx="1043.3" cy="675.2" r="3.1" fill="#d2d010"/>
<circle cx="1059.9" cy="676.6" r="3.1" fill="#d2d010"/>
<circle cx="1076.6" cy="678" r="3.1" fill="#d2d010"/>
<circle cx="1093.3" cy="679.3" r="3.1" fill="#d2d010"/>
<circle cx="1110" cy="680.7" r="3.1" fill="#d2d010"/>
<circle cx="1126.6" cy="682.1" r="3.1" fill="#d2d010"/>
<circle cx="1143.3" cy="683.4" r="3.1" fill="#d2d010"/>
<circle cx="1160" cy="684.8" r="3.1" fill="#d2d010"/>
<circle cx="1176.7" cy="686.2" r="3.1" fill="#d2d010"/>
<circle cx="1193.3" cy="687.5" r="3.1" fill="#d2d010"/>
<circle cx="1210" cy="688.9" r="3.1" fill="#d2d010"/>
<circle cx="901.6" cy="657.6" r="4.8" fill="#464c98"/>
<circle cx="918.2" cy="658.9" r="4.8" fill="#464c98"/>
<circle cx="934.9" cy="660.3" r="4.8" fill="#464c98"/>
<circle cx="951.6" cy="661.7" r="4.8" fill="#464c98"/>
<circle cx="968.3" cy="663" r="4.8" fill="#464c98"/>
<circle cx="984.9" cy="664.4" r="4.8" fill="#464c98"/>
<circle cx="1001.6" cy="665.8" r="4.8" fill="#464c98"/>
<circle cx="1018.3" cy="667.1" r="4.8" fill="#464c98"/>
<circle cx="1035" cy="668.5" r="4.8" fill="#464c98"/>
<circle cx="1051.6" cy="669.9" r="4.8" fill="#464c98"/>
<circle cx="1068.3" cy="671.2" r="4.8" fill="#464c98"/>
<circle cx="1085" cy="672.6" r="4.8" fill="#464c98"/>
<circle cx="1101.6" cy="673.9" r="4.8" fill="#464c98"/>
<circle cx="1118.3" cy="675.3" r="4.8" fill="#464c98"/>
<circle cx="1135" cy="676.7" r="4.8" fill="#464c98"/>
<circle cx="1151.7" cy="678" r="4.8" fill="#464c98"/>
<circle cx="1168.3" cy="679.4" r="4.8" fill="#464c98"/>
<circle cx="1185" cy="680.8" r="4.8" fill="#464c98"/>
<circle cx="1201.7" cy="682.1" r="4.8" fill="#464c98"/>
<circle cx="1218.4" cy="683.5" r="4.8" fill="#464c98"/>
<circle cx="893.2" cy="650.8" r="3.8" fill="url(#gIS)"/>
<circle cx="909.9" cy="652.2" r="3.8" fill="url(#gIS)"/>
<circle cx="926.6" cy="653.6" r="3.8" fill="url(#gIS)"/>
<circle cx="943.2" cy="654.9" r="3.8" fill="url(#gIS)"/>
<circle cx="959.9" cy="656.3" r="3.8" fill="url(#gIS)"/>
<circle cx="976.6" cy="657.7" r="3.8" fill="url(#gIS)"/>
<circle cx="993.3" cy="659" r="3.8" fill="url(#gIS)"/>
<circle cx="1009.9" cy="660.4" r="3.8" fill="url(#gIS)"/>
<circle cx="1026.6" cy="661.8" r="3.8" fill="url(#gIS)"/>
<circle cx="1043.3" cy="663.1" r="3.8" fill="url(#gIS)"/>
<circle cx="1059.9" cy="664.5" r="3.8" fill="url(#gIS)"/>
<circle cx="1076.6" cy="665.8" r="3.8" fill="url(#gIS)"/>
<circle cx="1093.3" cy="667.2" r="3.8" fill="url(#gIS)"/>
<circle cx="1110" cy="668.6" r="3.8" fill="url(#gIS)"/>
<circle cx="1126.6" cy="669.9" r="3.8" fill="url(#gIS)"/>
<circle cx="1143.3" cy="671.3" r="3.8" fill="url(#gIS)"/>
<circle cx="1160" cy="672.7" r="3.8" fill="url(#gIS)"/>
<circle cx="1176.7" cy="674" r="3.8" fill="url(#gIS)"/>
<circle cx="1193.3" cy="675.4" r="3.8" fill="url(#gIS)"/>
<circle cx="1210" cy="676.8" r="3.8" fill="url(#gIS)"/>
<circle cx="870.7" cy="668.1" r="3.2" fill="#d2d010"/>
<circle cx="888.1" cy="669.6" r="3.2" fill="#d2d010"/>
<circle cx="905.6" cy="671.1" r="3.2" fill="#d2d010"/>
<circle cx="923" cy="672.5" r="3.2" fill="#d2d010"/>
<circle cx="940.5" cy="674" r="3.2" fill="#d2d010"/>
<circle cx="957.9" cy="675.4" r="3.2" fill="#d2d010"/>
<circle cx="975.4" cy="676.9" r="3.2" fill="#d2d010"/>
<circle cx="992.8" cy="678.4" r="3.2" fill="#d2d010"/>
<circle cx="1010.3" cy="679.8" r="3.2" fill="#d2d010"/>
<circle cx="1027.7" cy="681.3" r="3.2" fill="#d2d010"/>
<circle cx="1045.2" cy="682.8" r="3.2" fill="#d2d010"/>
<circle cx="1062.6" cy="684.2" r="3.2" fill="#d2d010"/>
<circle cx="1080.1" cy="685.7" r="3.2" fill="#d2d010"/>
<circle cx="1097.5" cy="687.1" r="3.2" fill="#d2d010"/>
<circle cx="1115" cy="688.6" r="3.2" fill="#d2d010"/>
<circle cx="1132.4" cy="690.1" r="3.2" fill="#d2d010"/>
<circle cx="1149.9" cy="691.5" r="3.2" fill="#d2d010"/>
<circle cx="1167.3" cy="693" r="3.2" fill="#d2d010"/>
<circle cx="1184.8" cy="694.5" r="3.2" fill="#d2d010"/>
<circle cx="1202.2" cy="695.9" r="3.2" fill="#d2d010"/>
<circle cx="1219.7" cy="697.4" r="3.2" fill="#d2d010"/>
<circle cx="879.2" cy="662.6" r="4.9" fill="#464c98"/>
<circle cx="896.7" cy="664.1" r="4.9" fill="#464c98"/>
<circle cx="914.1" cy="665.5" r="4.9" fill="#464c98"/>
<circle cx="931.6" cy="667" r="4.9" fill="#464c98"/>
<circle cx="949" cy="668.5" r="4.9" fill="#464c98"/>
<circle cx="966.5" cy="669.9" r="4.9" fill="#464c98"/>
<circle cx="983.9" cy="671.4" r="4.9" fill="#464c98"/>
<circle cx="1001.4" cy="672.9" r="4.9" fill="#464c98"/>
<circle cx="1018.8" cy="674.3" r="4.9" fill="#464c98"/>
<circle cx="1036.3" cy="675.8" r="4.9" fill="#464c98"/>
<circle cx="1053.7" cy="677.2" r="4.9" fill="#464c98"/>
<circle cx="1071.2" cy="678.7" r="4.9" fill="#464c98"/>
<circle cx="1088.6" cy="680.2" r="4.9" fill="#464c98"/>
<circle cx="1106.1" cy="681.6" r="4.9" fill="#464c98"/>
<circle cx="1123.5" cy="683.1" r="4.9" fill="#464c98"/>
<circle cx="1141" cy="684.6" r="4.9" fill="#464c98"/>
<circle cx="1158.4" cy="686" r="4.9" fill="#464c98"/>
<circle cx="1175.9" cy="687.5" r="4.9" fill="#464c98"/>
<circle cx="1193.3" cy="688.9" r="4.9" fill="#464c98"/>
<circle cx="1210.8" cy="690.4" r="4.9" fill="#464c98"/>
<circle cx="1228.2" cy="691.9" r="4.9" fill="#464c98"/>
<circle cx="870.7" cy="655.7" r="3.9" fill="url(#gIS)"/>
<circle cx="888.1" cy="657.2" r="3.9" fill="url(#gIS)"/>
<circle cx="905.6" cy="658.6" r="3.9" fill="url(#gIS)"/>
<circle cx="923" cy="660.1" r="3.9" fill="url(#gIS)"/>
<circle cx="940.5" cy="661.6" r="3.9" fill="url(#gIS)"/>
<circle cx="957.9" cy="663" r="3.9" fill="url(#gIS)"/>
<circle cx="975.4" cy="664.5" r="3.9" fill="url(#gIS)"/>
<circle cx="992.8" cy="666" r="3.9" fill="url(#gIS)"/>
<circle cx="1010.3" cy="667.4" r="3.9" fill="url(#gIS)"/>
<circle cx="1027.7" cy="668.9" r="3.9" fill="url(#gIS)"/>
<circle cx="1045.2" cy="670.3" r="3.9" fill="url(#gIS)"/>
<circle cx="1062.6" cy="671.8" r="3.9" fill="url(#gIS)"/>
<circle cx="1080.1" cy="673.3" r="3.9" fill="url(#gIS)"/>
<circle cx="1097.5" cy="674.7" r="3.9" fill="url(#gIS)"/>
<circle cx="1115" cy="676.2" r="3.9" fill="url(#gIS)"/>
<circle cx="1132.4" cy="677.7" r="3.9" fill="url(#gIS)"/>
<circle cx="1149.9" cy="679.1" r="3.9" fill="url(#gIS)"/>
<circle cx="1167.3" cy="680.6" r="3.9" fill="url(#gIS)"/>
<circle cx="1184.8" cy="682" r="3.9" fill="url(#gIS)"/>
<circle cx="1202.2" cy="683.5" r="3.9" fill="url(#gIS)"/>
<circle cx="1219.7" cy="685" r="3.9" fill="url(#gIS)"/>
<g transform="translate(1007.2,605.5) rotate(41.1)"><rect x="0" y="-3.6" width="20.1" height="7.2" rx="1.8" fill="url(#dWireD)"/><ellipse cx="0.8" cy="0" rx="2" ry="3.6" fill="#d0d0d0" stroke="#999" stroke-width="0.4"/></g>
<g transform="translate(1119,624.3) rotate(-39.8)"><rect x="0" y="-3.6" width="21.5" height="7.2" rx="1.8" fill="url(#dWireD)"/><ellipse cx="0.8" cy="0" rx="2" ry="3.6" fill="#d0d0d0" stroke="#999" stroke-width="0.4"/></g>
<g transform="translate(971.4,641.4) rotate(-16)"><rect x="0" y="-3.9" width="43" height="7.7" rx="1.9" fill="url(#dWireD)"/><ellipse cx="0.8" cy="0" rx="2.2" ry="3.9" fill="#d0d0d0" stroke="#999" stroke-width="0.4"/></g>
<g transform="translate(993.4,617.9) rotate(12.5)"><rect x="0" y="-3.3" width="50.9" height="6.6" rx="1.7" fill="url(#dWire)"/><ellipse cx="0.8" cy="0" rx="1.9" ry="3.3" fill="#d0d0d0" stroke="#999" stroke-width="0.4"/></g>
<g transform="translate(1041.7,607.4) rotate(14.1)"><rect x="0" y="-3.6" width="44.1" height="7.2" rx="1.8" fill="url(#dWire)"/><ellipse cx="0.8" cy="0" rx="2" ry="3.6" fill="#d0d0d0" stroke="#999" stroke-width="0.4"/></g>
<g transform="translate(1064.6,648.3) rotate(-80.6)"><rect x="0" y="-4.7" width="23.8" height="9.4" rx="2.3" fill="url(#dWireD)"/><ellipse cx="0.8" cy="0" rx="2.6" ry="4.7" fill="#d0d0d0" stroke="#999" stroke-width="0.4"/></g>
<g transform="translate(1098.3,633.7) rotate(18.6)"><rect x="0" y="-3.3" width="55.3" height="6.6" rx="1.7" fill="url(#dWire)"/><ellipse cx="0.8" cy="0" rx="1.9" ry="3.3" fill="#d0d0d0" stroke="#999" stroke-width="0.4"/></g>
<polygon points="879,633.1 965.9,597.8 1003.9,600 932.8,641.4" fill="#a39a50"/>
<polygon points="932.8,641.4 1003.9,600 1003.9,608.3 932.8,649.7" fill="#7e7638"/>
<polygon points="879,633.1 932.8,641.4 932.8,649.7 879.8,647.4" fill="#d8c224"/>
<polygon points="1153.4,604.1 1196.2,605.5 1218.3,652.4 1150.7,648.3" fill="#7d7a4c"/>
<polygon points="1150.7,648.3 1218.3,652.4 1218.3,665.4 1150.7,662.6" fill="#d6be22"/>
<line x1="1014.7" y1="560" x2="996.2" y2="555.9" stroke="#a04060" stroke-width="2.4"/>
<line x1="1014.7" y1="560" x2="1023.8" y2="544.3" stroke="#a04060" stroke-width="2.4"/>
<circle cx="996.2" cy="555.9" r="6.4" fill="url(#gLO)"/>
<circle cx="1023.8" cy="544.3" r="6.4" fill="url(#gLO)"/>
<circle cx="1014.7" cy="560" r="7" fill="url(#gLN)"/>
<line x1="1061" y1="571" x2="1080.3" y2="565.5" stroke="#a04060" stroke-width="2.4"/>
<line x1="1061" y1="571" x2="1060.2" y2="591.2" stroke="#a04060" stroke-width="2.4"/>
<circle cx="1080.3" cy="565.5" r="6.4" fill="url(#gLO)"/>
<circle cx="1060.2" cy="591.2" r="6.4" fill="url(#gLO)"/>
<circle cx="1061" cy="571" r="7" fill="url(#gLN)"/>
<line x1="1121.7" y1="573.8" x2="1119.8" y2="555.9" stroke="#a04060" stroke-width="2.4"/>
<line x1="1121.7" y1="573.8" x2="1138.3" y2="578.5" stroke="#a04060" stroke-width="2.4"/>
<circle cx="1119.8" cy="555.9" r="6.4" fill="url(#gLO)"/>
<circle cx="1138.3" cy="578.5" r="6.4" fill="url(#gLO)"/>
<circle cx="1121.7" cy="573.8" r="7" fill="url(#gLN)"/>
<path d="M842.3 880.5 L873.7 880.5 L873.7 866.3 L905.5 866.3 L905.5 880.5 L969 880.5 L969 852.1 L1000.7 852.1 L1000.7 880.5 L1064.2 880.5 L1064.2 823.6 L1096 823.6 L1096 880.5 L1159.5 880.5 L1159.5 766.8 L1191.2 766.8 L1191.2 880.5 L1254.7 880.5 L1254.7 596.2 L1286.5 596.2 L1286.5 880.5 L1349.2 880.5" fill="none" stroke="#1414d8" stroke-width="2.5" stroke-dasharray="5 3.6"/>
<clipPath id="dclip"><rect x="842.3" y="511.2" width="506.9" height="370.3"/></clipPath>
<path clip-path="url(#dclip)" d="M842 855.4 L842.3 855.4 L842.6 855.4 L842.9 855.4 L843.2 855.4 L843.5 855.4 L843.9 855.4 L844.2 855.4 L844.5 855.4 L844.8 855.4 L845.1 855.4 L845.4 855.4 L845.8 855.4 L846.1 855.4 L846.4 855.4 L846.7 855.4 L847 855.4 L847.3 855.4 L847.7 855.4 L848 855.4 L848.3 855.4 L848.6 855.4 L848.9 855.4 L849.3 855.4 L849.6 855.4 L849.9 855.4 L850.2 855.4 L850.5 855.4 L850.8 855.4 L851.2 855.4 L851.5 855.4 L851.8 855.4 L852.1 855.4 L852.4 855.4 L852.7 855.4 L853.1 855.4 L853.4 855.4 L853.7 855.4 L854 855.4 L854.3 855.4 L854.6 855.4 L855 855.4 L855.3 855.4 L855.6 855.4 L855.9 855.4 L856.2 855.4 L856.6 855.4 L856.9 855.4 L857.2 855.4 L857.5 855.4 L857.8 855.4 L858.1 855.4 L858.5 855.4 L858.8 855.4 L859.1 855.4 L859.4 855.4 L859.7 855.4 L860 855.4 L860.4 855.4 L860.7 855.4 L861 855.4 L861.3 855.4 L861.6 855.4 L862 855.4 L862.3 855.4 L862.6 855.4 L862.9 855.4 L863.2 855.4 L863.5 855.4 L863.9 855.4 L864.2 855.4 L864.5 855.4 L864.8 855.4 L865.1 855.4 L865.4 855.4 L865.8 855.4 L866.1 855.4 L866.4 855.4 L866.7 855.4 L867 855.4 L867.3 855.4 L867.7 855.4 L868 855.4 L868.3 855.4 L868.6 855.4 L868.9 855.4 L869.3 855.4 L869.6 855.4 L869.9 855.4 L870.2 855.4 L870.5 855.4 L870.8 855.4 L871.2 855.4 L871.5 855.4 L871.8 855.4 L872.1 855.4 L872.4 855.4 L872.7 855.4 L873.1 855.4 L873.4 855.4 L873.7 855.4 L874 854.2 L874.3 853 L874.7 851.9 L875 850.9 L875.3 850 L875.6 849.2 L875.9 848.6 L876.2 848 L876.6 847.4 L876.9 846.8 L877.2 846.3 L877.5 845.8 L877.8 845.3 L878.1 844.9 L878.5 844.5 L878.8 844.1 L879.1 843.8 L879.4 843.5 L879.7 843.2 L880 842.9 L880.4 842.6 L880.7 842.4 L881 842.1 L881.3 841.9 L881.6 841.7 L882 841.5 L882.3 841.3 L882.6 841.1 L882.9 840.9 L883.2 840.7 L883.5 840.6 L883.9 840.4 L884.2 840.2 L884.5 840 L884.8 839.9 L885.1 839.7 L885.4 839.5 L885.8 839.4 L886.1 839.2 L886.4 839 L886.7 838.9 L887 838.7 L887.4 838.5 L887.7 838.3 L888 838.2 L888.3 838 L888.6 837.9 L888.9 837.7 L889.3 837.5 L889.6 837.4 L889.9 837.2 L890.2 837.1 L890.5 836.9 L890.8 836.8 L891.2 836.6 L891.5 836.5 L891.8 836.4 L892.1 836.2 L892.4 836.1 L892.7 836 L893.1 835.9 L893.4 835.8 L893.7 835.7 L894 835.6 L894.3 835.5 L894.7 835.4 L895 835.3 L895.3 835.2 L895.6 835.1 L895.9 835 L896.2 834.9 L896.6 834.9 L896.9 834.8 L897.2 834.7 L897.5 834.6 L897.8 834.5 L898.1 834.4 L898.5 834.4 L898.8 834.3 L899.1 834.2 L899.4 834.1 L899.7 834 L900.1 833.9 L900.4 833.8 L900.7 833.8 L901 833.7 L901.3 833.6 L901.6 833.5 L902 833.4 L902.3 833.4 L902.6 833.3 L902.9 833.2 L903.2 833.1 L903.5 833 L903.9 833 L904.2 832.9 L904.5 832.8 L904.8 832.7 L905.1 832.7 L905.4 832.6 L905.8 833.2 L906.1 833.9 L906.4 834.5 L906.7 835.1 L907 835.7 L907.4 836.3 L907.7 836.8 L908 837.4 L908.3 837.8 L908.6 838.3 L908.9 838.8 L909.3 839.2 L909.6 839.6 L909.9 840 L910.2 840.3 L910.5 840.7 L910.8 841.1 L911.2 841.4 L911.5 841.7 L911.8 842 L912.1 842.3 L912.4 842.6 L912.8 842.8 L913.1 843.1 L913.4 843.3 L913.7 843.5 L914 843.8 L914.3 844 L914.7 844.2 L915 844.4 L915.3 844.6 L915.6 844.7 L915.9 844.9 L916.2 845.1 L916.6 845.3 L916.9 845.4 L917.2 845.6 L917.5 845.7 L917.8 845.9 L918.1 846 L918.5 846.2 L918.8 846.3 L919.1 846.4 L919.4 846.5 L919.7 846.7 L920.1 846.8 L920.4 846.9 L920.7 847 L921 847.1 L921.3 847.2 L921.6 847.3 L922 847.4 L922.3 847.5 L922.6 847.6 L922.9 847.7 L923.2 847.8 L923.5 847.9 L923.9 848 L924.2 848.1 L924.5 848.2 L924.8 848.3 L925.1 848.4 L925.5 848.5 L925.8 848.6 L926.1 848.7 L926.4 848.8 L926.7 848.9 L927 849 L927.4 849.1 L927.7 849.2 L928 849.2 L928.3 849.3 L928.6 849.4 L928.9 849.5 L929.3 849.6 L929.6 849.7 L929.9 849.7 L930.2 849.8 L930.5 849.9 L930.8 850 L931.2 850 L931.5 850.1 L931.8 850.2 L932.1 850.2 L932.4 850.3 L932.8 850.4 L933.1 850.4 L933.4 850.5 L933.7 850.5 L934 850.6 L934.3 850.7 L934.7 850.7 L935 850.8 L935.3 850.8 L935.6 850.9 L935.9 850.9 L936.2 851 L936.6 851.1 L936.9 851.1 L937.2 851.2 L937.5 851.2 L937.8 851.3 L938.2 851.3 L938.5 851.4 L938.8 851.4 L939.1 851.5 L939.4 851.5 L939.7 851.6 L940.1 851.6 L940.4 851.6 L940.7 851.7 L941 851.7 L941.3 851.8 L941.6 851.8 L942 851.9 L942.3 851.9 L942.6 852 L942.9 852 L943.2 852 L943.5 852.1 L943.9 852.1 L944.2 852.2 L944.5 852.2 L944.8 852.2 L945.1 852.3 L945.5 852.3 L945.8 852.4 L946.1 852.4 L946.4 852.4 L946.7 852.5 L947 852.5 L947.4 852.6 L947.7 852.6 L948 852.6 L948.3 852.7 L948.6 852.7 L948.9 852.7 L949.3 852.8 L949.6 852.8 L949.9 852.9 L950.2 852.9 L950.5 852.9 L950.9 853 L951.2 853 L951.5 853 L951.8 853.1 L952.1 853.1 L952.4 853.1 L952.8 853.2 L953.1 853.2 L953.4 853.2 L953.7 853.3 L954 853.3 L954.3 853.3 L954.7 853.4 L955 853.4 L955.3 853.4 L955.6 853.5 L955.9 853.5 L956.2 853.5 L956.6 853.6 L956.9 853.6 L957.2 853.6 L957.5 853.7 L957.8 853.7 L958.2 853.7 L958.5 853.8 L958.8 853.8 L959.1 853.8 L959.4 853.9 L959.7 853.9 L960.1 853.9 L960.4 853.9 L960.7 854 L961 854 L961.3 854 L961.6 854.1 L962 854.1 L962.3 854.1 L962.6 854.1 L962.9 854.2 L963.2 854.2 L963.6 854.2 L963.9 854.2 L964.2 854.3 L964.5 854.3 L964.8 854.3 L965.1 854.3 L965.5 854.4 L965.8 854.4 L966.1 854.4 L966.4 854.4 L966.7 854.5 L967 854.5 L967.4 854.5 L967.7 854.5 L968 854.5 L968.3 854.6 L968.6 854.6 L968.9 854.6 L969.3 852.9 L969.6 851.3 L969.9 849.7 L970.2 848.3 L970.5 847 L970.9 846 L971.2 845 L971.5 844.2 L971.8 843.3 L972.1 842.5 L972.4 841.8 L972.8 841.1 L973.1 840.5 L973.4 839.9 L973.7 839.3 L974 838.8 L974.3 838.3 L974.7 837.8 L975 837.4 L975.3 837 L975.6 836.7 L975.9 836.3 L976.3 836 L976.6 835.7 L976.9 835.4 L977.2 835.1 L977.5 834.8 L977.8 834.5 L978.2 834.3 L978.5 834 L978.8 833.8 L979.1 833.5 L979.4 833.3 L979.7 833 L980.1 832.8 L980.4 832.6 L980.7 832.3 L981 832.1 L981.3 831.9 L981.6 831.6 L982 831.4 L982.3 831.1 L982.6 830.9 L982.9 830.7 L983.2 830.4 L983.6 830.2 L983.9 830 L984.2 829.7 L984.5 829.5 L984.8 829.3 L985.1 829.1 L985.5 828.9 L985.8 828.7 L986.1 828.5 L986.4 828.3 L986.7 828.1 L987 827.9 L987.4 827.7 L987.7 827.5 L988 827.4 L988.3 827.2 L988.6 827.1 L989 826.9 L989.3 826.8 L989.6 826.6 L989.9 826.5 L990.2 826.4 L990.5 826.3 L990.9 826.1 L991.2 826 L991.5 825.9 L991.8 825.8 L992.1 825.6 L992.4 825.5 L992.8 825.4 L993.1 825.3 L993.4 825.2 L993.7 825.1 L994 824.9 L994.3 824.8 L994.7 824.7 L995 824.6 L995.3 824.5 L995.6 824.4 L995.9 824.2 L996.3 824.1 L996.6 824 L996.9 823.9 L997.2 823.8 L997.5 823.7 L997.8 823.6 L998.2 823.4 L998.5 823.3 L998.8 823.2 L999.1 823.1 L999.4 823 L999.7 822.9 L1000.1 822.8 L1000.4 822.7 L1000.7 822.6 L1001 823.6 L1001.3 824.5 L1001.7 825.4 L1002 826.3 L1002.3 827.2 L1002.6 828 L1002.9 828.8 L1003.2 829.6 L1003.6 830.3 L1003.9 831 L1004.2 831.7 L1004.5 832.3 L1004.8 832.9 L1005.1 833.4 L1005.5 834 L1005.8 834.5 L1006.1 835.1 L1006.4 835.5 L1006.7 836 L1007 836.5 L1007.4 836.9 L1007.7 837.3 L1008 837.7 L1008.3 838 L1008.6 838.4 L1009 838.7 L1009.3 839 L1009.6 839.3 L1009.9 839.6 L1010.2 839.9 L1010.5 840.2 L1010.9 840.5 L1011.2 840.7 L1011.5 841 L1011.8 841.2 L1012.1 841.5 L1012.4 841.7 L1012.8 841.9 L1013.1 842.1 L1013.4 842.4 L1013.7 842.6 L1014 842.8 L1014.4 842.9 L1014.7 843.1 L1015 843.3 L1015.3 843.5 L1015.6 843.7 L1015.9 843.8 L1016.3 844 L1016.6 844.1 L1016.9 844.3 L1017.2 844.4 L1017.5 844.6 L1017.8 844.7 L1018.2 844.9 L1018.5 845 L1018.8 845.2 L1019.1 845.3 L1019.4 845.5 L1019.7 845.6 L1020.1 845.7 L1020.4 845.9 L1020.7 846 L1021 846.2 L1021.3 846.3 L1021.7 846.4 L1022 846.6 L1022.3 846.7 L1022.6 846.8 L1022.9 847 L1023.2 847.1 L1023.6 847.2 L1023.9 847.4 L1024.2 847.5 L1024.5 847.6 L1024.8 847.7 L1025.1 847.8 L1025.5 848 L1025.8 848.1 L1026.1 848.2 L1026.4 848.3 L1026.7 848.4 L1027.1 848.5 L1027.4 848.6 L1027.7 848.7 L1028 848.8 L1028.3 848.8 L1028.6 848.9 L1029 849 L1029.3 849.1 L1029.6 849.2 L1029.9 849.3 L1030.2 849.4 L1030.5 849.5 L1030.9 849.5 L1031.2 849.6 L1031.5 849.7 L1031.8 849.8 L1032.1 849.9 L1032.4 849.9 L1032.8 850 L1033.1 850.1 L1033.4 850.2 L1033.7 850.2 L1034 850.3 L1034.4 850.4 L1034.7 850.4 L1035 850.5 L1035.3 850.6 L1035.6 850.6 L1035.9 850.7 L1036.3 850.8 L1036.6 850.8 L1036.9 850.9 L1037.2 851 L1037.5 851 L1037.8 851.1 L1038.2 851.2 L1038.5 851.2 L1038.8 851.3 L1039.1 851.3 L1039.4 851.4 L1039.8 851.5 L1040.1 851.5 L1040.4 851.6 L1040.7 851.6 L1041 851.7 L1041.3 851.8 L1041.7 851.8 L1042 851.9 L1042.3 851.9 L1042.6 852 L1042.9 852 L1043.2 852.1 L1043.6 852.1 L1043.9 852.2 L1044.2 852.3 L1044.5 852.3 L1044.8 852.4 L1045.1 852.4 L1045.5 852.5 L1045.8 852.5 L1046.1 852.6 L1046.4 852.6 L1046.7 852.7 L1047.1 852.7 L1047.4 852.8 L1047.7 852.8 L1048 852.9 L1048.3 853 L1048.6 853 L1049 853.1 L1049.3 853.1 L1049.6 853.2 L1049.9 853.2 L1050.2 853.3 L1050.5 853.3 L1050.9 853.4 L1051.2 853.4 L1051.5 853.4 L1051.8 853.5 L1052.1 853.5 L1052.5 853.6 L1052.8 853.6 L1053.1 853.7 L1053.4 853.7 L1053.7 853.8 L1054 853.8 L1054.4 853.9 L1054.7 853.9 L1055 854 L1055.3 854 L1055.6 854 L1055.9 854.1 L1056.3 854.1 L1056.6 854.2 L1056.9 854.2 L1057.2 854.2 L1057.5 854.3 L1057.8 854.3 L1058.2 854.4 L1058.5 854.4 L1058.8 854.4 L1059.1 854.5 L1059.4 854.5 L1059.8 854.5 L1060.1 854.6 L1060.4 854.6 L1060.7 854.7 L1061 854.7 L1061.3 854.7 L1061.7 854.8 L1062 854.8 L1062.3 854.8 L1062.6 854.9 L1062.9 854.9 L1063.2 854.9 L1063.6 854.9 L1063.9 855 L1064.2 855 L1064.5 852.2 L1064.8 849.4 L1065.2 846.8 L1065.5 844.4 L1065.8 842.2 L1066.1 840.4 L1066.4 838.8 L1066.7 837.4 L1067.1 836 L1067.4 834.6 L1067.7 833.4 L1068 832.2 L1068.3 831.1 L1068.6 830.1 L1069 829.2 L1069.3 828.3 L1069.6 827.5 L1069.9 826.7 L1070.2 826 L1070.5 825.4 L1070.9 824.7 L1071.2 824.2 L1071.5 823.6 L1071.8 823.1 L1072.1 822.5 L1072.5 822 L1072.8 821.6 L1073.1 821.1 L1073.4 820.7 L1073.7 820.2 L1074 819.8 L1074.4 819.4 L1074.7 819 L1075 818.6 L1075.3 818.2 L1075.6 817.8 L1075.9 817.4 L1076.3 817 L1076.6 816.6 L1076.9 816.2 L1077.2 815.8 L1077.5 815.4 L1077.9 815 L1078.2 814.6 L1078.5 814.2 L1078.8 813.8 L1079.1 813.4 L1079.4 813.1 L1079.8 812.7 L1080.1 812.3 L1080.4 811.9 L1080.7 811.6 L1081 811.2 L1081.3 810.9 L1081.7 810.6 L1082 810.2 L1082.3 809.9 L1082.6 809.6 L1082.9 809.4 L1083.2 809.1 L1083.6 808.8 L1083.9 808.6 L1084.2 808.3 L1084.5 808.1 L1084.8 807.8 L1085.2 807.6 L1085.5 807.4 L1085.8 807.2 L1086.1 807 L1086.4 806.7 L1086.7 806.5 L1087.1 806.3 L1087.4 806.1 L1087.7 805.9 L1088 805.7 L1088.3 805.5 L1088.6 805.4 L1089 805.2 L1089.3 805 L1089.6 804.8 L1089.9 804.6 L1090.2 804.4 L1090.6 804.2 L1090.9 804 L1091.2 803.8 L1091.5 803.6 L1091.8 803.4 L1092.1 803.2 L1092.5 803 L1092.8 802.8 L1093.1 802.6 L1093.4 802.4 L1093.7 802.2 L1094 802.1 L1094.4 801.9 L1094.7 801.7 L1095 801.5 L1095.3 801.3 L1095.6 801.1 L1095.9 801 L1096.3 802.5 L1096.6 804 L1096.9 805.4 L1097.2 806.8 L1097.5 808.2 L1097.9 809.5 L1098.2 810.8 L1098.5 812 L1098.8 813.1 L1099.1 814.2 L1099.4 815.2 L1099.8 816.2 L1100.1 817.1 L1100.4 818 L1100.7 818.9 L1101 819.7 L1101.3 820.5 L1101.7 821.3 L1102 822 L1102.3 822.7 L1102.6 823.4 L1102.9 824 L1103.3 824.6 L1103.6 825.2 L1103.9 825.7 L1104.2 826.3 L1104.5 826.8 L1104.8 827.2 L1105.2 827.7 L1105.5 828.2 L1105.8 828.6 L1106.1 829 L1106.4 829.5 L1106.7 829.8 L1107.1 830.2 L1107.4 830.6 L1107.7 831 L1108 831.3 L1108.3 831.6 L1108.6 832 L1109 832.3 L1109.3 832.6 L1109.6 832.9 L1109.9 833.2 L1110.2 833.5 L1110.6 833.7 L1110.9 834 L1111.2 834.3 L1111.5 834.5 L1111.8 834.8 L1112.1 835 L1112.5 835.2 L1112.8 835.5 L1113.1 835.7 L1113.4 835.9 L1113.7 836.2 L1114 836.4 L1114.4 836.6 L1114.7 836.8 L1115 837.1 L1115.3 837.3 L1115.6 837.5 L1116 837.7 L1116.3 837.9 L1116.6 838.2 L1116.9 838.4 L1117.2 838.6 L1117.5 838.8 L1117.9 839 L1118.2 839.2 L1118.5 839.4 L1118.8 839.6 L1119.1 839.8 L1119.4 840 L1119.8 840.2 L1120.1 840.4 L1120.4 840.6 L1120.7 840.8 L1121 840.9 L1121.3 841.1 L1121.7 841.3 L1122 841.4 L1122.3 841.6 L1122.6 841.7 L1122.9 841.9 L1123.3 842 L1123.6 842.2 L1123.9 842.3 L1124.2 842.4 L1124.5 842.6 L1124.8 842.7 L1125.2 842.8 L1125.5 843 L1125.8 843.1 L1126.1 843.2 L1126.4 843.4 L1126.7 843.5 L1127.1 843.6 L1127.4 843.7 L1127.7 843.8 L1128 844 L1128.3 844.1 L1128.7 844.2 L1129 844.3 L1129.3 844.4 L1129.6 844.5 L1129.9 844.6 L1130.2 844.8 L1130.6 844.9 L1130.9 845 L1131.2 845.1 L1131.5 845.2 L1131.8 845.3 L1132.1 845.4 L1132.5 845.5 L1132.8 845.6 L1133.1 845.7 L1133.4 845.8 L1133.7 845.9 L1134 846 L1134.4 846.1 L1134.7 846.2 L1135 846.3 L1135.3 846.4 L1135.6 846.4 L1136 846.5 L1136.3 846.6 L1136.6 846.7 L1136.9 846.8 L1137.2 846.9 L1137.5 847 L1137.9 847.1 L1138.2 847.2 L1138.5 847.2 L1138.8 847.3 L1139.1 847.4 L1139.4 847.5 L1139.8 847.6 L1140.1 847.7 L1140.4 847.8 L1140.7 847.8 L1141 847.9 L1141.4 848 L1141.7 848.1 L1142 848.2 L1142.3 848.3 L1142.6 848.3 L1142.9 848.4 L1143.3 848.5 L1143.6 848.6 L1143.9 848.7 L1144.2 848.7 L1144.5 848.8 L1144.8 848.9 L1145.2 849 L1145.5 849.1 L1145.8 849.1 L1146.1 849.2 L1146.4 849.3 L1146.7 849.4 L1147.1 849.4 L1147.4 849.5 L1147.7 849.6 L1148 849.7 L1148.3 849.7 L1148.7 849.8 L1149 849.9 L1149.3 849.9 L1149.6 850 L1149.9 850.1 L1150.2 850.2 L1150.6 850.2 L1150.9 850.3 L1151.2 850.4 L1151.5 850.4 L1151.8 850.5 L1152.1 850.6 L1152.5 850.6 L1152.8 850.7 L1153.1 850.7 L1153.4 850.8 L1153.7 850.9 L1154.1 850.9 L1154.4 851 L1154.7 851 L1155 851.1 L1155.3 851.1 L1155.6 851.2 L1156 851.3 L1156.3 851.3 L1156.6 851.4 L1156.9 851.4 L1157.2 851.5 L1157.5 851.5 L1157.9 851.6 L1158.2 851.6 L1158.5 851.7 L1158.8 851.7 L1159.1 851.8 L1159.4 851.8 L1159.8 846.7 L1160.1 841.7 L1160.4 837 L1160.7 832.6 L1161 828.8 L1161.4 825.5 L1161.7 822.7 L1162 820.1 L1162.3 817.5 L1162.6 815.2 L1162.9 812.9 L1163.3 810.8 L1163.6 808.9 L1163.9 807 L1164.2 805.3 L1164.5 803.7 L1164.8 802.2 L1165.2 800.9 L1165.5 799.6 L1165.8 798.5 L1166.1 797.3 L1166.4 796.3 L1166.8 795.3 L1167.1 794.3 L1167.4 793.4 L1167.7 792.5 L1168 791.6 L1168.3 790.8 L1168.7 790 L1169 789.2 L1169.3 788.5 L1169.6 787.8 L1169.9 787 L1170.2 786.3 L1170.6 785.6 L1170.9 784.9 L1171.2 784.2 L1171.5 783.5 L1171.8 782.8 L1172.1 782 L1172.5 781.3 L1172.8 780.5 L1173.1 779.8 L1173.4 779.1 L1173.7 778.4 L1174.1 777.7 L1174.4 777 L1174.7 776.3 L1175 775.6 L1175.3 775 L1175.6 774.3 L1176 773.7 L1176.3 773 L1176.6 772.4 L1176.9 771.8 L1177.2 771.2 L1177.5 770.7 L1177.9 770.2 L1178.2 769.6 L1178.5 769.1 L1178.8 768.7 L1179.1 768.2 L1179.5 767.8 L1179.8 767.3 L1180.1 766.9 L1180.4 766.5 L1180.7 766.1 L1181 765.7 L1181.4 765.3 L1181.7 764.9 L1182 764.6 L1182.3 764.2 L1182.6 763.8 L1182.9 763.5 L1183.3 763.1 L1183.6 762.8 L1183.9 762.4 L1184.2 762.1 L1184.5 761.7 L1184.8 761.4 L1185.2 761 L1185.5 760.6 L1185.8 760.3 L1186.1 759.9 L1186.4 759.6 L1186.8 759.2 L1187.1 758.9 L1187.4 758.5 L1187.7 758.2 L1188 757.8 L1188.3 757.5 L1188.7 757.2 L1189 756.8 L1189.3 756.5 L1189.6 756.2 L1189.9 755.8 L1190.2 755.5 L1190.6 755.2 L1190.9 754.9 L1191.2 754.5 L1191.5 757.2 L1191.8 759.9 L1192.2 762.4 L1192.5 764.9 L1192.8 767.3 L1193.1 769.7 L1193.4 771.9 L1193.7 774 L1194.1 776.1 L1194.4 778 L1194.7 779.8 L1195 781.5 L1195.3 783.1 L1195.6 784.7 L1196 786.3 L1196.3 787.8 L1196.6 789.2 L1196.9 790.6 L1197.2 791.9 L1197.5 793.1 L1197.9 794.3 L1198.2 795.4 L1198.5 796.5 L1198.8 797.5 L1199.1 798.4 L1199.5 799.3 L1199.8 800.2 L1200.1 801.1 L1200.4 801.9 L1200.7 802.7 L1201 803.5 L1201.4 804.3 L1201.7 805 L1202 805.7 L1202.3 806.4 L1202.6 807 L1202.9 807.7 L1203.3 808.3 L1203.6 808.9 L1203.9 809.5 L1204.2 810 L1204.5 810.6 L1204.9 811.1 L1205.2 811.6 L1205.5 812.1 L1205.8 812.6 L1206.1 813.1 L1206.4 813.5 L1206.8 814 L1207.1 814.4 L1207.4 814.9 L1207.7 815.3 L1208 815.7 L1208.3 816.1 L1208.7 816.5 L1209 816.9 L1209.3 817.3 L1209.6 817.7 L1209.9 818.1 L1210.2 818.5 L1210.6 818.9 L1210.9 819.3 L1211.2 819.7 L1211.5 820 L1211.8 820.4 L1212.2 820.8 L1212.5 821.2 L1212.8 821.6 L1213.1 821.9 L1213.4 822.3 L1213.7 822.7 L1214.1 823 L1214.4 823.4 L1214.7 823.7 L1215 824.1 L1215.3 824.4 L1215.6 824.7 L1216 825 L1216.3 825.3 L1216.6 825.6 L1216.9 825.9 L1217.2 826.2 L1217.6 826.5 L1217.9 826.7 L1218.2 827 L1218.5 827.3 L1218.8 827.5 L1219.1 827.8 L1219.5 828 L1219.8 828.2 L1220.1 828.5 L1220.4 828.7 L1220.7 829 L1221 829.2 L1221.4 829.4 L1221.7 829.6 L1222 829.9 L1222.3 830.1 L1222.6 830.3 L1222.9 830.5 L1223.3 830.7 L1223.6 830.9 L1223.9 831.1 L1224.2 831.3 L1224.5 831.5 L1224.9 831.7 L1225.2 831.9 L1225.5 832.1 L1225.8 832.3 L1226.1 832.5 L1226.4 832.7 L1226.8 832.9 L1227.1 833.1 L1227.4 833.2 L1227.7 833.4 L1228 833.6 L1228.3 833.8 L1228.7 833.9 L1229 834.1 L1229.3 834.3 L1229.6 834.5 L1229.9 834.6 L1230.3 834.8 L1230.6 834.9 L1230.9 835.1 L1231.2 835.3 L1231.5 835.4 L1231.8 835.6 L1232.2 835.7 L1232.5 835.9 L1232.8 836.1 L1233.1 836.2 L1233.4 836.4 L1233.7 836.5 L1234.1 836.7 L1234.4 836.8 L1234.7 837 L1235 837.1 L1235.3 837.3 L1235.6 837.4 L1236 837.6 L1236.3 837.7 L1236.6 837.9 L1236.9 838 L1237.2 838.2 L1237.6 838.3 L1237.9 838.5 L1238.2 838.6 L1238.5 838.8 L1238.8 838.9 L1239.1 839 L1239.5 839.2 L1239.8 839.3 L1240.1 839.5 L1240.4 839.6 L1240.7 839.7 L1241 839.9 L1241.4 840 L1241.7 840.2 L1242 840.3 L1242.3 840.4 L1242.6 840.5 L1243 840.7 L1243.3 840.8 L1243.6 840.9 L1243.9 841.1 L1244.2 841.2 L1244.5 841.3 L1244.9 841.4 L1245.2 841.6 L1245.5 841.7 L1245.8 841.8 L1246.1 841.9 L1246.4 842 L1246.8 842.2 L1247.1 842.3 L1247.4 842.4 L1247.7 842.5 L1248 842.6 L1248.3 842.7 L1248.7 842.8 L1249 842.9 L1249.3 843 L1249.6 843.1 L1249.9 843.2 L1250.3 843.3 L1250.6 843.4 L1250.9 843.5 L1251.2 843.6 L1251.5 843.7 L1251.8 843.8 L1252.2 843.9 L1252.5 844 L1252.8 844.1 L1253.1 844.2 L1253.4 844.3 L1253.7 844.4 L1254.1 844.4 L1254.4 844.5 L1254.7 844.6 L1255 832.7 L1255.3 820.9 L1255.7 809.7 L1256 799.2 L1256.3 789.9 L1256.6 782.1 L1256.9 776 L1257.2 771 L1257.6 766.5 L1257.9 762.3 L1258.2 758.5 L1258.5 754.9 L1258.8 751.6 L1259.1 748.5 L1259.5 745.6 L1259.8 742.9 L1260.1 740.3 L1260.4 737.9 L1260.7 735.4 L1261 733.1 L1261.4 730.7 L1261.7 728.3 L1262 725.9 L1262.3 723.7 L1262.6 721.5 L1263 719.3 L1263.3 717.3 L1263.6 715.3 L1263.9 713.3 L1264.2 711.4 L1264.5 709.5 L1264.9 707.7 L1265.2 705.9 L1265.5 704.2 L1265.8 702.4 L1266.1 700.7 L1266.4 698.9 L1266.8 697.2 L1267.1 695.5 L1267.4 693.7 L1267.7 691.9 L1268 690.1 L1268.4 688.3 L1268.7 686.6 L1269 684.8 L1269.3 683 L1269.6 681.3 L1269.9 679.5 L1270.3 677.8 L1270.6 676.1 L1270.9 674.4 L1271.2 672.7 L1271.5 671 L1271.8 669.3 L1272.2 667.6 L1272.5 665.9 L1272.8 664.2 L1273.1 662.5 L1273.4 660.8 L1273.7 659.2 L1274.1 657.5 L1274.4 655.8 L1274.7 654.1 L1275 652.4 L1275.3 650.6 L1275.7 648.9 L1276 647.2 L1276.3 645.5 L1276.6 643.7 L1276.9 642 L1277.2 640.3 L1277.6 638.6 L1277.9 636.8 L1278.2 635.1 L1278.5 633.4 L1278.8 631.6 L1279.1 629.9 L1279.5 628.2 L1279.8 626.4 L1280.1 624.7 L1280.4 622.9 L1280.7 621.2 L1281.1 619.4 L1281.4 617.6 L1281.7 615.9 L1282 614.1 L1282.3 612.3 L1282.6 610.5 L1283 608.7 L1283.3 606.9 L1283.6 605.1 L1283.9 603.2 L1284.2 601.4 L1284.5 599.6 L1284.9 597.7 L1285.2 595.9 L1285.5 594 L1285.8 592.2 L1286.1 590.3 L1286.4 588.5 L1286.8 594.1 L1287.1 599.7 L1287.4 605.3 L1287.7 610.7 L1288 616.2 L1288.4 621.5 L1288.7 626.9 L1289 632.1 L1289.3 637.3 L1289.6 642.5 L1289.9 647.5 L1290.3 652.6 L1290.6 657.8 L1290.9 663 L1291.2 668.2 L1291.5 673.3 L1291.8 678.2 L1292.2 683 L1292.5 687.5 L1292.8 691.7 L1293.1 695.6 L1293.4 699.1 L1293.8 702.6 L1294.1 706 L1294.4 709.2 L1294.7 712.4 L1295 715.4 L1295.3 718.3 L1295.7 721.2 L1296 723.9 L1296.3 726.5 L1296.6 728.9 L1296.9 731.3 L1297.2 733.5 L1297.6 735.6 L1297.9 737.5 L1298.2 739.4 L1298.5 741.2 L1298.8 743 L1299.1 744.7 L1299.5 746.4 L1299.8 748.1 L1300.1 749.7 L1300.4 751.2 L1300.7 752.7 L1301.1 754.2 L1301.4 755.6 L1301.7 757 L1302 758.4 L1302.3 759.7 L1302.6 761 L1303 762.2 L1303.3 763.4 L1303.6 764.6 L1303.9 765.7 L1304.2 766.8 L1304.5 767.9 L1304.9 768.9 L1305.2 769.9 L1305.5 770.9 L1305.8 771.8 L1306.1 772.7 L1306.5 773.6 L1306.8 774.5 L1307.1 775.4 L1307.4 776.2 L1307.7 777.1 L1308 777.9 L1308.4 778.7 L1308.7 779.5 L1309 780.3 L1309.3 781.1 L1309.6 781.8 L1309.9 782.6 L1310.3 783.3 L1310.6 784.1 L1310.9 784.8 L1311.2 785.5 L1311.5 786.1 L1311.8 786.8 L1312.2 787.5 L1312.5 788.1 L1312.8 788.8 L1313.1 789.4 L1313.4 790 L1313.8 790.6 L1314.1 791.2 L1314.4 791.7 L1314.7 792.3 L1315 792.9 L1315.3 793.4 L1315.7 793.9 L1316 794.4 L1316.3 794.9 L1316.6 795.4 L1316.9 795.9 L1317.2 796.4 L1317.6 796.9 L1317.9 797.3 L1318.2 797.7 L1318.5 798.2 L1318.8 798.6 L1319.2 799 L1319.5 799.4 L1319.8 799.8 L1320.1 800.2 L1320.4 800.6 L1320.7 801 L1321.1 801.4 L1321.4 801.8 L1321.7 802.2 L1322 802.6 L1322.3 802.9 L1322.6 803.3 L1323 803.7 L1323.3 804 L1323.6 804.4 L1323.9 804.7 L1324.2 805 L1324.5 805.4 L1324.9 805.7 L1325.2 806 L1325.5 806.4 L1325.8 806.7 L1326.1 807 L1326.5 807.3 L1326.8 807.6 L1327.1 807.9 L1327.4 808.2 L1327.7 808.5 L1328 808.8 L1328.4 809.1 L1328.7 809.3 L1329 809.6 L1329.3 809.9 L1329.6 810.1 L1329.9 810.4 L1330.3 810.7 L1330.6 810.9 L1330.9 811.2 L1331.2 811.4 L1331.5 811.7 L1331.9 811.9 L1332.2 812.1 L1332.5 812.4 L1332.8 812.6 L1333.1 812.8 L1333.4 813 L1333.8 813.3 L1334.1 813.5 L1334.4 813.7 L1334.7 813.9 L1335 814.1 L1335.3 814.3 L1335.7 814.5 L1336 814.7 L1336.3 814.9 L1336.6 815.1 L1336.9 815.3 L1337.2 815.5 L1337.6 815.7 L1337.9 815.9 L1338.2 816.1 L1338.5 816.3 L1338.8 816.5 L1339.2 816.7 L1339.5 816.8 L1339.8 817 L1340.1 817.2 L1340.4 817.4 L1340.7 817.6 L1341.1 817.7 L1341.4 817.9 L1341.7 818.1 L1342 818.2 L1342.3 818.4 L1342.6 818.6 L1343 818.7 L1343.3 818.9 L1343.6 819 L1343.9 819.2 L1344.2 819.3 L1344.6 819.5 L1344.9 819.6 L1345.2 819.7 L1345.5 819.9 L1345.8 820 L1346.1 820.1 L1346.5 820.3 L1346.8 820.4 L1347.1 820.5 L1347.4 820.6 L1347.7 820.7 L1348 820.8 L1348.4 820.9 L1348.7 821 L1349 821.1 L1349.3 821.2 L1349.6 821.3 L1349.9 821.4" fill="none" stroke="#f57c10" stroke-width="4.7" stroke-linejoin="round"/>
<path d="M1349.2 511.2 L842.3 511.2 L842.3 881.5" fill="none" stroke="#111" stroke-width="1.6"/>
<line x1="841.3" y1="881.5" x2="1349.2" y2="881.5" stroke="#111" stroke-width="1.8"/>
<line x1="1349.2" y1="511.2" x2="1349.2" y2="882.5" stroke="#1818d0" stroke-width="1.8"/>
<line x1="842.3" y1="856.2" x2="849.8" y2="856.2" stroke="#111" stroke-width="1.5"/>
<line x1="842.3" y1="836.2" x2="846.3" y2="836.2" stroke="#111" stroke-width="1.5"/>
<line x1="842.3" y1="816.2" x2="849.8" y2="816.2" stroke="#111" stroke-width="1.5"/>
<line x1="842.3" y1="796.2" x2="846.3" y2="796.2" stroke="#111" stroke-width="1.5"/>
<line x1="842.3" y1="776.2" x2="849.8" y2="776.2" stroke="#111" stroke-width="1.5"/>
<line x1="842.3" y1="756.2" x2="846.3" y2="756.2" stroke="#111" stroke-width="1.5"/>
<line x1="842.3" y1="736.1" x2="849.8" y2="736.1" stroke="#111" stroke-width="1.5"/>
<line x1="842.3" y1="716.1" x2="846.3" y2="716.1" stroke="#111" stroke-width="1.5"/>
<line x1="842.3" y1="696.1" x2="849.8" y2="696.1" stroke="#111" stroke-width="1.5"/>
<line x1="842.3" y1="676.1" x2="846.3" y2="676.1" stroke="#111" stroke-width="1.5"/>
<line x1="842.3" y1="656.1" x2="849.8" y2="656.1" stroke="#111" stroke-width="1.5"/>
<line x1="842.3" y1="636.1" x2="846.3" y2="636.1" stroke="#111" stroke-width="1.5"/>
<line x1="842.3" y1="616.1" x2="849.8" y2="616.1" stroke="#111" stroke-width="1.5"/>
<line x1="842.3" y1="596.1" x2="846.3" y2="596.1" stroke="#111" stroke-width="1.5"/>
<line x1="842.3" y1="576.1" x2="849.8" y2="576.1" stroke="#111" stroke-width="1.5"/>
<line x1="842.3" y1="556.1" x2="846.3" y2="556.1" stroke="#111" stroke-width="1.5"/>
<line x1="842.3" y1="536" x2="849.8" y2="536" stroke="#111" stroke-width="1.5"/>
<line x1="842.3" y1="876.2" x2="846.3" y2="876.2" stroke="#111" stroke-width="1.5"/>
<line x1="842.3" y1="516" x2="846.3" y2="516" stroke="#111" stroke-width="1.5"/>
<text class="s" transform="translate(832.8,862.8) scale(0.95,1)" font-size="30.5" text-anchor="end" fill="#111">0</text>
<text class="s" transform="translate(832.8,822.8) scale(0.95,1)" font-size="30.5" text-anchor="end" fill="#111">100</text>
<text class="s" transform="translate(832.8,782.8) scale(0.95,1)" font-size="30.5" text-anchor="end" fill="#111">200</text>
<text class="s" transform="translate(832.8,742.7) scale(0.95,1)" font-size="30.5" text-anchor="end" fill="#111">300</text>
<text class="s" transform="translate(832.8,702.7) scale(0.95,1)" font-size="30.5" text-anchor="end" fill="#111">400</text>
<text class="s" transform="translate(832.8,662.7) scale(0.95,1)" font-size="30.5" text-anchor="end" fill="#111">500</text>
<text class="s" transform="translate(832.8,622.7) scale(0.95,1)" font-size="30.5" text-anchor="end" fill="#111">600</text>
<text class="s" transform="translate(832.8,582.7) scale(0.95,1)" font-size="30.5" text-anchor="end" fill="#111">700</text>
<text class="s" transform="translate(832.8,542.6) scale(0.95,1)" font-size="30.5" text-anchor="end" fill="#111">800</text>
<line x1="1349.2" y1="880.5" x2="1341.7" y2="880.5" stroke="#1818d0" stroke-width="1.5"/>
<line x1="1349.2" y1="852.1" x2="1345.2" y2="852.1" stroke="#1818d0" stroke-width="1.5"/>
<line x1="1349.2" y1="823.6" x2="1341.7" y2="823.6" stroke="#1818d0" stroke-width="1.5"/>
<line x1="1349.2" y1="795.2" x2="1345.2" y2="795.2" stroke="#1818d0" stroke-width="1.5"/>
<line x1="1349.2" y1="766.8" x2="1341.7" y2="766.8" stroke="#1818d0" stroke-width="1.5"/>
<line x1="1349.2" y1="738.4" x2="1345.2" y2="738.4" stroke="#1818d0" stroke-width="1.5"/>
<line x1="1349.2" y1="710" x2="1341.7" y2="710" stroke="#1818d0" stroke-width="1.5"/>
<line x1="1349.2" y1="681.5" x2="1345.2" y2="681.5" stroke="#1818d0" stroke-width="1.5"/>
<line x1="1349.2" y1="653.1" x2="1341.7" y2="653.1" stroke="#1818d0" stroke-width="1.5"/>
<line x1="1349.2" y1="624.7" x2="1345.2" y2="624.7" stroke="#1818d0" stroke-width="1.5"/>
<line x1="1349.2" y1="596.2" x2="1341.7" y2="596.2" stroke="#1818d0" stroke-width="1.5"/>
<line x1="1349.2" y1="567.8" x2="1345.2" y2="567.8" stroke="#1818d0" stroke-width="1.5"/>
<line x1="1349.2" y1="539.4" x2="1341.7" y2="539.4" stroke="#1818d0" stroke-width="1.5"/>
<text class="s" transform="translate(1357.6,890.1) scale(0.96,1)" font-size="29.5" text-anchor="start" fill="#1818d0">0</text>
<text class="s" transform="translate(1357.6,833.2) scale(0.96,1)" font-size="29.5" text-anchor="start" fill="#1818d0">100</text>
<text class="s" transform="translate(1357.6,776.4) scale(0.96,1)" font-size="29.5" text-anchor="start" fill="#1818d0">200</text>
<text class="s" transform="translate(1357.6,719.6) scale(0.96,1)" font-size="29.5" text-anchor="start" fill="#1818d0">300</text>
<text class="s" transform="translate(1357.6,662.7) scale(0.96,1)" font-size="29.5" text-anchor="start" fill="#1818d0">400</text>
<text class="s" transform="translate(1357.6,605.9) scale(0.96,1)" font-size="29.5" text-anchor="start" fill="#1818d0">500</text>
<text class="s" transform="translate(1357.6,549) scale(0.96,1)" font-size="29.5" text-anchor="start" fill="#1818d0">600</text>
<line x1="873.7" y1="881.5" x2="873.7" y2="874" stroke="#111" stroke-width="1.5"/>
<line x1="905.5" y1="881.5" x2="905.5" y2="877.5" stroke="#111" stroke-width="1.5"/>
<line x1="937.2" y1="881.5" x2="937.2" y2="874" stroke="#111" stroke-width="1.5"/>
<line x1="969" y1="881.5" x2="969" y2="877.5" stroke="#111" stroke-width="1.5"/>
<line x1="1000.7" y1="881.5" x2="1000.7" y2="874" stroke="#111" stroke-width="1.5"/>
<line x1="1032.5" y1="881.5" x2="1032.5" y2="877.5" stroke="#111" stroke-width="1.5"/>
<line x1="1064.2" y1="881.5" x2="1064.2" y2="874" stroke="#111" stroke-width="1.5"/>
<line x1="1096" y1="881.5" x2="1096" y2="877.5" stroke="#111" stroke-width="1.5"/>
<line x1="1127.7" y1="881.5" x2="1127.7" y2="874" stroke="#111" stroke-width="1.5"/>
<line x1="1159.5" y1="881.5" x2="1159.5" y2="877.5" stroke="#111" stroke-width="1.5"/>
<line x1="1191.2" y1="881.5" x2="1191.2" y2="874" stroke="#111" stroke-width="1.5"/>
<line x1="1223" y1="881.5" x2="1223" y2="877.5" stroke="#111" stroke-width="1.5"/>
<line x1="1254.7" y1="881.5" x2="1254.7" y2="874" stroke="#111" stroke-width="1.5"/>
<line x1="1286.5" y1="881.5" x2="1286.5" y2="877.5" stroke="#111" stroke-width="1.5"/>
<line x1="1318.2" y1="881.5" x2="1318.2" y2="874" stroke="#111" stroke-width="1.5"/>
<text class="s" transform="translate(874,912.2) scale(0.95,1)" font-size="30.5" text-anchor="middle" fill="#111">10</text>
<text class="s" transform="translate(937.5,912.2) scale(0.95,1)" font-size="30.5" text-anchor="middle" fill="#111">20</text>
<text class="s" transform="translate(1001,912.2) scale(0.95,1)" font-size="30.5" text-anchor="middle" fill="#111">30</text>
<text class="s" transform="translate(1064.5,912.2) scale(0.95,1)" font-size="30.5" text-anchor="middle" fill="#111">40</text>
<text class="s" transform="translate(1128,912.2) scale(0.95,1)" font-size="30.5" text-anchor="middle" fill="#111">50</text>
<text class="s" transform="translate(1191.5,912.2) scale(0.95,1)" font-size="30.5" text-anchor="middle" fill="#111">60</text>
<text class="s" transform="translate(1255,912.2) scale(0.95,1)" font-size="30.5" text-anchor="middle" fill="#111">70</text>
<text class="s" transform="translate(1318.5,912.2) scale(0.95,1)" font-size="30.5" text-anchor="middle" fill="#111">80</text>
<text class="s" x="1021.5" y="940" font-size="28" fill="#111" textLength="146.5" lengthAdjust="spacingAndGlyphs">Time (min)</text>
<text class="s" transform="translate(762.5,711.6) rotate(-90)" text-anchor="middle" font-size="27.5" fill="#111" textLength="184" lengthAdjust="spacingAndGlyphs">Response (%)</text>
<text class="s" transform="translate(1439.5,698) rotate(-90)" text-anchor="middle" font-size="29" fill="#1818d0" textLength="334" lengthAdjust="spacingAndGlyphs">NO<tspan font-size="20">2</tspan> concentration (ppm)</text>
</g>
</svg>
</body></html>
